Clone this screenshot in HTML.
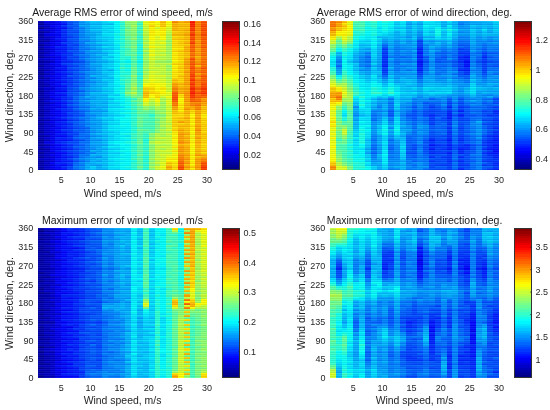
<!DOCTYPE html><html><head><meta charset="utf-8"><style>
html,body{margin:0;padding:0;background:#fff;width:550px;height:410px;overflow:hidden}
.c{position:absolute;top:0;height:149.50px}
.p{position:absolute;width:169.00px;height:149.50px;overflow:hidden;filter:blur(0.35px)}
.ov{position:absolute;left:0;top:0;right:0;bottom:0;background:repeating-linear-gradient(180deg,rgba(255,255,255,0.06) 0 1.038px,rgba(0,0,0,0.07) 1.038px 2.076px)}
.cb{position:absolute;width:18px;height:149.50px;box-sizing:border-box;border:0.6px solid #333}
svg{position:absolute;left:0;top:0}
text{font-family:"Liberation Sans",Arial,sans-serif;fill:#262626}
.t{font-size:9px}
.l{font-size:10.45px}
.yl{font-size:10.5px}
.h{font-size:10.5px;fill:#1a1a1a}
</style></head><body>

<div class="p" style="left:38.00px;top:20.75px">
<div class="c" style="left:0.00px;width:6.43px;background:linear-gradient(#0000b7 0.00px 2.08px,#00009d 2.08px 4.15px,#0000c3 4.15px 6.23px,#000092 6.23px 8.31px,#0000ca 8.31px 10.38px,#0000a5 10.38px 12.46px,#0000b3 12.46px 14.53px,#0000a4 14.53px 16.61px,#0000ba 16.61px 18.69px,#0000a5 18.69px 20.76px,#0000bf 20.76px 22.84px,#00009c 22.84px 24.92px,#0000ba 24.92px 26.99px,#00009c 26.99px 29.07px,#0000be 29.07px 31.15px,#0000a6 31.15px 33.22px,#0000ba 33.22px 35.30px,#00009f 35.30px 37.38px,#0000ca 37.38px 39.45px,#0000ab 39.45px 41.53px,#0000b9 41.53px 43.60px,#00009f 43.60px 45.68px,#0000b9 45.68px 47.76px,#0000a2 47.76px 49.83px,#0000a9 49.83px 51.91px,#000099 51.91px 53.99px,#0000b7 53.99px 56.06px,#00009e 56.06px 58.14px,#0000c1 58.14px 60.22px,#0000ac 60.22px 62.29px,#0000af 62.29px 64.37px,#0000a8 64.37px 66.44px,#0000b9 66.44px 68.52px,#0000a0 68.52px 70.60px,#0000ad 70.60px 74.75px,#0000b5 74.75px 76.83px,#0000a3 76.83px 78.90px,#0000b0 78.90px 80.98px,#0000ab 80.98px 83.06px,#0000aa 83.06px 85.13px,#0000b6 85.13px 87.21px,#0000b0 87.21px 89.28px,#0000a5 89.28px 91.36px,#0000b3 91.36px 93.44px,#0000a0 93.44px 95.51px,#0000bf 95.51px 97.59px,#0000a0 97.59px 99.67px,#0000c0 99.67px 101.74px,#0000a0 101.74px 103.82px,#0000b8 103.82px 105.90px,#0000b0 105.90px 107.97px,#0000b7 107.97px 110.05px,#00009d 110.05px 112.12px,#0000bf 112.12px 114.20px,#0000a2 114.20px 116.28px,#0000ba 116.28px 118.35px,#00009f 118.35px 120.43px,#0000ae 120.43px 122.51px,#00009f 122.51px 124.58px,#0000bc 124.58px 126.66px,#00009b 126.66px 128.74px,#0000c0 128.74px 130.81px,#00009d 130.81px 132.89px,#0000be 132.89px 134.97px,#0000a3 134.97px 137.04px,#0000c6 137.04px 139.12px,#0000a8 139.12px 141.19px,#0000b2 141.19px 143.27px,#0000ad 143.27px 145.35px,#0000b8 145.35px 147.42px,#0000a5 147.42px 149.50px)"></div>
<div class="c" style="left:5.83px;width:6.43px;background:linear-gradient(#0000f1 0.00px 2.08px,#0000cf 2.08px 4.15px,#0000d2 4.15px 6.23px,#0000c1 6.23px 8.31px,#0000e0 8.31px 10.38px,#0000ba 10.38px 12.46px,#0000e7 12.46px 14.53px,#0000cb 14.53px 16.61px,#0000c7 16.61px 18.69px,#0000b1 18.69px 20.76px,#0000d9 20.76px 22.84px,#0000bf 22.84px 24.92px,#0000e1 24.92px 26.99px,#0000c7 26.99px 29.07px,#0000d3 29.07px 31.15px,#0000c2 31.15px 33.22px,#0000e3 33.22px 35.30px,#0000c2 35.30px 37.38px,#0000de 37.38px 39.45px,#0000bd 39.45px 41.53px,#0000cf 41.53px 43.60px,#0000cb 43.60px 45.68px,#0000d5 45.68px 47.76px,#0000b9 47.76px 49.83px,#0000dc 49.83px 51.91px,#0000bf 51.91px 53.99px,#0000df 53.99px 56.06px,#0000c0 56.06px 58.14px,#0000ca 58.14px 60.22px,#0000d3 60.22px 62.29px,#0000ca 62.29px 64.37px,#0000b5 64.37px 66.44px,#0000dd 66.44px 68.52px,#0000c8 68.52px 70.60px,#0000d5 70.60px 72.67px,#0000cc 72.67px 74.75px,#0000c9 74.75px 76.83px,#0000c2 76.83px 78.90px,#0000de 78.90px 80.98px,#0000be 80.98px 83.06px,#0000d1 83.06px 85.13px,#0000d4 85.13px 89.28px,#0000c2 89.28px 91.36px,#0000cf 91.36px 93.44px,#0000cc 93.44px 95.51px,#0000da 95.51px 97.59px,#0000b9 97.59px 99.67px,#0000d6 99.67px 101.74px,#0000c7 101.74px 103.82px,#0000da 103.82px 105.90px,#0000d2 105.90px 110.05px,#0000ce 110.05px 112.12px,#0000df 112.12px 114.20px,#0000b3 114.20px 116.28px,#0000dd 116.28px 118.35px,#0000c0 118.35px 120.43px,#0000e5 120.43px 122.51px,#0000ba 122.51px 124.58px,#0000d8 124.58px 126.66px,#0000b8 126.66px 128.74px,#0000c6 128.74px 130.81px,#0000c7 130.81px 132.89px,#0000d1 132.89px 134.97px,#0000c4 134.97px 137.04px,#0000d7 137.04px 139.12px,#0000c2 139.12px 141.19px,#0000d5 141.19px 143.27px,#0000c4 143.27px 145.35px,#0000d8 145.35px 147.42px,#0000cb 147.42px 149.50px)"></div>
<div class="c" style="left:11.66px;width:6.43px;background:linear-gradient(#0000ea 0.00px 2.08px,#0000e6 2.08px 4.15px,#0001ff 4.15px 6.23px,#0000dc 6.23px 8.31px,#0000f0 8.31px 10.38px,#0000e5 10.38px 12.46px,#0001ff 12.46px 14.53px,#0000db 14.53px 16.61px,#0000ee 16.61px 18.69px,#0000e0 18.69px 20.76px,#0000fa 20.76px 22.84px,#0000e2 22.84px 24.92px,#0001ff 24.92px 26.99px,#0000e4 26.99px 29.07px,#0000ed 29.07px 31.15px,#0000ee 31.15px 33.22px,#0000fc 33.22px 35.30px,#0000de 35.30px 37.38px,#0000f5 37.38px 39.45px,#0000d7 39.45px 41.53px,#0000f9 41.53px 43.60px,#0000de 43.60px 45.68px,#0000ea 45.68px 47.76px,#0000df 47.76px 49.83px,#0000eb 49.83px 51.91px,#0000dc 51.91px 53.99px,#0000f6 53.99px 56.06px,#0000e5 56.06px 58.14px,#0000f8 58.14px 60.22px,#0000e6 60.22px 62.29px,#0000ef 62.29px 64.37px,#0000e4 64.37px 66.44px,#0000e1 66.44px 68.52px,#0000e6 68.52px 70.60px,#0000fc 70.60px 72.67px,#0000eb 72.67px 74.75px,#0000ff 74.75px 76.83px,#0000dc 76.83px 78.90px,#000eff 78.90px 80.98px,#0000db 80.98px 83.06px,#0000f6 83.06px 85.13px,#0000e8 85.13px 87.21px,#0000ef 87.21px 89.28px,#0000ee 89.28px 91.36px,#0000f1 91.36px 93.44px,#0000e5 93.44px 95.51px,#0000fd 95.51px 97.59px,#0000dd 97.59px 99.67px,#0000f6 99.67px 101.74px,#0000e9 101.74px 103.82px,#0000de 103.82px 105.90px,#0000ef 105.90px 107.97px,#0000ee 107.97px 110.05px,#0000e5 110.05px 112.12px,#0000ee 112.12px 114.20px,#0000e4 114.20px 116.28px,#0000f7 116.28px 118.35px,#0000e7 118.35px 120.43px,#0000f3 120.43px 122.51px,#0000e1 122.51px 124.58px,#0000fd 124.58px 126.66px,#0000e7 126.66px 128.74px,#0000f9 128.74px 130.81px,#0000d8 130.81px 132.89px,#0000f9 132.89px 134.97px,#0000d5 134.97px 137.04px,#0000eb 137.04px 139.12px,#0000d8 139.12px 141.19px,#0002ff 141.19px 143.27px,#0000de 143.27px 145.35px,#0000f8 145.35px 147.42px,#0000e4 147.42px 149.50px)"></div>
<div class="c" style="left:17.48px;width:6.43px;background:linear-gradient(#000eff 0.00px 2.08px,#0000f8 2.08px 4.15px,#000eff 4.15px 6.23px,#0008ff 6.23px 8.31px,#0006ff 8.31px 10.38px,#000cff 10.38px 12.46px,#0009ff 12.46px 14.53px,#0005ff 14.53px 16.61px,#0018ff 16.61px 18.69px,#0000f6 18.69px 20.76px,#0010ff 20.76px 22.84px,#0000fa 22.84px 24.92px,#0022ff 24.92px 26.99px,#000bff 26.99px 29.07px,#001aff 29.07px 31.15px,#0008ff 31.15px 33.22px,#0011ff 33.22px 35.30px,#0000f2 35.30px 37.38px,#0005ff 37.38px 39.45px,#0004ff 39.45px 41.53px,#000dff 41.53px 43.60px,#0000f7 43.60px 45.68px,#0018ff 45.68px 47.76px,#0000f7 47.76px 49.83px,#0018ff 49.83px 51.91px,#0000ff 51.91px 53.99px,#000eff 53.99px 56.06px,#0000fb 56.06px 58.14px,#0013ff 58.14px 60.22px,#0000f8 60.22px 62.29px,#000fff 62.29px 64.37px,#0000fa 64.37px 66.44px,#0014ff 66.44px 68.52px,#0000fc 68.52px 70.60px,#001dff 70.60px 72.67px,#0004ff 72.67px 74.75px,#0012ff 74.75px 76.83px,#0002ff 76.83px 78.90px,#0014ff 78.90px 80.98px,#0000fb 80.98px 83.06px,#0008ff 83.06px 85.13px,#0000f1 85.13px 87.21px,#001aff 87.21px 89.28px,#0000fe 89.28px 91.36px,#0008ff 91.36px 93.44px,#0000fb 93.44px 95.51px,#0012ff 95.51px 97.59px,#0000f4 97.59px 99.67px,#0019ff 99.67px 101.74px,#000aff 101.74px 103.82px,#0010ff 103.82px 105.90px,#0000fc 105.90px 107.97px,#0015ff 107.97px 110.05px,#0002ff 110.05px 112.12px,#0019ff 112.12px 114.20px,#0003ff 114.20px 116.28px,#0024ff 116.28px 118.35px,#000eff 118.35px 120.43px,#001fff 120.43px 122.51px,#0003ff 122.51px 124.58px,#0011ff 124.58px 126.66px,#0000fc 126.66px 128.74px,#0017ff 128.74px 130.81px,#0000fd 130.81px 132.89px,#0007ff 132.89px 134.97px,#0000fb 134.97px 137.04px,#0013ff 137.04px 139.12px,#0007ff 139.12px 141.19px,#0022ff 141.19px 143.27px,#000bff 143.27px 145.35px,#000cff 145.35px 147.42px,#0000fe 147.42px 149.50px)"></div>
<div class="c" style="left:23.31px;width:6.43px;background:linear-gradient(#0032ff 0.00px 2.08px,#0011ff 2.08px 4.15px,#0031ff 4.15px 6.23px,#000cff 6.23px 8.31px,#0035ff 8.31px 10.38px,#0022ff 10.38px 12.46px,#0032ff 12.46px 14.53px,#0024ff 14.53px 16.61px,#0026ff 16.61px 18.69px,#0016ff 18.69px 20.76px,#003aff 20.76px 22.84px,#0013ff 22.84px 24.92px,#0026ff 24.92px 26.99px,#0017ff 26.99px 29.07px,#0020ff 29.07px 31.15px,#001fff 31.15px 33.22px,#002dff 33.22px 35.30px,#0019ff 35.30px 37.38px,#0020ff 37.38px 39.45px,#0022ff 39.45px 41.53px,#003aff 41.53px 43.60px,#0013ff 43.60px 45.68px,#001cff 45.68px 47.76px,#000dff 47.76px 49.83px,#002cff 49.83px 51.91px,#0014ff 51.91px 53.99px,#0021ff 53.99px 56.06px,#001eff 56.06px 58.14px,#002aff 58.14px 60.22px,#0010ff 60.22px 62.29px,#0033ff 62.29px 64.37px,#0010ff 64.37px 66.44px,#0022ff 66.44px 68.52px,#0006ff 68.52px 70.60px,#002cff 70.60px 72.67px,#0010ff 72.67px 74.75px,#0027ff 74.75px 76.83px,#0021ff 76.83px 78.90px,#002fff 78.90px 80.98px,#0012ff 80.98px 83.06px,#0029ff 83.06px 85.13px,#0011ff 85.13px 87.21px,#002eff 87.21px 89.28px,#001dff 89.28px 91.36px,#001eff 91.36px 93.44px,#0013ff 93.44px 95.51px,#002fff 95.51px 97.59px,#0008ff 97.59px 99.67px,#002aff 99.67px 101.74px,#0015ff 101.74px 103.82px,#0029ff 103.82px 105.90px,#0012ff 105.90px 107.97px,#0039ff 107.97px 110.05px,#0015ff 110.05px 112.12px,#0022ff 112.12px 114.20px,#0006ff 114.20px 116.28px,#0025ff 116.28px 118.35px,#000fff 118.35px 120.43px,#0030ff 120.43px 122.51px,#0017ff 122.51px 124.58px,#002bff 124.58px 126.66px,#0010ff 126.66px 128.74px,#002dff 128.74px 130.81px,#000aff 130.81px 132.89px,#0025ff 132.89px 134.97px,#0012ff 134.97px 137.04px,#0025ff 137.04px 139.12px,#001aff 139.12px 141.19px,#002bff 141.19px 143.27px,#0008ff 143.27px 145.35px,#002eff 145.35px 147.42px,#0013ff 147.42px 149.50px)"></div>
<div class="c" style="left:29.14px;width:6.43px;background:linear-gradient(#0052ff 0.00px 2.08px,#0045ff 2.08px 4.15px,#0057ff 4.15px 6.23px,#003eff 6.23px 8.31px,#0052ff 8.31px 10.38px,#004aff 10.38px 12.46px,#0053ff 12.46px 14.53px,#0039ff 14.53px 16.61px,#0053ff 16.61px 18.69px,#0043ff 18.69px 20.76px,#0047ff 20.76px 22.84px,#0041ff 22.84px 24.92px,#0044ff 24.92px 26.99px,#0035ff 26.99px 29.07px,#0053ff 29.07px 31.15px,#0034ff 31.15px 33.22px,#003eff 33.22px 35.30px,#0040ff 35.30px 37.38px,#0043ff 37.38px 39.45px,#002cff 39.45px 41.53px,#0048ff 41.53px 43.60px,#0034ff 43.60px 45.68px,#004bff 45.68px 47.76px,#0034ff 47.76px 49.83px,#0048ff 49.83px 51.91px,#0029ff 51.91px 53.99px,#0054ff 53.99px 56.06px,#002eff 56.06px 58.14px,#0041ff 58.14px 60.22px,#0031ff 60.22px 62.29px,#003cff 62.29px 64.37px,#0039ff 64.37px 66.44px,#0049ff 66.44px 68.52px,#0041ff 68.52px 70.60px,#004eff 70.60px 72.67px,#0044ff 72.67px 74.75px,#0043ff 74.75px 76.83px,#0031ff 76.83px 78.90px,#0055ff 78.90px 80.98px,#0032ff 80.98px 83.06px,#0055ff 83.06px 85.13px,#0033ff 85.13px 87.21px,#0041ff 87.21px 89.28px,#002dff 89.28px 91.36px,#0047ff 91.36px 93.44px,#0031ff 93.44px 95.51px,#004bff 95.51px 97.59px,#0029ff 97.59px 99.67px,#004eff 99.67px 101.74px,#002bff 101.74px 103.82px,#003fff 103.82px 105.90px,#0028ff 105.90px 107.97px,#0043ff 107.97px 110.05px,#002cff 110.05px 112.12px,#0041ff 112.12px 114.20px,#0027ff 114.20px 116.28px,#0037ff 116.28px 118.35px,#001bff 118.35px 120.43px,#0049ff 120.43px 122.51px,#002dff 122.51px 124.58px,#003bff 124.58px 126.66px,#0024ff 126.66px 128.74px,#0046ff 128.74px 130.81px,#002bff 130.81px 132.89px,#003eff 132.89px 134.97px,#0020ff 134.97px 137.04px,#0045ff 137.04px 139.12px,#0021ff 139.12px 141.19px,#0040ff 141.19px 143.27px,#0026ff 143.27px 145.35px,#0047ff 145.35px 147.42px,#0040ff 147.42px 149.50px)"></div>
<div class="c" style="left:34.97px;width:6.43px;background:linear-gradient(#0065ff 0.00px 2.08px,#0064ff 2.08px 4.15px,#005bff 4.15px 6.23px,#005fff 6.23px 8.31px,#005dff 8.31px 10.38px,#0048ff 10.38px 12.46px,#0061ff 12.46px 14.53px,#004cff 14.53px 16.61px,#005bff 16.61px 18.69px,#004eff 18.69px 20.76px,#005bff 20.76px 22.84px,#003cff 22.84px 24.92px,#0056ff 24.92px 26.99px,#0048ff 26.99px 29.07px,#0053ff 29.07px 31.15px,#004bff 31.15px 33.22px,#005fff 33.22px 35.30px,#0040ff 35.30px 37.38px,#0055ff 37.38px 39.45px,#0040ff 39.45px 41.53px,#005fff 41.53px 43.60px,#003eff 43.60px 45.68px,#005dff 45.68px 47.76px,#003fff 47.76px 49.83px,#005eff 49.83px 51.91px,#004bff 51.91px 53.99px,#0056ff 53.99px 56.06px,#0045ff 56.06px 58.14px,#005bff 58.14px 60.22px,#0042ff 60.22px 62.29px,#0060ff 62.29px 64.37px,#0045ff 64.37px 66.44px,#005fff 66.44px 68.52px,#004bff 68.52px 70.60px,#0062ff 70.60px 72.67px,#0054ff 72.67px 74.75px,#0069ff 74.75px 76.83px,#005dff 76.83px 78.90px,#006bff 78.90px 80.98px,#0050ff 80.98px 83.06px,#006bff 83.06px 85.13px,#004aff 85.13px 87.21px,#0068ff 87.21px 89.28px,#0048ff 89.28px 91.36px,#004eff 91.36px 93.44px,#0045ff 93.44px 95.51px,#005cff 95.51px 97.59px,#003fff 97.59px 99.67px,#0061ff 99.67px 101.74px,#0052ff 101.74px 103.82px,#005cff 103.82px 105.90px,#0042ff 105.90px 107.97px,#0064ff 107.97px 110.05px,#0049ff 110.05px 112.12px,#0047ff 112.12px 114.20px,#004bff 114.20px 116.28px,#0066ff 116.28px 118.35px,#003fff 118.35px 120.43px,#004eff 120.43px 122.51px,#0047ff 122.51px 124.58px,#0063ff 124.58px 126.66px,#0044ff 126.66px 128.74px,#0057ff 128.74px 130.81px,#0041ff 130.81px 132.89px,#0052ff 132.89px 134.97px,#003fff 134.97px 137.04px,#006bff 137.04px 139.12px,#0049ff 139.12px 141.19px,#006cff 141.19px 143.27px,#0067ff 143.27px 145.35px,#007bff 145.35px 147.42px,#0068ff 147.42px 149.50px)"></div>
<div class="c" style="left:40.79px;width:6.43px;background:linear-gradient(#0098ff 0.00px 2.08px,#0092ff 2.08px 4.15px,#00a6ff 4.15px 6.23px,#007cff 6.23px 8.31px,#008bff 8.31px 10.38px,#007fff 10.38px 12.46px,#008bff 12.46px 14.53px,#007cff 14.53px 16.61px,#0090ff 16.61px 18.69px,#007cff 18.69px 20.76px,#007eff 20.76px 22.84px,#0072ff 22.84px 24.92px,#007cff 24.92px 26.99px,#0074ff 26.99px 29.07px,#007aff 29.07px 31.15px,#005fff 31.15px 33.22px,#007cff 33.22px 35.30px,#0067ff 35.30px 37.38px,#0075ff 37.38px 39.45px,#0054ff 39.45px 41.53px,#0066ff 41.53px 43.60px,#0063ff 43.60px 45.68px,#0067ff 45.68px 47.76px,#005eff 47.76px 49.83px,#007cff 49.83px 51.91px,#0059ff 51.91px 53.99px,#0071ff 53.99px 56.06px,#0059ff 56.06px 58.14px,#0079ff 58.14px 60.22px,#0061ff 60.22px 62.29px,#0072ff 62.29px 64.37px,#0068ff 64.37px 66.44px,#0087ff 66.44px 68.52px,#005cff 68.52px 70.60px,#0086ff 70.60px 72.67px,#006dff 72.67px 74.75px,#008aff 74.75px 76.83px,#007eff 76.83px 78.90px,#008fff 78.90px 80.98px,#0079ff 80.98px 83.06px,#0086ff 83.06px 85.13px,#006cff 85.13px 87.21px,#0084ff 87.21px 89.28px,#005dff 89.28px 91.36px,#0068ff 91.36px 93.44px,#0055ff 93.44px 95.51px,#007aff 95.51px 97.59px,#005eff 97.59px 99.67px,#0075ff 99.67px 101.74px,#0068ff 101.74px 103.82px,#0067ff 103.82px 105.90px,#0056ff 105.90px 107.97px,#0064ff 107.97px 110.05px,#005cff 110.05px 112.12px,#0071ff 112.12px 114.20px,#0066ff 114.20px 116.28px,#0078ff 116.28px 118.35px,#0050ff 118.35px 120.43px,#0070ff 120.43px 122.51px,#005eff 122.51px 124.58px,#006cff 124.58px 126.66px,#005eff 126.66px 128.74px,#0071ff 128.74px 130.81px,#005aff 130.81px 132.89px,#007aff 132.89px 134.97px,#0074ff 134.97px 137.04px,#0089ff 137.04px 139.12px,#006bff 139.12px 141.19px,#008cff 141.19px 143.27px,#0076ff 143.27px 145.35px,#0090ff 145.35px 147.42px,#0080ff 147.42px 149.50px)"></div>
<div class="c" style="left:46.62px;width:6.43px;background:linear-gradient(#00b6ff 0.00px 2.08px,#009dff 2.08px 4.15px,#00a9ff 4.15px 6.23px,#00a0ff 6.23px 8.31px,#00a7ff 8.31px 10.38px,#009aff 10.38px 12.46px,#00a4ff 12.46px 14.53px,#008dff 14.53px 16.61px,#009aff 16.61px 18.69px,#007dff 18.69px 20.76px,#00acff 20.76px 22.84px,#0081ff 22.84px 24.92px,#0091ff 24.92px 26.99px,#0075ff 26.99px 29.07px,#0096ff 29.07px 31.15px,#008aff 31.15px 33.22px,#0089ff 33.22px 35.30px,#007bff 35.30px 37.38px,#0093ff 37.38px 39.45px,#007cff 39.45px 41.53px,#007fff 41.53px 43.60px,#0081ff 43.60px 45.68px,#007dff 45.68px 47.76px,#006dff 47.76px 49.83px,#0094ff 49.83px 51.91px,#007fff 51.91px 53.99px,#0089ff 53.99px 56.06px,#0083ff 56.06px 58.14px,#0087ff 58.14px 60.22px,#007aff 60.22px 62.29px,#0092ff 62.29px 64.37px,#007eff 64.37px 66.44px,#0099ff 66.44px 68.52px,#0085ff 68.52px 70.60px,#00a0ff 70.60px 72.67px,#008fff 72.67px 74.75px,#00b1ff 74.75px 76.83px,#0086ff 76.83px 78.90px,#00a5ff 78.90px 80.98px,#0080ff 80.98px 83.06px,#0098ff 83.06px 85.13px,#0075ff 85.13px 87.21px,#0090ff 87.21px 89.28px,#0073ff 89.28px 91.36px,#0090ff 91.36px 93.44px,#007cff 93.44px 95.51px,#0082ff 95.51px 97.59px,#007eff 97.59px 99.67px,#008fff 99.67px 101.74px,#007bff 101.74px 103.82px,#008fff 103.82px 105.90px,#0062ff 105.90px 107.97px,#007dff 107.97px 110.05px,#0068ff 110.05px 112.12px,#007dff 112.12px 114.20px,#0064ff 114.20px 116.28px,#0073ff 116.28px 118.35px,#006dff 118.35px 120.43px,#0077ff 120.43px 122.51px,#0079ff 122.51px 124.58px,#007eff 124.58px 126.66px,#0079ff 126.66px 128.74px,#0076ff 128.74px 130.81px,#0077ff 130.81px 132.89px,#007cff 132.89px 134.97px,#0087ff 134.97px 137.04px,#009dff 137.04px 139.12px,#0088ff 139.12px 141.19px,#00a6ff 141.19px 143.27px,#00a9ff 143.27px 145.35px,#00adff 145.35px 147.42px,#00abff 147.42px 149.50px)"></div>
<div class="c" style="left:52.45px;width:6.43px;background:linear-gradient(#00cfff 0.00px 2.08px,#00b5ff 2.08px 4.15px,#00c8ff 4.15px 6.23px,#00b2ff 6.23px 8.31px,#00c7ff 8.31px 10.38px,#00acff 10.38px 14.53px,#00a8ff 14.53px 16.61px,#00adff 16.61px 18.69px,#009bff 18.69px 20.76px,#00adff 20.76px 22.84px,#0096ff 22.84px 24.92px,#00a7ff 24.92px 26.99px,#008fff 26.99px 29.07px,#00afff 29.07px 31.15px,#0091ff 31.15px 33.22px,#00a6ff 33.22px 35.30px,#0095ff 35.30px 37.38px,#00a5ff 37.38px 39.45px,#0095ff 39.45px 41.53px,#00abff 41.53px 43.60px,#0099ff 43.60px 45.68px,#009eff 45.68px 47.76px,#008cff 47.76px 49.83px,#00a0ff 49.83px 51.91px,#0090ff 51.91px 53.99px,#00baff 53.99px 56.06px,#0085ff 56.06px 58.14px,#00aaff 58.14px 60.22px,#008aff 60.22px 62.29px,#00a2ff 62.29px 64.37px,#009eff 64.37px 66.44px,#00afff 66.44px 68.52px,#0094ff 68.52px 70.60px,#00c1ff 70.60px 72.67px,#00acff 72.67px 74.75px,#00a8ff 74.75px 76.83px,#00a0ff 76.83px 78.90px,#00b7ff 78.90px 80.98px,#00a9ff 80.98px 83.06px,#00abff 83.06px 85.13px,#009cff 85.13px 87.21px,#00b4ff 87.21px 89.28px,#0093ff 89.28px 91.36px,#00a7ff 91.36px 93.44px,#0089ff 93.44px 95.51px,#00a1ff 95.51px 97.59px,#0097ff 97.59px 99.67px,#00a8ff 99.67px 101.74px,#008fff 101.74px 103.82px,#00a3ff 103.82px 105.90px,#0095ff 105.90px 107.97px,#00a0ff 107.97px 110.05px,#008bff 110.05px 112.12px,#00acff 112.12px 114.20px,#0089ff 114.20px 116.28px,#00a9ff 116.28px 118.35px,#0091ff 118.35px 120.43px,#00a5ff 120.43px 122.51px,#0099ff 122.51px 124.58px,#009bff 124.58px 126.66px,#008aff 126.66px 128.74px,#00b4ff 128.74px 130.81px,#0086ff 130.81px 132.89px,#00bcff 132.89px 134.97px,#009eff 134.97px 137.04px,#00b1ff 137.04px 139.12px,#00afff 139.12px 141.19px,#00b8ff 141.19px 143.27px,#00a5ff 143.27px 145.35px,#00d6ff 145.35px 147.42px,#00c2ff 147.42px 149.50px)"></div>
<div class="c" style="left:58.28px;width:6.43px;background:linear-gradient(#00c9ff 0.00px 2.08px,#00b4ff 2.08px 4.15px,#00cbff 4.15px 6.23px,#00b9ff 6.23px 8.31px,#00cdff 8.31px 10.38px,#00b1ff 10.38px 12.46px,#00c4ff 12.46px 14.53px,#00c3ff 14.53px 16.61px,#00c6ff 16.61px 18.69px,#00b0ff 18.69px 20.76px,#00ceff 20.76px 22.84px,#00a1ff 22.84px 24.92px,#00beff 24.92px 26.99px,#00a5ff 26.99px 29.07px,#00afff 29.07px 31.15px,#009fff 31.15px 33.22px,#00beff 33.22px 35.30px,#00a0ff 35.30px 37.38px,#00b7ff 37.38px 39.45px,#00a8ff 39.45px 41.53px,#00b4ff 41.53px 43.60px,#009fff 43.60px 45.68px,#00b1ff 45.68px 47.76px,#00a6ff 47.76px 49.83px,#00aeff 49.83px 51.91px,#00a1ff 51.91px 53.99px,#00b8ff 53.99px 56.06px,#00a6ff 56.06px 58.14px,#00b4ff 58.14px 60.22px,#00a2ff 60.22px 62.29px,#00baff 62.29px 64.37px,#00aaff 64.37px 66.44px,#00baff 66.44px 68.52px,#00a2ff 68.52px 70.60px,#00c2ff 70.60px 72.67px,#00b2ff 72.67px 74.75px,#00baff 74.75px 76.83px,#00afff 76.83px 78.90px,#00bcff 78.90px 80.98px,#00b1ff 80.98px 83.06px,#00baff 83.06px 85.13px,#00a8ff 85.13px 87.21px,#00adff 87.21px 89.28px,#009aff 89.28px 91.36px,#00aaff 91.36px 93.44px,#00a0ff 93.44px 95.51px,#00bdff 95.51px 97.59px,#00a0ff 97.59px 99.67px,#00acff 99.67px 101.74px,#00a0ff 101.74px 103.82px,#00aaff 103.82px 105.90px,#009eff 105.90px 107.97px,#00b6ff 107.97px 110.05px,#009cff 110.05px 112.12px,#00c0ff 112.12px 114.20px,#0096ff 114.20px 116.28px,#00b8ff 116.28px 118.35px,#008fff 118.35px 120.43px,#00abff 120.43px 122.51px,#009fff 122.51px 124.58px,#00aaff 124.58px 126.66px,#00a7ff 126.66px 128.74px,#00a8ff 128.74px 132.89px,#00b7ff 132.89px 134.97px,#0090ff 134.97px 137.04px,#00bfff 137.04px 139.12px,#00a2ff 139.12px 141.19px,#00c6ff 141.19px 143.27px,#009fff 143.27px 145.35px,#00b3ff 145.35px 147.42px,#00abff 147.42px 149.50px)"></div>
<div class="c" style="left:64.10px;width:6.43px;background:linear-gradient(#00dfff 0.00px 2.08px,#00c7ff 2.08px 4.15px,#00e5ff 4.15px 6.23px,#00daff 6.23px 8.31px,#00dbff 8.31px 10.38px,#00daff 10.38px 12.46px,#00e7ff 12.46px 14.53px,#00d0ff 14.53px 16.61px,#00d5ff 16.61px 18.69px,#00c1ff 18.69px 20.76px,#00dcff 20.76px 22.84px,#00b9ff 22.84px 24.92px,#00e3ff 24.92px 26.99px,#00bbff 26.99px 29.07px,#00d5ff 29.07px 31.15px,#00b3ff 31.15px 33.22px,#00c1ff 33.22px 35.30px,#00cbff 35.30px 37.38px,#00d2ff 37.38px 39.45px,#00b4ff 39.45px 41.53px,#00ceff 41.53px 43.60px,#00c7ff 43.60px 45.68px,#00ceff 45.68px 47.76px,#00bdff 47.76px 49.83px,#00d2ff 49.83px 51.91px,#00c0ff 51.91px 56.06px,#00bdff 56.06px 58.14px,#00d4ff 58.14px 60.22px,#00b7ff 60.22px 62.29px,#00c0ff 62.29px 64.37px,#00bbff 64.37px 66.44px,#00d5ff 66.44px 68.52px,#00baff 68.52px 70.60px,#00d5ff 70.60px 72.67px,#00b1ff 72.67px 74.75px,#00c5ff 74.75px 76.83px,#00b5ff 76.83px 78.90px,#00bfff 78.90px 80.98px,#00aaff 80.98px 83.06px,#00c0ff 83.06px 85.13px,#00a7ff 85.13px 87.21px,#00c4ff 87.21px 89.28px,#00a3ff 89.28px 91.36px,#00c3ff 91.36px 93.44px,#00b1ff 93.44px 95.51px,#00daff 95.51px 97.59px,#00bcff 97.59px 99.67px,#00cfff 99.67px 101.74px,#00b4ff 101.74px 103.82px,#00ceff 103.82px 105.90px,#00baff 105.90px 107.97px,#00d0ff 107.97px 110.05px,#00bcff 110.05px 112.12px,#00c7ff 112.12px 114.20px,#00aeff 114.20px 116.28px,#00c8ff 116.28px 118.35px,#00aeff 118.35px 120.43px,#00c1ff 120.43px 122.51px,#00a7ff 122.51px 124.58px,#00caff 124.58px 126.66px,#00abff 126.66px 128.74px,#00c7ff 128.74px 130.81px,#00b3ff 130.81px 132.89px,#00c7ff 132.89px 134.97px,#00bbff 134.97px 137.04px,#00bcff 137.04px 139.12px,#00bfff 139.12px 141.19px,#00c7ff 141.19px 143.27px,#00b6ff 143.27px 145.35px,#00cdff 145.35px 147.42px,#00b3ff 147.42px 149.50px)"></div>
<div class="c" style="left:69.93px;width:6.43px;background:linear-gradient(#00f0ff 0.00px 2.08px,#00c3ff 2.08px 4.15px,#00eaff 4.15px 6.23px,#00d7ff 6.23px 8.31px,#00e8ff 8.31px 10.38px,#00d2ff 10.38px 12.46px,#00edff 12.46px 14.53px,#00d7ff 14.53px 16.61px,#00ddff 16.61px 18.69px,#00d4ff 18.69px 20.76px,#00ddff 20.76px 22.84px,#00c7ff 22.84px 24.92px,#00dcff 24.92px 26.99px,#00c6ff 26.99px 29.07px,#00e1ff 29.07px 31.15px,#00ccff 31.15px 33.22px,#00eaff 33.22px 35.30px,#00c5ff 35.30px 37.38px,#00e8ff 37.38px 39.45px,#00c7ff 39.45px 41.53px,#00daff 41.53px 43.60px,#00d1ff 43.60px 45.68px,#00e3ff 45.68px 47.76px,#00b3ff 47.76px 49.83px,#00d2ff 49.83px 51.91px,#00ccff 51.91px 53.99px,#00daff 53.99px 56.06px,#00bcff 56.06px 58.14px,#00d7ff 58.14px 60.22px,#00ccff 60.22px 62.29px,#00dfff 62.29px 64.37px,#00d7ff 64.37px 66.44px,#00deff 66.44px 68.52px,#00caff 68.52px 70.60px,#00daff 70.60px 72.67px,#00d6ff 72.67px 74.75px,#00eaff 74.75px 76.83px,#00bfff 76.83px 78.90px,#00e2ff 78.90px 80.98px,#00cbff 80.98px 83.06px,#00e5ff 83.06px 85.13px,#00cdff 85.13px 87.21px,#00ebff 87.21px 89.28px,#00dbff 89.28px 91.36px,#00d8ff 91.36px 93.44px,#00caff 93.44px 95.51px,#00dbff 95.51px 97.59px,#00c7ff 97.59px 99.67px,#00e4ff 99.67px 101.74px,#00d2ff 101.74px 103.82px,#00edff 103.82px 105.90px,#00dcff 105.90px 107.97px,#00ebff 107.97px 110.05px,#00c9ff 110.05px 112.12px,#00e2ff 112.12px 114.20px,#00caff 114.20px 116.28px,#00d9ff 116.28px 118.35px,#00ceff 118.35px 120.43px,#00ecff 120.43px 122.51px,#00d2ff 122.51px 124.58px,#00f1ff 124.58px 126.66px,#00ceff 126.66px 128.74px,#00e6ff 128.74px 130.81px,#00d0ff 130.81px 132.89px,#00e7ff 132.89px 134.97px,#00d4ff 134.97px 137.04px,#00eeff 137.04px 139.12px,#00d1ff 139.12px 141.19px,#00e9ff 141.19px 143.27px,#00d5ff 143.27px 145.35px,#00eaff 145.35px 147.42px,#00d8ff 147.42px 149.50px)"></div>
<div class="c" style="left:75.76px;width:6.43px;background:linear-gradient(#00feff 0.00px 2.08px,#02fffd 2.08px 4.15px,#00feff 4.15px 6.23px,#00fdff 6.23px 8.31px,#05fffa 8.31px 10.38px,#00f2ff 10.38px 12.46px,#11ffee 12.46px 14.53px,#00f7ff 14.53px 16.61px,#10ffef 16.61px 18.69px,#00f1ff 18.69px 20.76px,#0bfff4 20.76px 22.84px,#00eaff 22.84px 24.92px,#00f6ff 24.92px 26.99px,#00e3ff 26.99px 29.07px,#06fff9 29.07px 31.15px,#00e8ff 31.15px 33.22px,#02fffd 33.22px 35.30px,#00f2ff 35.30px 37.38px,#01fffe 37.38px 39.45px,#00e8ff 39.45px 41.53px,#00fcff 41.53px 43.60px,#00eaff 43.60px 45.68px,#02fffd 45.68px 47.76px,#00e9ff 47.76px 49.83px,#00fcff 49.83px 51.91px,#00f0ff 51.91px 53.99px,#0bfff4 53.99px 56.06px,#00f6ff 56.06px 58.14px,#00f5ff 58.14px 60.22px,#00fcff 60.22px 62.29px,#00fbff 62.29px 64.37px,#00ecff 64.37px 66.44px,#03fffc 66.44px 68.52px,#00f0ff 68.52px 70.60px,#02fffd 70.60px 72.67px,#00d5ff 72.67px 74.75px,#00f6ff 74.75px 76.83px,#00e2ff 76.83px 78.90px,#00f6ff 78.90px 80.98px,#00d6ff 80.98px 83.06px,#00e8ff 83.06px 85.13px,#00d4ff 85.13px 87.21px,#00f3ff 87.21px 89.28px,#00e3ff 89.28px 91.36px,#00ebff 91.36px 93.44px,#00d8ff 93.44px 95.51px,#00fbff 95.51px 97.59px,#00e1ff 97.59px 99.67px,#00ebff 99.67px 101.74px,#00dbff 101.74px 103.82px,#00f6ff 103.82px 105.90px,#00e6ff 105.90px 107.97px,#00f2ff 107.97px 110.05px,#00dbff 110.05px 112.12px,#00e4ff 112.12px 114.20px,#00e6ff 114.20px 116.28px,#00eaff 116.28px 118.35px,#00e0ff 118.35px 120.43px,#00fcff 120.43px 122.51px,#00e1ff 122.51px 124.58px,#00efff 124.58px 126.66px,#00d5ff 126.66px 128.74px,#00f1ff 128.74px 130.81px,#00d1ff 130.81px 132.89px,#00eaff 132.89px 134.97px,#00e1ff 134.97px 137.04px,#00f9ff 137.04px 139.12px,#00e4ff 139.12px 141.19px,#00edff 141.19px 143.27px,#00e2ff 143.27px 145.35px,#00f0ff 145.35px 147.42px,#00d9ff 147.42px 149.50px)"></div>
<div class="c" style="left:81.59px;width:6.43px;background:linear-gradient(#38ffc7 0.00px 2.08px,#21ffde 2.08px 4.15px,#38ffc7 4.15px 6.23px,#21ffde 6.23px 8.31px,#37ffc8 8.31px 10.38px,#23ffdc 10.38px 12.46px,#34ffcb 12.46px 14.53px,#18ffe7 14.53px 16.61px,#33ffcc 16.61px 18.69px,#19ffe6 18.69px 20.76px,#2effd1 20.76px 22.84px,#1dffe2 22.84px 24.92px,#35ffca 24.92px 26.99px,#1cffe3 26.99px 29.07px,#27ffd8 29.07px 31.15px,#28ffd7 31.15px 33.22px,#27ffd8 33.22px 35.30px,#21ffde 35.30px 37.38px,#2effd1 37.38px 39.45px,#10ffef 39.45px 41.53px,#2dffd2 41.53px 43.60px,#1dffe2 43.60px 45.68px,#40ffbf 45.68px 47.76px,#18ffe7 47.76px 49.83px,#28ffd7 49.83px 51.91px,#19ffe6 51.91px 53.99px,#2fffd0 53.99px 56.06px,#17ffe8 56.06px 58.14px,#33ffcc 58.14px 60.22px,#14ffeb 60.22px 62.29px,#2bffd4 62.29px 64.37px,#06fff9 64.37px 66.44px,#18ffe7 66.44px 68.52px,#15ffea 68.52px 70.60px,#25ffda 70.60px 72.67px,#0afff5 72.67px 74.75px,#0dfff2 74.75px 76.83px,#00f6ff 76.83px 78.90px,#00ffff 78.90px 80.98px,#00ebff 80.98px 83.06px,#08fff7 83.06px 85.13px,#00e2ff 85.13px 87.21px,#08fff7 87.21px 89.28px,#00ecff 89.28px 91.36px,#0efff1 91.36px 93.44px,#00e7ff 93.44px 95.51px,#01fffe 95.51px 97.59px,#00feff 97.59px 99.67px,#0ffff0 99.67px 101.74px,#00faff 101.74px 103.82px,#0ffff0 103.82px 105.90px,#00f2ff 105.90px 107.97px,#00f8ff 107.97px 110.05px,#00f3ff 110.05px 112.12px,#10ffef 112.12px 114.20px,#00ebff 114.20px 116.28px,#06fff9 116.28px 118.35px,#00ecff 118.35px 120.43px,#08fff7 120.43px 122.51px,#00fdff 122.51px 124.58px,#05fffa 124.58px 126.66px,#00edff 126.66px 128.74px,#0cfff3 128.74px 130.81px,#00e9ff 130.81px 132.89px,#0dfff2 132.89px 134.97px,#00efff 134.97px 137.04px,#0ffff0 137.04px 139.12px,#00efff 139.12px 141.19px,#0cfff3 141.19px 143.27px,#00f8ff 143.27px 145.35px,#08fff7 145.35px 147.42px,#00f5ff 147.42px 149.50px)"></div>
<div class="c" style="left:87.41px;width:6.43px;background:linear-gradient(#8fff70 0.00px 2.08px,#88ff77 2.08px 4.15px,#7fff80 4.15px 6.23px,#67ff98 6.23px 8.31px,#85ff7a 8.31px 10.38px,#6dff92 10.38px 12.46px,#78ff87 12.46px 14.53px,#5cffa3 14.53px 16.61px,#6aff95 16.61px 18.69px,#51ffae 18.69px 20.76px,#5cffa3 20.76px 22.84px,#4bffb4 22.84px 24.92px,#5fffa0 24.92px 26.99px,#3effc1 26.99px 29.07px,#48ffb7 29.07px 33.22px,#51ffae 33.22px 35.30px,#22ffdd 35.30px 37.38px,#1dffe2 37.38px 39.45px,#00fcff 39.45px 41.53px,#23ffdc 41.53px 43.60px,#04fffb 43.60px 45.68px,#26ffd9 45.68px 47.76px,#06fff9 47.76px 49.83px,#22ffdd 49.83px 51.91px,#1bffe4 51.91px 53.99px,#3effc1 53.99px 56.06px,#2bffd4 56.06px 58.14px,#4fffb0 58.14px 60.22px,#41ffbe 60.22px 62.29px,#60ff9f 62.29px 64.37px,#58ffa7 64.37px 66.44px,#69ff96 66.44px 68.52px,#67ff98 68.52px 70.60px,#96ff69 70.60px 72.67px,#67ff98 72.67px 74.75px,#3dffc2 74.75px 76.83px,#18ffe7 76.83px 78.90px,#1dffe2 78.90px 80.98px,#09fff6 80.98px 83.06px,#15ffea 83.06px 85.13px,#04fffb 85.13px 87.21px,#1affe5 87.21px 89.28px,#00faff 89.28px 91.36px,#19ffe6 91.36px 93.44px,#00faff 93.44px 95.51px,#13ffec 95.51px 97.59px,#04fffb 97.59px 99.67px,#0bfff4 99.67px 101.74px,#00f8ff 101.74px 103.82px,#04fffb 103.82px 105.90px,#00f4ff 105.90px 107.97px,#08fff7 107.97px 110.05px,#00f3ff 110.05px 112.12px,#16ffe9 112.12px 114.20px,#00e6ff 114.20px 116.28px,#13ffec 116.28px 118.35px,#00f4ff 118.35px 120.43px,#18ffe7 120.43px 122.51px,#00f5ff 122.51px 124.58px,#0bfff4 124.58px 126.66px,#04fffb 126.66px 128.74px,#0afff5 128.74px 130.81px,#00f7ff 130.81px 132.89px,#00fcff 132.89px 134.97px,#00f3ff 134.97px 137.04px,#06fff9 137.04px 139.12px,#00f7ff 139.12px 141.19px,#03fffc 141.19px 143.27px,#00f8ff 143.27px 145.35px,#17ffe8 145.35px 147.42px,#00f4ff 147.42px 149.50px)"></div>
<div class="c" style="left:93.24px;width:6.43px;background:linear-gradient(#a0ff5f 0.00px 2.08px,#92ff6d 2.08px 4.15px,#acff53 4.15px 6.23px,#92ff6d 6.23px 8.31px,#96ff69 8.31px 10.38px,#89ff76 10.38px 12.46px,#8bff74 12.46px 14.53px,#7eff81 14.53px 16.61px,#93ff6c 16.61px 18.69px,#6cff93 18.69px 20.76px,#81ff7e 20.76px 22.84px,#6fff90 22.84px 24.92px,#8aff75 24.92px 26.99px,#71ff8e 26.99px 29.07px,#73ff8c 29.07px 31.15px,#58ffa7 31.15px 33.22px,#73ff8c 33.22px 35.30px,#52ffad 35.30px 37.38px,#69ff96 37.38px 39.45px,#4effb1 39.45px 41.53px,#62ff9d 41.53px 43.60px,#58ffa7 43.60px 45.68px,#76ff89 45.68px 47.76px,#68ff97 47.76px 49.83px,#75ff8a 49.83px 51.91px,#70ff8f 51.91px 53.99px,#97ff68 53.99px 56.06px,#7eff81 56.06px 58.14px,#87ff78 58.14px 62.29px,#9cff63 62.29px 64.37px,#9aff65 64.37px 66.44px,#b5ff4a 66.44px 68.52px,#93ff6c 68.52px 70.60px,#c1ff3e 70.60px 72.67px,#90ff6f 72.67px 74.75px,#76ff89 74.75px 76.83px,#38ffc7 76.83px 78.90px,#63ff9c 78.90px 80.98px,#3affc5 80.98px 83.06px,#4cffb3 83.06px 85.13px,#2effd1 85.13px 87.21px,#43ffbc 87.21px 89.28px,#23ffdc 89.28px 91.36px,#38ffc7 91.36px 93.44px,#25ffda 93.44px 95.51px,#2fffd0 95.51px 97.59px,#22ffdd 97.59px 99.67px,#2fffd0 99.67px 101.74px,#30ffcf 101.74px 103.82px,#2effd1 103.82px 105.90px,#1fffe0 105.90px 107.97px,#2fffd0 107.97px 110.05px,#1effe1 110.05px 112.12px,#3cffc3 112.12px 114.20px,#30ffcf 114.20px 116.28px,#44ffbb 116.28px 118.35px,#1fffe0 118.35px 120.43px,#3effc1 120.43px 122.51px,#20ffdf 122.51px 124.58px,#2affd5 124.58px 126.66px,#2dffd2 126.66px 128.74px,#39ffc6 128.74px 130.81px,#1effe1 130.81px 132.89px,#30ffcf 132.89px 134.97px,#24ffdb 134.97px 137.04px,#3fffc0 137.04px 139.12px,#18ffe7 139.12px 141.19px,#2fffd0 141.19px 143.27px,#2affd5 143.27px 145.35px,#2fffd0 145.35px 147.42px,#1fffe0 147.42px 149.50px)"></div>
<div class="c" style="left:99.07px;width:6.43px;background:linear-gradient(#5dffa2 0.00px 2.08px,#31ffce 2.08px 4.15px,#4fffb0 4.15px 6.23px,#2fffd0 6.23px 8.31px,#4bffb4 8.31px 10.38px,#2effd1 10.38px 12.46px,#45ffba 12.46px 14.53px,#28ffd7 14.53px 16.61px,#3effc1 16.61px 18.69px,#2cffd3 18.69px 20.76px,#36ffc9 20.76px 22.84px,#17ffe8 22.84px 24.92px,#2affd5 24.92px 26.99px,#15ffea 26.99px 29.07px,#24ffdb 29.07px 31.15px,#0ffff0 31.15px 33.22px,#2effd1 33.22px 35.30px,#10ffef 35.30px 37.38px,#22ffdd 37.38px 39.45px,#05fffa 39.45px 41.53px,#21ffde 41.53px 43.60px,#19ffe6 43.60px 45.68px,#2cffd3 45.68px 47.76px,#20ffdf 47.76px 49.83px,#33ffcc 49.83px 51.91px,#15ffea 51.91px 53.99px,#38ffc7 53.99px 56.06px,#1bffe4 56.06px 58.14px,#3bffc4 58.14px 62.29px,#4affb5 62.29px 64.37px,#3fffc0 64.37px 66.44px,#62ff9d 66.44px 68.52px,#50ffaf 68.52px 70.60px,#63ff9c 70.60px 72.67px,#65ff9a 72.67px 74.75px,#78ff87 74.75px 76.83px,#83ff7c 76.83px 78.90px,#82ff7d 78.90px 80.98px,#65ff9a 80.98px 83.06px,#7cff83 83.06px 85.13px,#5cffa3 85.13px 87.21px,#70ff8f 87.21px 89.28px,#5effa1 89.28px 91.36px,#6fff90 91.36px 93.44px,#4fffb0 93.44px 95.51px,#6fff90 95.51px 97.59px,#5fffa0 97.59px 99.67px,#73ff8c 99.67px 101.74px,#63ff9c 101.74px 103.82px,#6dff92 103.82px 105.90px,#47ffb8 105.90px 107.97px,#71ff8e 107.97px 110.05px,#55ffaa 110.05px 112.12px,#63ff9c 112.12px 114.20px,#52ffad 114.20px 116.28px,#5dffa2 116.28px 118.35px,#63ff9c 118.35px 120.43px,#74ff8b 120.43px 122.51px,#52ffad 122.51px 124.58px,#60ff9f 124.58px 126.66px,#57ffa8 126.66px 128.74px,#68ff97 128.74px 130.81px,#51ffae 130.81px 132.89px,#71ff8e 132.89px 134.97px,#4dffb2 134.97px 137.04px,#6bff94 137.04px 139.12px,#58ffa7 139.12px 141.19px,#62ff9d 141.19px 143.27px,#4effb1 143.27px 145.35px,#75ff8a 145.35px 147.42px,#52ffad 147.42px 149.50px)"></div>
<div class="c" style="left:104.90px;width:6.43px;background:linear-gradient(#e4ff1b 0.00px 2.08px,#e8ff17 2.08px 4.15px,#d7ff28 4.15px 6.23px,#caff35 6.23px 8.31px,#d2ff2d 8.31px 10.38px,#c1ff3e 10.38px 12.46px,#c3ff3c 12.46px 14.53px,#adff52 14.53px 16.61px,#c0ff3f 16.61px 18.69px,#a0ff5f 18.69px 20.76px,#c6ff39 20.76px 22.84px,#a0ff5f 22.84px 24.92px,#bdff42 24.92px 26.99px,#93ff6c 26.99px 29.07px,#b9ff46 29.07px 31.15px,#8aff75 31.15px 33.22px,#abff54 33.22px 35.30px,#99ff66 35.30px 37.38px,#a5ff5a 37.38px 39.45px,#91ff6e 39.45px 41.53px,#99ff66 41.53px 45.68px,#acff53 45.68px 47.76px,#8aff75 47.76px 49.83px,#b4ff4b 49.83px 51.91px,#9eff61 51.91px 53.99px,#c0ff3f 53.99px 56.06px,#b0ff4f 56.06px 58.14px,#dbff24 58.14px 60.22px,#cdff32 60.22px 62.29px,#f8ff07 62.29px 64.37px,#fdff02 64.37px 66.44px,#ffd600 66.44px 68.52px,#ffd400 68.52px 70.60px,#ffb800 70.60px 72.67px,#ffc500 72.67px 74.75px,#ffc700 74.75px 76.83px,#fffe00 76.83px 78.90px,#fff700 78.90px 80.98px,#d5ff2a 80.98px 83.06px,#d6ff29 83.06px 85.13px,#95ff6a 85.13px 87.21px,#9aff65 87.21px 89.28px,#6bff94 89.28px 91.36px,#60ff9f 91.36px 93.44px,#48ffb7 93.44px 95.51px,#55ffaa 95.51px 97.59px,#41ffbe 97.59px 99.67px,#57ffa8 99.67px 101.74px,#42ffbd 101.74px 103.82px,#4dffb2 103.82px 105.90px,#3cffc3 105.90px 107.97px,#62ff9d 107.97px 110.05px,#45ffba 110.05px 112.12px,#3bffc4 112.12px 114.20px,#30ffcf 114.20px 116.28px,#3cffc3 116.28px 118.35px,#18ffe7 118.35px 120.43px,#2cffd3 120.43px 122.51px,#33ffcc 122.51px 124.58px,#38ffc7 124.58px 126.66px,#27ffd8 126.66px 128.74px,#3effc1 128.74px 130.81px,#23ffdc 130.81px 132.89px,#35ffca 132.89px 134.97px,#1dffe2 134.97px 137.04px,#2effd1 137.04px 139.12px,#1effe1 139.12px 141.19px,#3cffc3 141.19px 143.27px,#1fffe0 143.27px 145.35px,#39ffc6 145.35px 147.42px,#1effe1 147.42px 149.50px)"></div>
<div class="c" style="left:110.72px;width:6.43px;background:linear-gradient(#ffe600 0.00px 2.08px,#fff600 2.08px 4.15px,#ffd400 4.15px 6.23px,#fff900 6.23px 8.31px,#fff200 8.31px 10.38px,#ffee00 10.38px 12.46px,#fff700 12.46px 14.53px,#f9ff06 14.53px 16.61px,#fffe00 16.61px 18.69px,#eaff15 18.69px 20.76px,#f4ff0b 20.76px 22.84px,#e0ff1f 22.84px 24.92px,#fff800 24.92px 26.99px,#daff25 26.99px 29.07px,#f3ff0c 29.07px 31.15px,#dcff23 31.15px 33.22px,#f7ff08 33.22px 35.30px,#d4ff2b 35.30px 37.38px,#e0ff1f 37.38px 39.45px,#c7ff38 39.45px 41.53px,#cfff30 41.53px 43.60px,#c9ff36 43.60px 45.68px,#d6ff29 45.68px 47.76px,#c0ff3f 47.76px 49.83px,#e3ff1c 49.83px 51.91px,#d4ff2b 51.91px 53.99px,#ecff13 53.99px 56.06px,#dfff20 56.06px 58.14px,#f5ff0a 58.14px 60.22px,#eaff15 60.22px 62.29px,#fff500 62.29px 64.37px,#fff700 64.37px 66.44px,#ffdf00 66.44px 68.52px,#ffe700 68.52px 70.60px,#ffd100 70.60px 72.67px,#fffc00 72.67px 74.75px,#f9ff06 74.75px 76.83px,#d8ff27 76.83px 78.90px,#c5ff3a 78.90px 80.98px,#a7ff58 80.98px 83.06px,#acff53 83.06px 85.13px,#82ff7d 85.13px 87.21px,#7eff81 87.21px 89.28px,#58ffa7 89.28px 91.36px,#5affa5 91.36px 93.44px,#29ffd6 93.44px 95.51px,#4cffb3 95.51px 97.59px,#39ffc6 97.59px 99.67px,#50ffaf 99.67px 101.74px,#40ffbf 101.74px 103.82px,#53ffac 103.82px 105.90px,#3bffc4 105.90px 107.97px,#54ffab 107.97px 110.05px,#4fffb0 110.05px 112.12px,#90ff6f 112.12px 114.20px,#7bff84 114.20px 116.28px,#a3ff5c 116.28px 118.35px,#88ff77 118.35px 120.43px,#b4ff4b 120.43px 122.51px,#8aff75 122.51px 124.58px,#8cff73 124.58px 126.66px,#8dff72 126.66px 128.74px,#9cff63 128.74px 130.81px,#84ff7b 130.81px 132.89px,#8eff71 132.89px 134.97px,#89ff76 134.97px 137.04px,#a2ff5d 137.04px 139.12px,#82ff7d 139.12px 141.19px,#a0ff5f 141.19px 143.27px,#84ff7b 143.27px 145.35px,#a9ff56 145.35px 147.42px,#87ff78 147.42px 149.50px)"></div>
<div class="c" style="left:116.55px;width:6.43px;background:linear-gradient(#fdff02 0.00px 2.08px,#efff10 2.08px 4.15px,#fff800 4.15px 6.23px,#d4ff2b 6.23px 8.31px,#f4ff0b 8.31px 10.38px,#f7ff08 10.38px 12.46px,#f6ff09 12.46px 14.53px,#d8ff27 14.53px 16.61px,#e8ff17 16.61px 18.69px,#d3ff2c 18.69px 20.76px,#dfff20 20.76px 22.84px,#caff35 22.84px 24.92px,#e6ff19 24.92px 26.99px,#c3ff3c 26.99px 29.07px,#d6ff29 29.07px 31.15px,#c4ff3b 31.15px 33.22px,#d3ff2c 33.22px 35.30px,#b6ff49 35.30px 37.38px,#c9ff36 37.38px 39.45px,#a1ff5e 39.45px 41.53px,#c3ff3c 41.53px 43.60px,#adff52 43.60px 45.68px,#cfff30 45.68px 47.76px,#bfff40 47.76px 49.83px,#d4ff2b 49.83px 51.91px,#c6ff39 51.91px 53.99px,#e1ff1e 53.99px 56.06px,#ccff33 56.06px 58.14px,#edff12 58.14px 60.22px,#dfff20 60.22px 62.29px,#fffd00 62.29px 64.37px,#fffe00 64.37px 68.52px,#fff900 68.52px 70.60px,#ffdc00 70.60px 72.67px,#ffec00 72.67px 74.75px,#ffdb00 74.75px 76.83px,#f3ff0c 76.83px 78.90px,#ffff00 78.90px 80.98px,#d7ff28 80.98px 83.06px,#dcff23 83.06px 85.13px,#b1ff4e 85.13px 87.21px,#b3ff4c 87.21px 89.28px,#8eff71 89.28px 91.36px,#98ff67 91.36px 93.44px,#76ff89 93.44px 95.51px,#8cff73 95.51px 97.59px,#66ff99 97.59px 99.67px,#8bff74 99.67px 101.74px,#74ff8b 101.74px 103.82px,#83ff7c 103.82px 105.90px,#79ff86 105.90px 107.97px,#94ff6b 107.97px 110.05px,#81ff7e 110.05px 112.12px,#bbff44 112.12px 114.20px,#b4ff4b 114.20px 116.28px,#c8ff37 116.28px 118.35px,#aeff51 118.35px 120.43px,#d6ff29 120.43px 122.51px,#b5ff4a 122.51px 124.58px,#c8ff37 124.58px 126.66px,#c0ff3f 126.66px 128.74px,#cfff30 128.74px 130.81px,#b8ff47 130.81px 132.89px,#c8ff37 132.89px 134.97px,#b8ff47 134.97px 137.04px,#d5ff2a 137.04px 139.12px,#b1ff4e 139.12px 141.19px,#d0ff2f 141.19px 143.27px,#a8ff57 143.27px 145.35px,#d7ff28 145.35px 147.42px,#ccff33 147.42px 149.50px)"></div>
<div class="c" style="left:122.38px;width:6.43px;background:linear-gradient(#ffbc00 0.00px 2.08px,#ffcf00 2.08px 4.15px,#ffc700 4.15px 6.23px,#fff100 6.23px 8.31px,#ffea00 8.31px 10.38px,#fffa00 10.38px 12.46px,#fff200 12.46px 14.53px,#f9ff06 14.53px 16.61px,#fdff02 16.61px 18.69px,#d0ff2f 18.69px 20.76px,#f3ff0c 20.76px 22.84px,#c9ff36 22.84px 24.92px,#dcff23 24.92px 26.99px,#c6ff39 26.99px 29.07px,#dbff24 29.07px 31.15px,#b5ff4a 31.15px 33.22px,#d5ff2a 33.22px 35.30px,#b5ff4a 35.30px 37.38px,#c3ff3c 37.38px 39.45px,#a1ff5e 39.45px 41.53px,#bcff43 41.53px 43.60px,#bfff40 43.60px 45.68px,#c8ff37 45.68px 47.76px,#c3ff3c 47.76px 51.91px,#bdff42 51.91px 53.99px,#e1ff1e 53.99px 56.06px,#c6ff39 56.06px 58.14px,#deff21 58.14px 60.22px,#d8ff27 60.22px 62.29px,#f3ff0c 62.29px 64.37px,#f1ff0e 64.37px 66.44px,#ffef00 66.44px 68.52px,#fcff03 68.52px 70.60px,#fff400 70.60px 72.67px,#ebff14 72.67px 74.75px,#d0ff2f 74.75px 76.83px,#a7ff58 76.83px 78.90px,#b6ff49 78.90px 80.98px,#93ff6c 80.98px 83.06px,#a8ff57 83.06px 85.13px,#99ff66 85.13px 87.21px,#9fff60 87.21px 89.28px,#92ff6d 89.28px 91.36px,#a9ff56 91.36px 93.44px,#7dff82 93.44px 95.51px,#a2ff5d 95.51px 97.59px,#95ff6a 97.59px 99.67px,#adff52 99.67px 101.74px,#a0ff5f 101.74px 103.82px,#b8ff47 103.82px 105.90px,#93ff6c 105.90px 107.97px,#b8ff47 107.97px 110.05px,#a5ff5a 110.05px 112.12px,#b3ff4c 112.12px 114.20px,#a1ff5e 114.20px 116.28px,#d3ff2c 116.28px 118.35px,#acff53 118.35px 120.43px,#c7ff38 120.43px 122.51px,#acff53 122.51px 124.58px,#caff35 124.58px 126.66px,#a9ff56 126.66px 128.74px,#d3ff2c 128.74px 130.81px,#c0ff3f 130.81px 132.89px,#d9ff26 132.89px 134.97px,#c6ff39 134.97px 137.04px,#d6ff29 137.04px 139.12px,#d1ff2e 139.12px 141.19px,#e3ff1c 141.19px 143.27px,#d9ff26 143.27px 145.35px,#f2ff0d 145.35px 147.42px,#e1ff1e 147.42px 149.50px)"></div>
<div class="c" style="left:128.21px;width:6.43px;background:linear-gradient(#ffff00 0.00px 2.08px,#f2ff0d 2.08px 4.15px,#f4ff0b 4.15px 6.23px,#d7ff28 6.23px 8.31px,#d6ff29 8.31px 10.38px,#c3ff3c 10.38px 12.46px,#b7ff48 12.46px 14.53px,#a4ff5b 14.53px 16.61px,#b0ff4f 16.61px 18.69px,#91ff6e 18.69px 20.76px,#a4ff5b 20.76px 22.84px,#91ff6e 22.84px 24.92px,#a7ff58 24.92px 26.99px,#9aff65 26.99px 29.07px,#a7ff58 29.07px 31.15px,#9aff65 31.15px 33.22px,#aaff55 33.22px 35.30px,#a9ff56 35.30px 37.38px,#afff50 37.38px 39.45px,#8eff71 39.45px 41.53px,#bcff43 41.53px 43.60px,#8eff71 43.60px 45.68px,#a6ff59 45.68px 47.76px,#94ff6b 47.76px 49.83px,#b9ff46 49.83px 51.91px,#a5ff5a 51.91px 53.99px,#c0ff3f 53.99px 56.06px,#a2ff5d 56.06px 58.14px,#c3ff3c 58.14px 60.22px,#b6ff49 60.22px 62.29px,#d4ff2b 62.29px 64.37px,#beff41 64.37px 66.44px,#d6ff29 66.44px 68.52px,#c9ff36 68.52px 70.60px,#ebff14 70.60px 72.67px,#dbff24 72.67px 74.75px,#f5ff0a 74.75px 76.83px,#d0ff2f 76.83px 78.90px,#e2ff1d 78.90px 80.98px,#e5ff1a 80.98px 83.06px,#d8ff27 83.06px 85.13px,#c9ff36 85.13px 87.21px,#d9ff26 87.21px 89.28px,#c2ff3d 89.28px 91.36px,#d8ff27 91.36px 93.44px,#c6ff39 93.44px 95.51px,#d9ff26 95.51px 97.59px,#c4ff3b 97.59px 99.67px,#cfff30 99.67px 101.74px,#b7ff48 101.74px 103.82px,#d3ff2c 103.82px 105.90px,#bfff40 105.90px 107.97px,#dbff24 107.97px 110.05px,#aeff51 110.05px 112.12px,#d0ff2f 112.12px 114.20px,#b7ff48 114.20px 116.28px,#ccff33 116.28px 118.35px,#c2ff3d 118.35px 120.43px,#c9ff36 120.43px 122.51px,#b6ff49 122.51px 124.58px,#c6ff39 124.58px 126.66px,#c8ff37 126.66px 128.74px,#dcff23 128.74px 130.81px,#c2ff3d 130.81px 132.89px,#e0ff1f 132.89px 134.97px,#edff12 134.97px 137.04px,#ffed00 137.04px 139.12px,#fffa00 139.12px 141.19px,#ffc700 141.19px 143.27px,#ffd700 143.27px 145.35px,#ffa600 145.35px 147.42px,#ffbb00 147.42px 149.50px)"></div>
<div class="c" style="left:134.03px;width:6.43px;background:linear-gradient(#ff8a00 0.00px 2.08px,#ffb800 2.08px 4.15px,#ffae00 4.15px 6.23px,#ffbb00 6.23px 8.31px,#ffaf00 8.31px 10.38px,#ffd500 10.38px 12.46px,#ffc000 12.46px 14.53px,#ffdd00 14.53px 16.61px,#ffca00 16.61px 18.69px,#ffe200 18.69px 20.76px,#ffdd00 20.76px 22.84px,#ffe000 22.84px 24.92px,#ffe300 24.92px 26.99px,#fff100 26.99px 29.07px,#ffd700 29.07px 31.15px,#fff200 31.15px 33.22px,#ffe700 33.22px 35.30px,#fff300 35.30px 37.38px,#ffe800 37.38px 39.45px,#fffa00 39.45px 41.53px,#ffd500 41.53px 43.60px,#fffb00 43.60px 45.68px,#ffe500 45.68px 47.76px,#fff600 47.76px 49.83px,#ffe200 49.83px 51.91px,#ffea00 51.91px 53.99px,#ffe700 53.99px 56.06px,#ffe000 56.06px 58.14px,#ffbd00 58.14px 60.22px,#ffc900 60.22px 62.29px,#ffa100 62.29px 66.44px,#ff8600 66.44px 68.52px,#ff8400 68.52px 70.60px,#ff5900 70.60px 72.67px,#ff5e00 72.67px 74.75px,#ff5200 74.75px 78.90px,#ff5f00 78.90px 80.98px,#ff7f00 80.98px 83.06px,#ff7800 83.06px 85.13px,#ffa300 85.13px 87.21px,#ffa500 87.21px 89.28px,#ffc700 89.28px 91.36px,#ffc200 91.36px 93.44px,#ffdc00 93.44px 95.51px,#ffcf00 95.51px 97.59px,#ffd700 97.59px 99.67px,#ffca00 99.67px 101.74px,#ffd900 101.74px 103.82px,#ffce00 103.82px 105.90px,#ffe700 105.90px 107.97px,#ffce00 107.97px 110.05px,#ffec00 110.05px 112.12px,#ffee00 112.12px 114.20px,#f8ff07 114.20px 116.28px,#ffe800 116.28px 118.35px,#fdff02 118.35px 120.43px,#fff600 120.43px 122.51px,#efff10 122.51px 124.58px,#fff000 124.58px 126.66px,#e4ff1b 126.66px 128.74px,#ffea00 128.74px 130.81px,#ebff14 130.81px 132.89px,#fff100 132.89px 134.97px,#f5ff0a 134.97px 137.04px,#ffeb00 137.04px 139.12px,#feff01 139.12px 141.19px,#ffde00 141.19px 143.27px,#ffed00 143.27px 145.35px,#ffd600 145.35px 147.42px,#ffe000 147.42px 149.50px)"></div>
<div class="c" style="left:139.86px;width:6.43px;background:linear-gradient(#ffb400 0.00px 2.08px,#ffc600 2.08px 4.15px,#ffb700 4.15px 6.23px,#ffc900 6.23px 8.31px,#ffbb00 8.31px 10.38px,#ffc900 10.38px 12.46px,#ffbf00 12.46px 14.53px,#ffd600 14.53px 16.61px,#ffc300 16.61px 18.69px,#ffd900 18.69px 20.76px,#ffc900 20.76px 22.84px,#ffd700 22.84px 24.92px,#ffdd00 24.92px 26.99px,#ffea00 26.99px 29.07px,#ffc800 29.07px 31.15px,#ffde00 31.15px 33.22px,#ffd200 33.22px 35.30px,#ffe000 35.30px 37.38px,#ffd500 37.38px 39.45px,#ffe700 39.45px 41.53px,#ffcd00 41.53px 43.60px,#ffde00 43.60px 45.68px,#ffc800 45.68px 47.76px,#ffde00 47.76px 49.83px,#ffcb00 49.83px 51.91px,#ffe300 51.91px 53.99px,#ffc300 53.99px 56.06px,#ffd300 56.06px 58.14px,#ffd400 58.14px 60.22px,#ffd600 60.22px 62.29px,#ffb700 62.29px 64.37px,#ffc700 64.37px 66.44px,#ffaf00 66.44px 68.52px,#ffb600 68.52px 70.60px,#ffa900 70.60px 72.67px,#ffdc00 72.67px 74.75px,#ffdd00 74.75px 76.83px,#f9ff06 76.83px 78.90px,#fff500 78.90px 80.98px,#fff900 80.98px 83.06px,#ffdf00 83.06px 85.13px,#fff100 85.13px 87.21px,#ffe100 87.21px 89.28px,#fff200 89.28px 91.36px,#ffd000 91.36px 93.44px,#ffdf00 93.44px 95.51px,#ffc400 95.51px 97.59px,#ffd100 97.59px 99.67px,#ffa300 99.67px 101.74px,#ffd800 101.74px 103.82px,#ffb900 103.82px 105.90px,#ffc700 105.90px 107.97px,#ffa700 107.97px 110.05px,#ffb600 110.05px 112.12px,#ff9b00 112.12px 114.20px,#ffa600 114.20px 116.28px,#ff9e00 116.28px 118.35px,#ffa800 118.35px 120.43px,#ff8f00 120.43px 122.51px,#ffb700 122.51px 124.58px,#ff9900 124.58px 126.66px,#ffa000 126.66px 128.74px,#ff9800 128.74px 130.81px,#ffa900 130.81px 132.89px,#ff8d00 132.89px 134.97px,#ff8900 134.97px 137.04px,#ff7c00 137.04px 139.12px,#ff7200 139.12px 141.19px,#ff5c00 141.19px 143.27px,#ff6b00 143.27px 145.35px,#ff4600 145.35px 147.42px,#ff4e00 147.42px 149.50px)"></div>
<div class="c" style="left:145.69px;width:6.43px;background:linear-gradient(#ffa000 0.00px 2.08px,#ffc500 2.08px 4.15px,#ffb500 4.15px 6.23px,#ffc800 6.23px 8.31px,#ffad00 8.31px 10.38px,#ffc000 10.38px 12.46px,#ffa900 12.46px 14.53px,#ffc000 14.53px 16.61px,#ffb600 16.61px 18.69px,#ffc900 18.69px 20.76px,#ffad00 20.76px 22.84px,#ffcc00 22.84px 24.92px,#ffac00 24.92px 26.99px,#ffb700 26.99px 29.07px,#ffad00 29.07px 31.15px,#ffc300 31.15px 33.22px,#ffbb00 33.22px 35.30px,#ffc800 35.30px 37.38px,#ffa100 37.38px 39.45px,#ffab00 39.45px 41.53px,#ff9500 41.53px 43.60px,#ffac00 43.60px 45.68px,#ff9c00 45.68px 47.76px,#ffb800 47.76px 49.83px,#ff9700 49.83px 51.91px,#ffb400 51.91px 53.99px,#ffa500 53.99px 56.06px,#ffaa00 56.06px 58.14px,#ff9f00 58.14px 60.22px,#ffab00 60.22px 62.29px,#ff9b00 62.29px 64.37px,#ffb200 64.37px 66.44px,#ffa300 66.44px 70.60px,#ff8f00 70.60px 72.67px,#ff9700 72.67px 74.75px,#ff9b00 74.75px 76.83px,#ffa400 76.83px 78.90px,#ff9c00 78.90px 80.98px,#ffb500 80.98px 83.06px,#ffa300 83.06px 85.13px,#ffb800 85.13px 87.21px,#ff9700 87.21px 89.28px,#ffbe00 89.28px 91.36px,#ffae00 91.36px 93.44px,#ffc600 93.44px 95.51px,#ffa900 95.51px 97.59px,#ffc700 97.59px 99.67px,#ffba00 99.67px 101.74px,#ffcb00 101.74px 103.82px,#ffba00 103.82px 105.90px,#ffcd00 105.90px 107.97px,#ffc000 107.97px 110.05px,#ffc600 110.05px 112.12px,#ffaa00 112.12px 114.20px,#ffc800 114.20px 116.28px,#ffac00 116.28px 118.35px,#ffc100 118.35px 120.43px,#ffa800 120.43px 122.51px,#ffc600 122.51px 124.58px,#ffb200 124.58px 126.66px,#ffb100 126.66px 128.74px,#ffb300 128.74px 130.81px,#ffbb00 130.81px 132.89px,#ffa100 132.89px 134.97px,#ffb000 134.97px 137.04px,#ff9900 137.04px 139.12px,#ffb000 139.12px 141.19px,#ff9400 141.19px 143.27px,#ffbb00 143.27px 145.35px,#ff9700 145.35px 147.42px,#ffb500 147.42px 149.50px)"></div>
<div class="c" style="left:151.52px;width:6.43px;background:linear-gradient(#ff1400 0.00px 2.08px,#ff2800 2.08px 4.15px,#ff2400 4.15px 6.23px,#ff4200 6.23px 8.31px,#ff2f00 8.31px 10.38px,#ff5700 10.38px 12.46px,#ff3800 12.46px 14.53px,#ff5400 14.53px 16.61px,#ff4200 16.61px 18.69px,#ff5e00 18.69px 20.76px,#ff3800 20.76px 22.84px,#ff6b00 22.84px 24.92px,#ff5700 24.92px 26.99px,#ff6c00 26.99px 29.07px,#ff5a00 29.07px 31.15px,#ff7a00 31.15px 33.22px,#ff6500 33.22px 35.30px,#ff7e00 35.30px 37.38px,#ff4600 37.38px 39.45px,#ff6700 39.45px 41.53px,#ff5000 41.53px 43.60px,#ff6400 43.60px 45.68px,#ff4600 45.68px 47.76px,#ff5c00 47.76px 49.83px,#ff5400 49.83px 51.91px,#ff4d00 51.91px 53.99px,#ff3700 53.99px 56.06px,#ff5300 56.06px 58.14px,#ff2d00 58.14px 60.22px,#ff5000 60.22px 62.29px,#ff2f00 62.29px 64.37px,#ff4800 64.37px 66.44px,#ff2700 66.44px 68.52px,#ff3500 68.52px 70.60px,#ff1a00 70.60px 72.67px,#ff3a00 72.67px 74.75px,#ff3600 74.75px 76.83px,#ff6200 76.83px 78.90px,#ff5a00 78.90px 80.98px,#ff8f00 80.98px 83.06px,#ff8100 83.06px 85.13px,#ffac00 85.13px 87.21px,#ffaf00 87.21px 89.28px,#ffd900 89.28px 91.36px,#ffde00 91.36px 93.44px,#fffc00 93.44px 95.51px,#ffe300 95.51px 97.59px,#fff800 97.59px 99.67px,#ffe900 99.67px 101.74px,#feff01 101.74px 103.82px,#ffdb00 103.82px 105.90px,#fff700 105.90px 107.97px,#ffeb00 107.97px 110.05px,#fbff04 110.05px 112.12px,#ffed00 112.12px 114.20px,#eeff11 114.20px 116.28px,#ffe700 116.28px 118.35px,#f3ff0c 118.35px 120.43px,#ffef00 120.43px 122.51px,#fffd00 122.51px 124.58px,#fff700 124.58px 126.66px,#f5ff0a 126.66px 128.74px,#fff800 128.74px 130.81px,#f7ff08 130.81px 132.89px,#ffe700 132.89px 134.97px,#fff800 134.97px 137.04px,#ffec00 137.04px 139.12px,#fff700 139.12px 141.19px,#ffe600 141.19px 143.27px,#fff800 143.27px 145.35px,#ffcb00 145.35px 147.42px,#fff000 147.42px 149.50px)"></div>
<div class="c" style="left:157.34px;width:6.43px;background:linear-gradient(#ff8500 0.00px 2.08px,#ff8800 2.08px 4.15px,#ff8100 4.15px 6.23px,#ff9200 6.23px 8.31px,#ff8600 8.31px 10.38px,#ff9900 10.38px 12.46px,#ff8800 12.46px 14.53px,#ff8f00 14.53px 16.61px,#ff8d00 16.61px 18.69px,#ffa400 18.69px 20.76px,#ff9000 20.76px 22.84px,#ffa300 22.84px 24.92px,#ff8e00 24.92px 26.99px,#ffaa00 26.99px 29.07px,#ff9a00 29.07px 31.15px,#ffa500 31.15px 33.22px,#ff9300 33.22px 35.30px,#ffba00 35.30px 37.38px,#ff9d00 37.38px 39.45px,#ffa200 39.45px 41.53px,#ff7f00 41.53px 43.60px,#ffbb00 43.60px 45.68px,#ff8100 45.68px 47.76px,#ff8e00 47.76px 49.83px,#ff7600 49.83px 51.91px,#ffa600 51.91px 53.99px,#ff7900 53.99px 56.06px,#ff9f00 56.06px 58.14px,#ff7400 58.14px 60.22px,#ff7b00 60.22px 64.37px,#ff8100 64.37px 66.44px,#ff5d00 66.44px 68.52px,#ff7300 68.52px 70.60px,#ff4c00 70.60px 72.67px,#ff6e00 72.67px 74.75px,#ff5d00 74.75px 76.83px,#ff7900 76.83px 78.90px,#ff6400 78.90px 80.98px,#ff8c00 80.98px 83.06px,#ff7300 83.06px 85.13px,#ff9000 85.13px 87.21px,#ff8100 87.21px 89.28px,#ffb000 89.28px 91.36px,#ffa100 91.36px 93.44px,#ffb200 93.44px 95.51px,#ff9e00 95.51px 97.59px,#ffac00 97.59px 99.67px,#ffa700 99.67px 101.74px,#ffb800 101.74px 103.82px,#ff9c00 103.82px 105.90px,#ffac00 105.90px 107.97px,#ff8d00 107.97px 110.05px,#ffa700 110.05px 112.12px,#ffa200 112.12px 114.20px,#ffba00 114.20px 116.28px,#ff9b00 116.28px 118.35px,#ffbb00 118.35px 120.43px,#ffad00 120.43px 122.51px,#ffba00 122.51px 124.58px,#ffb600 124.58px 126.66px,#ffc200 126.66px 128.74px,#ffaf00 128.74px 130.81px,#ffbf00 130.81px 132.89px,#ff9a00 132.89px 134.97px,#ffc600 134.97px 137.04px,#ffa100 137.04px 139.12px,#ffa000 139.12px 141.19px,#ff9a00 141.19px 143.27px,#ffa500 143.27px 145.35px,#ff9400 145.35px 147.42px,#ffa600 147.42px 149.50px)"></div>
<div class="c" style="left:163.17px;width:6.43px;background:linear-gradient(#ff4e00 0.00px 2.08px,#ff5800 2.08px 4.15px,#ff4500 4.15px 6.23px,#ff5800 6.23px 8.31px,#ff4400 8.31px 10.38px,#ff5a00 10.38px 12.46px,#ff4800 12.46px 14.53px,#ff6100 14.53px 16.61px,#ff5400 16.61px 18.69px,#ff6400 18.69px 20.76px,#ff5400 20.76px 22.84px,#ff6f00 22.84px 24.92px,#ff5800 24.92px 26.99px,#ff7200 26.99px 29.07px,#ff6900 29.07px 31.15px,#ff7700 31.15px 33.22px,#ff6600 33.22px 35.30px,#ff8100 35.30px 37.38px,#ff6b00 37.38px 39.45px,#ff7600 39.45px 41.53px,#ff6900 41.53px 43.60px,#ff7500 43.60px 45.68px,#ff5300 45.68px 47.76px,#ff6f00 47.76px 49.83px,#ff5f00 49.83px 51.91px,#ff7900 51.91px 53.99px,#ff5200 53.99px 56.06px,#ff6300 56.06px 58.14px,#ff5800 58.14px 60.22px,#ff6000 60.22px 62.29px,#ff4700 62.29px 64.37px,#ff4e00 64.37px 66.44px,#ff3700 66.44px 68.52px,#ff4800 68.52px 70.60px,#ff3300 70.60px 72.67px,#ff5800 72.67px 74.75px,#ff6500 74.75px 76.83px,#ffa200 76.83px 78.90px,#ff8c00 78.90px 80.98px,#ffa400 80.98px 83.06px,#ffa700 83.06px 85.13px,#ffca00 85.13px 87.21px,#ffbf00 87.21px 89.28px,#ffcf00 89.28px 91.36px,#ffd200 91.36px 93.44px,#ffec00 93.44px 95.51px,#ffe200 95.51px 97.59px,#ffd300 97.59px 99.67px,#ffdb00 99.67px 101.74px,#ffd300 101.74px 103.82px,#ffcd00 103.82px 105.90px,#ffd800 105.90px 107.97px,#ffcd00 107.97px 110.05px,#ffe100 110.05px 112.12px,#ffc400 112.12px 114.20px,#ffd100 114.20px 116.28px,#ffc800 116.28px 118.35px,#ffd800 118.35px 120.43px,#ffd200 120.43px 122.51px,#ffdd00 122.51px 124.58px,#ffd700 124.58px 126.66px,#ffdf00 126.66px 128.74px,#ffc700 128.74px 130.81px,#ffde00 130.81px 132.89px,#ffaa00 132.89px 134.97px,#ffb200 134.97px 137.04px,#ff8a00 137.04px 139.12px,#ff7d00 139.12px 141.19px,#ff5000 141.19px 143.27px,#ff5200 143.27px 145.35px,#ff3700 145.35px 147.42px,#ff4100 147.42px 149.50px)"></div>
<div class="ov"></div></div>
<div class="p" style="left:330.00px;top:20.75px">
<div class="c" style="left:0.00px;width:6.43px;background:linear-gradient(#ff7500 0.00px 2.08px,#ff7d00 2.08px 4.15px,#ff7000 4.15px 6.23px,#ffa300 6.23px 8.31px,#ff8800 8.31px 10.38px,#ffb200 10.38px 12.46px,#ffc400 12.46px 14.53px,#ffea00 14.53px 16.61px,#fff800 16.61px 18.69px,#ccff33 18.69px 20.76px,#d1ff2e 20.76px 22.84px,#8eff71 22.84px 24.92px,#94ff6b 24.92px 26.99px,#6eff91 26.99px 29.07px,#60ff9f 29.07px 31.15px,#29ffd6 31.15px 33.22px,#1dffe2 33.22px 35.30px,#00f4ff 35.30px 37.38px,#02fffd 37.38px 39.45px,#00e7ff 39.45px 41.53px,#00e9ff 41.53px 43.60px,#00ebff 43.60px 45.68px,#21ffde 45.68px 47.76px,#1bffe4 47.76px 49.83px,#3dffc2 49.83px 51.91px,#47ffb8 51.91px 53.99px,#7dff82 53.99px 56.06px,#84ff7b 56.06px 58.14px,#b2ff4d 58.14px 60.22px,#c4ff3b 60.22px 62.29px,#e4ff1b 62.29px 64.37px,#f1ff0e 64.37px 66.44px,#ffd100 66.44px 68.52px,#ffce00 68.52px 70.60px,#ffa900 70.60px 72.67px,#ffa600 72.67px 74.75px,#ff9b00 74.75px 76.83px,#ffcf00 76.83px 78.90px,#ffc200 78.90px 80.98px,#ffe600 80.98px 83.06px,#fff500 83.06px 85.13px,#efff10 85.13px 87.21px,#ffff00 87.21px 89.28px,#e0ff1f 89.28px 91.36px,#efff10 91.36px 93.44px,#e4ff1b 93.44px 95.51px,#fff600 95.51px 97.59px,#f2ff0d 97.59px 99.67px,#ffdf00 99.67px 101.74px,#faff05 101.74px 103.82px,#ffeb00 103.82px 105.90px,#e7ff18 105.90px 107.97px,#f4ff0b 107.97px 110.05px,#daff25 110.05px 112.12px,#faff05 112.12px 114.20px,#dbff24 114.20px 116.28px,#fffd00 116.28px 118.35px,#deff21 118.35px 120.43px,#f0ff0f 120.43px 122.51px,#e9ff16 122.51px 124.58px,#fffd00 124.58px 126.66px,#ebff14 126.66px 128.74px,#f0ff0f 128.74px 130.81px,#e7ff18 130.81px 132.89px,#f6ff09 132.89px 134.97px,#eeff11 134.97px 137.04px,#fffe00 137.04px 139.12px,#fff700 139.12px 141.19px,#ffcf00 141.19px 143.27px,#ffc800 143.27px 145.35px,#ff8b00 145.35px 147.42px,#ff9600 147.42px 149.50px)"></div>
<div class="c" style="left:5.83px;width:6.43px;background:linear-gradient(#ff8e00 0.00px 2.08px,#ffaa00 2.08px 4.15px,#ff9e00 4.15px 6.23px,#ffcc00 6.23px 8.31px,#ffbc00 8.31px 10.38px,#fff700 10.38px 12.46px,#fffc00 12.46px 14.53px,#baff45 14.53px 16.61px,#97ff68 16.61px 18.69px,#5bffa4 18.69px 20.76px,#74ff8b 20.76px 22.84px,#43ffbc 22.84px 24.92px,#37ffc8 24.92px 26.99px,#02fffd 26.99px 29.07px,#00ffff 29.07px 31.15px,#00b4ff 31.15px 33.22px,#00c4ff 33.22px 35.30px,#0099ff 35.30px 37.38px,#0094ff 37.38px 39.45px,#007aff 39.45px 41.53px,#0090ff 41.53px 43.60px,#0064ff 43.60px 45.68px,#008eff 45.68px 47.76px,#009bff 47.76px 49.83px,#00a9ff 49.83px 51.91px,#00afff 51.91px 53.99px,#00f6ff 53.99px 56.06px,#10ffef 56.06px 58.14px,#48ffb7 58.14px 60.22px,#64ff9b 60.22px 62.29px,#99ff66 62.29px 64.37px,#c2ff3d 64.37px 66.44px,#fff900 66.44px 68.52px,#ffe900 68.52px 70.60px,#ff9c00 70.60px 72.67px,#ffa100 72.67px 74.75px,#ff7200 74.75px 76.83px,#ff8b00 76.83px 78.90px,#ffbd00 78.90px 80.98px,#fcff03 80.98px 83.06px,#d1ff2e 83.06px 85.13px,#8fff70 85.13px 87.21px,#99ff66 87.21px 89.28px,#63ff9c 89.28px 91.36px,#66ff99 91.36px 93.44px,#59ffa6 93.44px 95.51px,#6dff92 95.51px 97.59px,#5fffa0 97.59px 99.67px,#8dff72 99.67px 101.74px,#72ff8d 101.74px 103.82px,#90ff6f 103.82px 105.90px,#6cff93 105.90px 107.97px,#8aff75 107.97px 110.05px,#66ff99 110.05px 112.12px,#6cff93 112.12px 116.28px,#57ffa8 116.28px 118.35px,#36ffc9 118.35px 120.43px,#64ff9b 120.43px 122.51px,#47ffb8 122.51px 124.58px,#52ffad 124.58px 126.66px,#4affb5 126.66px 128.74px,#67ff98 128.74px 130.81px,#65ff9a 130.81px 132.89px,#7cff83 132.89px 134.97px,#81ff7e 134.97px 137.04px,#9dff62 137.04px 139.12px,#8bff74 139.12px 141.19px,#b7ff48 141.19px 143.27px,#b9ff46 143.27px 145.35px,#e1ff1e 145.35px 147.42px,#daff25 147.42px 149.50px)"></div>
<div class="c" style="left:11.66px;width:6.43px;background:linear-gradient(#ffbd00 0.00px 2.08px,#ffe800 2.08px 4.15px,#ffc600 4.15px 6.23px,#ffdc00 6.23px 8.31px,#ffe500 8.31px 10.38px,#fdff02 10.38px 12.46px,#fff800 12.46px 14.53px,#ebff14 14.53px 16.61px,#f0ff0f 16.61px 18.69px,#cbff34 18.69px 20.76px,#b8ff47 20.76px 22.84px,#7eff81 22.84px 24.92px,#71ff8e 24.92px 26.99px,#41ffbe 26.99px 29.07px,#39ffc6 29.07px 31.15px,#0cfff3 31.15px 33.22px,#20ffdf 33.22px 35.30px,#00f4ff 35.30px 37.38px,#14ffeb 37.38px 39.45px,#01fffe 39.45px 41.53px,#0cfff3 41.53px 43.60px,#01fffe 43.60px 45.68px,#0cfff3 45.68px 47.76px,#19ffe6 47.76px 49.83px,#37ffc8 49.83px 51.91px,#34ffcb 51.91px 53.99px,#52ffad 53.99px 56.06px,#60ff9f 56.06px 58.14px,#83ff7c 58.14px 60.22px,#7eff81 60.22px 62.29px,#b4ff4b 62.29px 64.37px,#b5ff4a 64.37px 66.44px,#d5ff2a 66.44px 68.52px,#ddff22 68.52px 70.60px,#f3ff0c 70.60px 72.67px,#d7ff28 72.67px 74.75px,#d3ff2c 74.75px 76.83px,#9eff61 76.83px 78.90px,#a0ff5f 78.90px 80.98px,#6dff92 80.98px 83.06px,#5effa1 83.06px 85.13px,#34ffcb 85.13px 87.21px,#2effd1 87.21px 89.28px,#02fffd 89.28px 91.36px,#00f7ff 91.36px 93.44px,#00e3ff 93.44px 95.51px,#22ffdd 95.51px 97.59px,#11ffee 97.59px 99.67px,#54ffab 99.67px 101.74px,#4affb5 101.74px 103.82px,#8fff70 103.82px 105.90px,#9cff63 105.90px 107.97px,#d0ff2f 107.97px 110.05px,#d3ff2c 110.05px 112.12px,#ccff33 112.12px 114.20px,#91ff6e 114.20px 116.28px,#98ff67 116.28px 118.35px,#6bff94 118.35px 120.43px,#71ff8e 120.43px 122.51px,#4cffb3 122.51px 124.58px,#48ffb7 124.58px 126.66px,#47ffb8 126.66px 128.74px,#51ffae 128.74px 130.81px,#43ffbc 130.81px 132.89px,#46ffb9 132.89px 137.04px,#5effa1 137.04px 139.12px,#59ffa6 139.12px 141.19px,#7bff84 141.19px 143.27px,#83ff7c 143.27px 145.35px,#d1ff2e 145.35px 147.42px,#e2ff1d 147.42px 149.50px)"></div>
<div class="c" style="left:17.48px;width:6.43px;background:linear-gradient(#f0ff0f 0.00px 2.08px,#e2ff1d 2.08px 4.15px,#feff01 4.15px 6.23px,#f4ff0b 6.23px 8.31px,#fffc00 8.31px 10.38px,#edff12 10.38px 12.46px,#ebff14 12.46px 14.53px,#b9ff46 14.53px 16.61px,#b8ff47 16.61px 18.69px,#9aff65 18.69px 20.76px,#7bff84 20.76px 22.84px,#31ffce 22.84px 24.92px,#40ffbf 24.92px 26.99px,#0afff5 26.99px 29.07px,#11ffee 29.07px 31.15px,#00f0ff 31.15px 33.22px,#00f6ff 33.22px 35.30px,#00e3ff 35.30px 37.38px,#00e9ff 37.38px 39.45px,#00cbff 39.45px 41.53px,#00e9ff 41.53px 43.60px,#00f1ff 43.60px 45.68px,#00f5ff 45.68px 47.76px,#00ecff 47.76px 49.83px,#03fffc 49.83px 51.91px,#00feff 51.91px 53.99px,#20ffdf 53.99px 56.06px,#27ffd8 56.06px 58.14px,#45ffba 58.14px 60.22px,#48ffb7 60.22px 62.29px,#60ff9f 62.29px 64.37px,#68ff97 64.37px 66.44px,#84ff7b 66.44px 68.52px,#8cff73 68.52px 70.60px,#a5ff5a 70.60px 72.67px,#acff53 72.67px 74.75px,#b3ff4c 74.75px 76.83px,#a4ff5b 76.83px 78.90px,#b1ff4e 78.90px 80.98px,#86ff79 80.98px 83.06px,#8eff71 83.06px 85.13px,#7aff85 85.13px 87.21px,#7cff83 87.21px 89.28px,#51ffae 89.28px 91.36px,#5dffa2 91.36px 93.44px,#51ffae 93.44px 95.51px,#60ff9f 95.51px 97.59px,#57ffa8 97.59px 99.67px,#66ff99 99.67px 101.74px,#59ffa6 101.74px 103.82px,#61ff9e 103.82px 105.90px,#55ffaa 105.90px 107.97px,#56ffa9 107.97px 110.05px,#3effc1 110.05px 112.12px,#45ffba 112.12px 114.20px,#32ffcd 114.20px 116.28px,#3dffc2 116.28px 118.35px,#20ffdf 118.35px 120.43px,#2dffd2 120.43px 122.51px,#0ffff0 122.51px 124.58px,#2bffd4 124.58px 126.66px,#13ffec 126.66px 128.74px,#35ffca 128.74px 130.81px,#21ffde 130.81px 132.89px,#32ffcd 132.89px 134.97px,#22ffdd 134.97px 137.04px,#45ffba 137.04px 139.12px,#35ffca 139.12px 141.19px,#4cffb3 141.19px 143.27px,#53ffac 143.27px 145.35px,#7aff85 145.35px 147.42px,#76ff89 147.42px 149.50px)"></div>
<div class="c" style="left:23.31px;width:6.43px;background:linear-gradient(#55ffaa 0.00px 2.08px,#41ffbe 2.08px 4.15px,#48ffb7 4.15px 6.23px,#2effd1 6.23px 8.31px,#41ffbe 8.31px 10.38px,#1affe5 10.38px 12.46px,#29ffd6 12.46px 14.53px,#0ffff0 14.53px 16.61px,#1bffe4 16.61px 18.69px,#00f6ff 18.69px 20.76px,#03fffc 20.76px 22.84px,#00e7ff 22.84px 24.92px,#00f9ff 24.92px 26.99px,#00d9ff 26.99px 29.07px,#00d7ff 29.07px 31.15px,#00beff 31.15px 33.22px,#00b8ff 33.22px 35.30px,#00aaff 35.30px 37.38px,#00b8ff 37.38px 39.45px,#00a5ff 39.45px 41.53px,#00cdff 41.53px 43.60px,#00b6ff 43.60px 45.68px,#00ccff 45.68px 47.76px,#00b8ff 47.76px 49.83px,#00daff 49.83px 51.91px,#00dbff 51.91px 53.99px,#00f8ff 53.99px 56.06px,#00e5ff 56.06px 58.14px,#01fffe 58.14px 60.22px,#00f9ff 60.22px 62.29px,#17ffe8 62.29px 64.37px,#19ffe6 64.37px 66.44px,#2fffd0 66.44px 68.52px,#25ffda 68.52px 70.60px,#48ffb7 70.60px 72.67px,#30ffcf 72.67px 74.75px,#00fcff 74.75px 76.83px,#00deff 76.83px 78.90px,#00e3ff 78.90px 80.98px,#00bfff 80.98px 83.06px,#00c7ff 83.06px 85.13px,#008fff 85.13px 87.21px,#00b3ff 87.21px 89.28px,#00abff 89.28px 91.36px,#009fff 91.36px 93.44px,#008fff 93.44px 95.51px,#00b5ff 95.51px 97.59px,#009dff 97.59px 99.67px,#00c5ff 99.67px 101.74px,#00aeff 101.74px 103.82px,#00c1ff 103.82px 105.90px,#00baff 105.90px 107.97px,#00d1ff 107.97px 110.05px,#00daff 110.05px 112.12px,#00e6ff 112.12px 114.20px,#00cdff 114.20px 116.28px,#00f9ff 116.28px 118.35px,#00d1ff 118.35px 120.43px,#00e7ff 120.43px 122.51px,#00dcff 122.51px 124.58px,#00f0ff 124.58px 126.66px,#00e3ff 126.66px 128.74px,#00f2ff 128.74px 130.81px,#00e5ff 130.81px 132.89px,#0dfff2 132.89px 134.97px,#00f7ff 134.97px 137.04px,#11ffee 137.04px 139.12px,#08fff7 139.12px 141.19px,#28ffd7 141.19px 143.27px,#1affe5 143.27px 145.35px,#24ffdb 145.35px 147.42px,#21ffde 147.42px 149.50px)"></div>
<div class="c" style="left:29.14px;width:6.43px;background:linear-gradient(#47ffb8 0.00px 2.08px,#44ffbb 2.08px 4.15px,#54ffab 4.15px 6.23px,#33ffcc 6.23px 8.31px,#48ffb7 8.31px 10.38px,#2cffd3 10.38px 12.46px,#1affe5 12.46px 14.53px,#00fbff 14.53px 18.69px,#00d9ff 18.69px 20.76px,#00deff 20.76px 22.84px,#00bbff 22.84px 24.92px,#00c9ff 24.92px 26.99px,#00aeff 26.99px 29.07px,#00b7ff 29.07px 31.15px,#009bff 31.15px 33.22px,#00a4ff 33.22px 35.30px,#0088ff 35.30px 37.38px,#008eff 37.38px 39.45px,#0086ff 39.45px 41.53px,#0090ff 41.53px 43.60px,#007eff 43.60px 45.68px,#00afff 45.68px 47.76px,#0090ff 47.76px 49.83px,#00b5ff 49.83px 51.91px,#00b2ff 51.91px 53.99px,#00d7ff 53.99px 56.06px,#00caff 56.06px 58.14px,#00efff 58.14px 60.22px,#00e5ff 60.22px 62.29px,#00fcff 62.29px 64.37px,#00e9ff 64.37px 66.44px,#03fffc 66.44px 68.52px,#09fff6 68.52px 70.60px,#23ffdc 70.60px 72.67px,#05fffa 72.67px 74.75px,#2cffd3 74.75px 76.83px,#03fffc 76.83px 78.90px,#1affe5 78.90px 80.98px,#00ffff 80.98px 83.06px,#1fffe0 83.06px 85.13px,#02fffd 85.13px 87.21px,#00eaff 87.21px 89.28px,#00d8ff 89.28px 91.36px,#00d7ff 91.36px 93.44px,#00bdff 93.44px 95.51px,#00ebff 95.51px 97.59px,#00deff 97.59px 99.67px,#04fffb 99.67px 101.74px,#00e6ff 101.74px 103.82px,#05fffa 103.82px 105.90px,#04fffb 105.90px 107.97px,#1bffe4 107.97px 110.05px,#06fff9 110.05px 112.12px,#26ffd9 112.12px 114.20px,#14ffeb 114.20px 116.28px,#1bffe4 116.28px 118.35px,#15ffea 118.35px 120.43px,#1cffe3 120.43px 122.51px,#00feff 122.51px 124.58px,#0ffff0 124.58px 126.66px,#00e3ff 126.66px 128.74px,#00ffff 128.74px 130.81px,#00f6ff 130.81px 132.89px,#00feff 132.89px 134.97px,#00f6ff 134.97px 137.04px,#16ffe9 137.04px 139.12px,#08fff7 139.12px 141.19px,#1dffe2 141.19px 143.27px,#1cffe3 143.27px 145.35px,#2dffd2 145.35px 147.42px,#18ffe7 147.42px 149.50px)"></div>
<div class="c" style="left:34.97px;width:6.43px;background:linear-gradient(#22ffdd 0.00px 2.08px,#14ffeb 2.08px 4.15px,#1fffe0 4.15px 6.23px,#00ffff 6.23px 8.31px,#18ffe7 8.31px 10.38px,#00fcff 10.38px 12.46px,#02fffd 12.46px 14.53px,#00ebff 14.53px 16.61px,#00eeff 16.61px 18.69px,#00cfff 18.69px 20.76px,#00e3ff 20.76px 22.84px,#00bdff 22.84px 24.92px,#00cdff 24.92px 26.99px,#009dff 26.99px 29.07px,#00b2ff 29.07px 31.15px,#0078ff 31.15px 33.22px,#008aff 33.22px 35.30px,#0065ff 35.30px 37.38px,#007fff 37.38px 39.45px,#006eff 39.45px 41.53px,#0085ff 41.53px 43.60px,#0068ff 43.60px 45.68px,#0091ff 45.68px 47.76px,#008aff 47.76px 49.83px,#00a8ff 49.83px 51.91px,#009dff 51.91px 53.99px,#00c1ff 53.99px 56.06px,#00b6ff 56.06px 58.14px,#00cbff 58.14px 60.22px,#00d1ff 60.22px 62.29px,#00edff 62.29px 64.37px,#00e1ff 64.37px 66.44px,#00f4ff 66.44px 68.52px,#00faff 68.52px 70.60px,#01fffe 70.60px 72.67px,#00f6ff 72.67px 74.75px,#00faff 74.75px 76.83px,#00e2ff 76.83px 78.90px,#00f8ff 78.90px 80.98px,#00daff 80.98px 83.06px,#00e6ff 83.06px 85.13px,#00d4ff 85.13px 87.21px,#00edff 87.21px 89.28px,#00deff 89.28px 91.36px,#00e4ff 91.36px 93.44px,#00ceff 93.44px 95.51px,#00e0ff 95.51px 97.59px,#00dbff 97.59px 99.67px,#00f0ff 99.67px 101.74px,#00dfff 101.74px 103.82px,#01fffe 103.82px 105.90px,#00deff 105.90px 107.97px,#00fdff 107.97px 110.05px,#00efff 110.05px 112.12px,#00e5ff 112.12px 114.20px,#00e4ff 114.20px 116.28px,#00daff 116.28px 118.35px,#00bcff 118.35px 120.43px,#00cfff 120.43px 122.51px,#00c2ff 122.51px 124.58px,#00c5ff 124.58px 126.66px,#00a5ff 126.66px 128.74px,#00c3ff 128.74px 130.81px,#00a1ff 130.81px 132.89px,#00d5ff 132.89px 134.97px,#00c6ff 134.97px 137.04px,#00e3ff 137.04px 139.12px,#00c8ff 139.12px 141.19px,#00f3ff 141.19px 143.27px,#00d7ff 143.27px 145.35px,#09fff6 145.35px 147.42px,#04fffb 147.42px 149.50px)"></div>
<div class="c" style="left:40.79px;width:6.43px;background:linear-gradient(#3dffc2 0.00px 2.08px,#21ffde 2.08px 4.15px,#32ffcd 4.15px 6.23px,#20ffdf 6.23px 8.31px,#17ffe8 8.31px 10.38px,#13ffec 10.38px 12.46px,#1cffe3 12.46px 14.53px,#00f1ff 14.53px 16.61px,#0ffff0 16.61px 18.69px,#00f1ff 18.69px 20.76px,#04fffb 20.76px 22.84px,#00e7ff 22.84px 24.92px,#00f9ff 24.92px 26.99px,#00dbff 26.99px 31.15px,#00d4ff 31.15px 33.22px,#00dfff 33.22px 35.30px,#00ceff 35.30px 37.38px,#00cdff 37.38px 39.45px,#00c0ff 39.45px 41.53px,#00d9ff 41.53px 43.60px,#00a9ff 43.60px 45.68px,#00d4ff 45.68px 47.76px,#00bfff 47.76px 49.83px,#00c9ff 49.83px 51.91px,#00cbff 51.91px 53.99px,#00f2ff 53.99px 56.06px,#00e3ff 56.06px 58.14px,#00e1ff 58.14px 60.22px,#00f3ff 60.22px 62.29px,#08fff7 62.29px 64.37px,#00ffff 64.37px 66.44px,#22ffdd 66.44px 68.52px,#1affe5 68.52px 70.60px,#37ffc8 70.60px 72.67px,#08fff7 72.67px 74.75px,#00ecff 74.75px 76.83px,#00b8ff 76.83px 78.90px,#00d2ff 78.90px 80.98px,#00afff 80.98px 83.06px,#00c5ff 83.06px 85.13px,#00a6ff 85.13px 87.21px,#00aeff 87.21px 89.28px,#007eff 89.28px 91.36px,#0086ff 91.36px 93.44px,#006fff 93.44px 95.51px,#007dff 95.51px 97.59px,#0069ff 97.59px 99.67px,#0096ff 99.67px 101.74px,#008fff 101.74px 103.82px,#00a3ff 103.82px 105.90px,#0090ff 105.90px 107.97px,#00a0ff 107.97px 110.05px,#0098ff 110.05px 112.12px,#0097ff 112.12px 114.20px,#007dff 114.20px 116.28px,#0086ff 116.28px 118.35px,#006fff 118.35px 120.43px,#0084ff 120.43px 122.51px,#006fff 122.51px 124.58px,#0073ff 124.58px 126.66px,#0062ff 126.66px 128.74px,#007fff 128.74px 130.81px,#0061ff 130.81px 132.89px,#0087ff 132.89px 134.97px,#007dff 134.97px 137.04px,#0090ff 137.04px 139.12px,#0098ff 139.12px 141.19px,#00abff 141.19px 143.27px,#00a9ff 143.27px 145.35px,#00d8ff 145.35px 147.42px,#00ceff 147.42px 149.50px)"></div>
<div class="c" style="left:46.62px;width:6.43px;background:linear-gradient(#0afff5 0.00px 2.08px,#00faff 2.08px 4.15px,#02fffd 4.15px 6.23px,#00e1ff 6.23px 8.31px,#00f7ff 8.31px 10.38px,#00e0ff 10.38px 12.46px,#00f1ff 12.46px 14.53px,#00beff 14.53px 16.61px,#00deff 16.61px 18.69px,#00c3ff 18.69px 20.76px,#00d7ff 20.76px 22.84px,#00b3ff 22.84px 24.92px,#00c0ff 24.92px 26.99px,#00adff 26.99px 29.07px,#00b3ff 29.07px 31.15px,#00a4ff 31.15px 33.22px,#00a9ff 33.22px 35.30px,#00a5ff 35.30px 37.38px,#00a1ff 37.38px 39.45px,#009fff 39.45px 41.53px,#00a4ff 41.53px 43.60px,#008eff 43.60px 45.68px,#00a6ff 45.68px 47.76px,#00a1ff 47.76px 49.83px,#00c5ff 49.83px 51.91px,#00b9ff 51.91px 53.99px,#00b0ff 53.99px 56.06px,#00baff 56.06px 58.14px,#00d3ff 58.14px 60.22px,#00cbff 60.22px 62.29px,#00f4ff 62.29px 64.37px,#00f6ff 64.37px 66.44px,#11ffee 66.44px 68.52px,#07fff8 68.52px 70.60px,#33ffcc 70.60px 72.67px,#05fffa 72.67px 74.75px,#00cbff 74.75px 76.83px,#0096ff 76.83px 78.90px,#00b3ff 78.90px 80.98px,#0096ff 80.98px 83.06px,#0097ff 83.06px 85.13px,#007aff 85.13px 87.21px,#009cff 87.21px 89.28px,#0080ff 89.28px 91.36px,#009aff 91.36px 93.44px,#0083ff 93.44px 95.51px,#0092ff 95.51px 97.59px,#0097ff 97.59px 99.67px,#00abff 99.67px 101.74px,#00a9ff 101.74px 103.82px,#00d0ff 103.82px 105.90px,#00b6ff 105.90px 107.97px,#00d1ff 107.97px 110.05px,#00ceff 110.05px 112.12px,#00caff 112.12px 114.20px,#009dff 114.20px 116.28px,#00abff 116.28px 118.35px,#00a2ff 118.35px 120.43px,#00b0ff 120.43px 122.51px,#0097ff 122.51px 124.58px,#00a5ff 124.58px 126.66px,#0094ff 126.66px 128.74px,#00a8ff 128.74px 130.81px,#0093ff 130.81px 132.89px,#00c4ff 132.89px 134.97px,#00b2ff 134.97px 137.04px,#00b3ff 137.04px 139.12px,#009dff 139.12px 141.19px,#00b9ff 141.19px 143.27px,#00a4ff 143.27px 145.35px,#00b6ff 145.35px 147.42px,#00a4ff 147.42px 149.50px)"></div>
<div class="c" style="left:52.45px;width:6.43px;background:linear-gradient(#24ffdb 0.00px 2.08px,#06fff9 2.08px 4.15px,#16ffe9 4.15px 6.23px,#03fffc 6.23px 8.31px,#14ffeb 8.31px 10.38px,#00f3ff 10.38px 12.46px,#00e4ff 12.46px 14.53px,#00bdff 14.53px 16.61px,#00b0ff 16.61px 18.69px,#0097ff 18.69px 20.76px,#0095ff 20.76px 22.84px,#006aff 22.84px 24.92px,#0062ff 24.92px 26.99px,#0037ff 26.99px 29.07px,#0048ff 29.07px 31.15px,#0032ff 31.15px 33.22px,#0040ff 33.22px 35.30px,#002bff 35.30px 37.38px,#0038ff 37.38px 39.45px,#002fff 39.45px 41.53px,#0032ff 41.53px 43.60px,#001fff 43.60px 45.68px,#0045ff 45.68px 47.76px,#0034ff 47.76px 49.83px,#003fff 49.83px 51.91px,#0049ff 51.91px 53.99px,#0069ff 53.99px 56.06px,#007bff 56.06px 58.14px,#009fff 58.14px 60.22px,#00a6ff 60.22px 62.29px,#00c0ff 62.29px 64.37px,#00c8ff 64.37px 66.44px,#00efff 66.44px 68.52px,#00f2ff 68.52px 70.60px,#0afff5 70.60px 72.67px,#00e0ff 72.67px 74.75px,#00daff 74.75px 76.83px,#00a6ff 76.83px 78.90px,#00b7ff 78.90px 80.98px,#00a1ff 80.98px 83.06px,#00b8ff 83.06px 85.13px,#00adff 85.13px 87.21px,#00b9ff 87.21px 89.28px,#0095ff 89.28px 91.36px,#00b4ff 91.36px 93.44px,#00a0ff 93.44px 95.51px,#00c8ff 95.51px 97.59px,#00cbff 97.59px 99.67px,#00e2ff 99.67px 101.74px,#00d8ff 101.74px 103.82px,#01fffe 103.82px 105.90px,#00f9ff 105.90px 107.97px,#0efff1 107.97px 110.05px,#00eeff 110.05px 112.12px,#07fff8 112.12px 114.20px,#00d4ff 114.20px 116.28px,#00dbff 116.28px 118.35px,#00d0ff 118.35px 120.43px,#00e8ff 120.43px 122.51px,#00d4ff 122.51px 124.58px,#00e5ff 124.58px 126.66px,#00dbff 126.66px 128.74px,#00f4ff 128.74px 130.81px,#00e1ff 130.81px 132.89px,#00feff 132.89px 134.97px,#00eaff 134.97px 137.04px,#00f4ff 137.04px 139.12px,#00e9ff 139.12px 141.19px,#00f4ff 141.19px 143.27px,#00d3ff 143.27px 145.35px,#00dfff 145.35px 147.42px,#00c7ff 147.42px 149.50px)"></div>
<div class="c" style="left:58.28px;width:6.43px;background:linear-gradient(#0efff1 0.00px 2.08px,#00f5ff 2.08px 4.15px,#05fffa 4.15px 6.23px,#00e6ff 6.23px 8.31px,#00f2ff 8.31px 10.38px,#00deff 10.38px 12.46px,#00d1ff 12.46px 14.53px,#00c5ff 14.53px 16.61px,#00bfff 16.61px 18.69px,#00b0ff 18.69px 20.76px,#00b3ff 20.76px 22.84px,#009eff 22.84px 24.92px,#00afff 24.92px 26.99px,#0090ff 26.99px 29.07px,#00a7ff 29.07px 31.15px,#008dff 31.15px 33.22px,#0095ff 33.22px 35.30px,#0077ff 35.30px 37.38px,#00acff 37.38px 39.45px,#008eff 39.45px 41.53px,#009cff 41.53px 43.60px,#008fff 43.60px 45.68px,#00b7ff 45.68px 47.76px,#0091ff 47.76px 49.83px,#00b4ff 49.83px 51.91px,#00a6ff 51.91px 53.99px,#00ccff 53.99px 56.06px,#00b7ff 56.06px 58.14px,#00dfff 58.14px 60.22px,#00ccff 60.22px 62.29px,#00f8ff 62.29px 64.37px,#00edff 64.37px 66.44px,#15ffea 66.44px 68.52px,#1affe5 68.52px 70.60px,#39ffc6 70.60px 72.67px,#00fdff 72.67px 74.75px,#00b4ff 74.75px 76.83px,#0072ff 76.83px 78.90px,#0094ff 78.90px 80.98px,#006dff 80.98px 83.06px,#0081ff 83.06px 85.13px,#0071ff 85.13px 87.21px,#007cff 87.21px 89.28px,#0058ff 89.28px 91.36px,#0063ff 91.36px 93.44px,#0054ff 93.44px 95.51px,#0082ff 95.51px 97.59px,#0070ff 97.59px 99.67px,#0090ff 99.67px 101.74px,#0091ff 101.74px 103.82px,#00baff 103.82px 105.90px,#0087ff 105.90px 107.97px,#00bdff 107.97px 110.05px,#009cff 110.05px 112.12px,#00afff 112.12px 114.20px,#008aff 114.20px 116.28px,#0096ff 116.28px 118.35px,#0069ff 118.35px 120.43px,#0082ff 120.43px 122.51px,#006dff 122.51px 124.58px,#006fff 124.58px 126.66px,#005eff 126.66px 128.74px,#0078ff 128.74px 130.81px,#006cff 130.81px 132.89px,#0089ff 132.89px 134.97px,#0073ff 134.97px 137.04px,#0087ff 137.04px 139.12px,#008cff 139.12px 141.19px,#009aff 141.19px 143.27px,#008bff 143.27px 145.35px,#00a1ff 145.35px 147.42px,#0080ff 147.42px 149.50px)"></div>
<div class="c" style="left:64.10px;width:6.43px;background:linear-gradient(#00dbff 0.00px 2.08px,#00c6ff 2.08px 4.15px,#00ddff 4.15px 6.23px,#00beff 6.23px 8.31px,#00deff 8.31px 10.38px,#00b0ff 10.38px 12.46px,#00baff 12.46px 14.53px,#00acff 14.53px 16.61px,#00b0ff 16.61px 18.69px,#008fff 18.69px 20.76px,#0099ff 20.76px 22.84px,#0088ff 22.84px 24.92px,#0085ff 24.92px 26.99px,#0075ff 26.99px 29.07px,#0081ff 29.07px 31.15px,#0074ff 31.15px 33.22px,#007aff 33.22px 35.30px,#006fff 35.30px 37.38px,#007eff 37.38px 39.45px,#006eff 39.45px 41.53px,#0078ff 41.53px 43.60px,#007bff 43.60px 45.68px,#007fff 45.68px 47.76px,#0071ff 47.76px 49.83px,#008eff 49.83px 51.91px,#008dff 51.91px 53.99px,#00a3ff 53.99px 56.06px,#0090ff 56.06px 58.14px,#00b2ff 58.14px 60.22px,#00a1ff 60.22px 62.29px,#00c8ff 62.29px 64.37px,#00d5ff 64.37px 66.44px,#00eeff 66.44px 68.52px,#00deff 68.52px 70.60px,#00feff 70.60px 72.67px,#00e7ff 72.67px 74.75px,#00deff 74.75px 76.83px,#00c5ff 76.83px 78.90px,#00cfff 78.90px 80.98px,#00cbff 80.98px 83.06px,#00dfff 83.06px 85.13px,#00c2ff 85.13px 87.21px,#00d1ff 87.21px 89.28px,#00a3ff 89.28px 91.36px,#00beff 91.36px 93.44px,#00b0ff 93.44px 95.51px,#00d7ff 95.51px 97.59px,#00d0ff 97.59px 99.67px,#00eaff 99.67px 101.74px,#00d7ff 101.74px 103.82px,#00f4ff 103.82px 105.90px,#00f3ff 105.90px 107.97px,#0efff1 107.97px 110.05px,#00eaff 110.05px 112.12px,#00f2ff 112.12px 114.20px,#00c2ff 114.20px 116.28px,#00c6ff 116.28px 118.35px,#00a1ff 118.35px 120.43px,#009cff 120.43px 122.51px,#008fff 122.51px 124.58px,#0091ff 124.58px 126.66px,#0088ff 126.66px 128.74px,#0090ff 128.74px 130.81px,#007eff 130.81px 132.89px,#0090ff 132.89px 134.97px,#0083ff 134.97px 137.04px,#008fff 137.04px 141.19px,#00a4ff 141.19px 143.27px,#0092ff 143.27px 145.35px,#00b5ff 145.35px 147.42px,#008dff 147.42px 149.50px)"></div>
<div class="c" style="left:69.93px;width:6.43px;background:linear-gradient(#00f2ff 0.00px 2.08px,#00ddff 2.08px 4.15px,#00e9ff 4.15px 6.23px,#00c7ff 6.23px 8.31px,#00e8ff 8.31px 10.38px,#00d3ff 10.38px 12.46px,#00d1ff 12.46px 14.53px,#00aeff 14.53px 16.61px,#00c5ff 16.61px 18.69px,#00a6ff 18.69px 20.76px,#00bbff 20.76px 22.84px,#0092ff 22.84px 24.92px,#0098ff 24.92px 26.99px,#0080ff 26.99px 29.07px,#009cff 29.07px 31.15px,#007fff 31.15px 33.22px,#0090ff 33.22px 35.30px,#0065ff 35.30px 37.38px,#008cff 37.38px 39.45px,#007bff 39.45px 41.53px,#009fff 41.53px 43.60px,#0077ff 43.60px 45.68px,#0092ff 45.68px 47.76px,#0088ff 47.76px 49.83px,#00a1ff 49.83px 51.91px,#008cff 51.91px 53.99px,#00a7ff 53.99px 56.06px,#00aeff 56.06px 58.14px,#00c3ff 58.14px 60.22px,#00b2ff 60.22px 62.29px,#00c2ff 62.29px 64.37px,#00c1ff 64.37px 66.44px,#00ccff 66.44px 68.52px,#00c4ff 68.52px 70.60px,#00e0ff 70.60px 72.67px,#00bfff 72.67px 74.75px,#00c2ff 74.75px 76.83px,#00a9ff 76.83px 78.90px,#00b7ff 78.90px 80.98px,#009fff 80.98px 83.06px,#009bff 83.06px 85.13px,#0089ff 85.13px 87.21px,#009bff 87.21px 89.28px,#008dff 89.28px 93.44px,#007bff 93.44px 95.51px,#0091ff 95.51px 97.59px,#0087ff 97.59px 99.67px,#00a8ff 99.67px 101.74px,#0095ff 101.74px 103.82px,#00baff 103.82px 105.90px,#0099ff 105.90px 107.97px,#00b0ff 107.97px 110.05px,#00adff 110.05px 112.12px,#00c3ff 112.12px 114.20px,#00a1ff 114.20px 116.28px,#00bfff 116.28px 118.35px,#00b7ff 118.35px 120.43px,#00c8ff 120.43px 122.51px,#00c9ff 122.51px 124.58px,#00ddff 124.58px 126.66px,#00c8ff 126.66px 128.74px,#00dfff 128.74px 130.81px,#00c7ff 130.81px 132.89px,#00d3ff 132.89px 134.97px,#00c2ff 134.97px 137.04px,#00c6ff 137.04px 139.12px,#00a4ff 139.12px 141.19px,#00c2ff 141.19px 143.27px,#00a9ff 143.27px 145.35px,#00bcff 145.35px 147.42px,#00b1ff 147.42px 149.50px)"></div>
<div class="c" style="left:75.76px;width:6.43px;background:linear-gradient(#00baff 0.00px 2.08px,#009eff 2.08px 4.15px,#00bbff 4.15px 6.23px,#00a2ff 6.23px 8.31px,#00bfff 8.31px 10.38px,#00a5ff 10.38px 12.46px,#00b3ff 12.46px 14.53px,#0094ff 14.53px 16.61px,#00afff 16.61px 18.69px,#008fff 18.69px 20.76px,#009bff 20.76px 22.84px,#0094ff 22.84px 24.92px,#009bff 24.92px 26.99px,#0088ff 26.99px 29.07px,#0090ff 29.07px 31.15px,#007dff 31.15px 33.22px,#0088ff 33.22px 35.30px,#0070ff 35.30px 37.38px,#0089ff 37.38px 39.45px,#0075ff 39.45px 41.53px,#0096ff 41.53px 43.60px,#007dff 43.60px 45.68px,#00a0ff 45.68px 47.76px,#0074ff 47.76px 49.83px,#00a4ff 49.83px 51.91px,#0093ff 51.91px 53.99px,#00aaff 53.99px 56.06px,#009cff 56.06px 58.14px,#00c4ff 58.14px 60.22px,#00bdff 60.22px 62.29px,#00d0ff 62.29px 64.37px,#00b3ff 64.37px 66.44px,#00caff 66.44px 68.52px,#00bbff 68.52px 70.60px,#00d8ff 70.60px 72.67px,#00bfff 72.67px 74.75px,#00caff 74.75px 76.83px,#00a6ff 76.83px 78.90px,#00b9ff 78.90px 80.98px,#008bff 80.98px 83.06px,#0099ff 83.06px 85.13px,#0079ff 85.13px 87.21px,#0091ff 87.21px 89.28px,#0071ff 89.28px 91.36px,#006fff 91.36px 93.44px,#0054ff 93.44px 95.51px,#0069ff 95.51px 97.59px,#006eff 97.59px 99.67px,#008bff 99.67px 101.74px,#0079ff 101.74px 103.82px,#009eff 103.82px 105.90px,#008aff 105.90px 107.97px,#00acff 107.97px 110.05px,#008fff 110.05px 112.12px,#008cff 112.12px 114.20px,#006aff 114.20px 116.28px,#0064ff 116.28px 118.35px,#005eff 118.35px 120.43px,#0063ff 120.43px 122.51px,#005dff 122.51px 124.58px,#0062ff 124.58px 126.66px,#0055ff 126.66px 128.74px,#0067ff 128.74px 130.81px,#004aff 130.81px 132.89px,#006aff 132.89px 134.97px,#0063ff 134.97px 137.04px,#0074ff 137.04px 139.12px,#007eff 139.12px 141.19px,#007dff 141.19px 143.27px,#007fff 143.27px 145.35px,#0090ff 145.35px 147.42px,#007bff 147.42px 149.50px)"></div>
<div class="c" style="left:81.59px;width:6.43px;background:linear-gradient(#00dcff 0.00px 2.08px,#00bbff 2.08px 4.15px,#00d5ff 4.15px 6.23px,#00cbff 6.23px 8.31px,#00d7ff 8.31px 10.38px,#00c5ff 10.38px 12.46px,#00c4ff 12.46px 14.53px,#00c1ff 14.53px 16.61px,#00cbff 16.61px 18.69px,#00a6ff 18.69px 20.76px,#00b7ff 20.76px 22.84px,#009aff 22.84px 24.92px,#00afff 24.92px 26.99px,#008cff 26.99px 29.07px,#00b0ff 29.07px 31.15px,#0086ff 31.15px 33.22px,#009fff 33.22px 35.30px,#0087ff 35.30px 37.38px,#00a4ff 37.38px 39.45px,#0087ff 39.45px 41.53px,#00a5ff 41.53px 43.60px,#008aff 43.60px 45.68px,#00a0ff 45.68px 47.76px,#008aff 47.76px 49.83px,#00afff 49.83px 51.91px,#0090ff 51.91px 53.99px,#00aeff 53.99px 56.06px,#00a1ff 56.06px 58.14px,#00bcff 58.14px 60.22px,#00b3ff 60.22px 62.29px,#00c4ff 62.29px 64.37px,#00b4ff 64.37px 66.44px,#00dbff 66.44px 68.52px,#00baff 68.52px 70.60px,#00e8ff 70.60px 72.67px,#00baff 72.67px 74.75px,#00b8ff 74.75px 76.83px,#007dff 76.83px 78.90px,#0088ff 78.90px 80.98px,#0069ff 80.98px 83.06px,#0074ff 83.06px 85.13px,#004dff 85.13px 87.21px,#006bff 87.21px 89.28px,#004bff 89.28px 91.36px,#0057ff 91.36px 93.44px,#004cff 93.44px 95.51px,#0054ff 95.51px 97.59px,#0056ff 97.59px 99.67px,#0072ff 99.67px 101.74px,#0062ff 101.74px 103.82px,#007aff 103.82px 105.90px,#0067ff 105.90px 107.97px,#0082ff 107.97px 110.05px,#006cff 110.05px 112.12px,#0075ff 112.12px 114.20px,#0068ff 114.20px 116.28px,#0075ff 116.28px 118.35px,#0062ff 118.35px 120.43px,#006aff 120.43px 122.51px,#004aff 122.51px 124.58px,#0052ff 124.58px 126.66px,#0041ff 126.66px 128.74px,#0060ff 128.74px 130.81px,#0047ff 130.81px 132.89px,#0064ff 132.89px 134.97px,#0054ff 134.97px 137.04px,#0077ff 137.04px 139.12px,#005fff 139.12px 141.19px,#008dff 141.19px 143.27px,#006bff 143.27px 145.35px,#007fff 145.35px 147.42px,#0082ff 147.42px 149.50px)"></div>
<div class="c" style="left:87.41px;width:6.43px;background:linear-gradient(#00c0ff 0.00px 2.08px,#00a3ff 2.08px 4.15px,#00bdff 4.15px 6.23px,#00b1ff 6.23px 8.31px,#00b7ff 8.31px 10.38px,#0096ff 10.38px 12.46px,#009bff 12.46px 14.53px,#007fff 14.53px 16.61px,#0074ff 16.61px 18.69px,#0041ff 18.69px 20.76px,#0050ff 20.76px 22.84px,#003fff 22.84px 24.92px,#003cff 24.92px 26.99px,#001eff 26.99px 29.07px,#002dff 29.07px 31.15px,#000eff 31.15px 33.22px,#002dff 33.22px 35.30px,#0014ff 35.30px 37.38px,#002eff 37.38px 39.45px,#0013ff 39.45px 41.53px,#0018ff 41.53px 43.60px,#0015ff 43.60px 45.68px,#002eff 45.68px 47.76px,#001dff 47.76px 49.83px,#003aff 49.83px 51.91px,#0040ff 51.91px 53.99px,#005aff 53.99px 56.06px,#005cff 56.06px 58.14px,#0080ff 58.14px 60.22px,#007cff 60.22px 62.29px,#009eff 62.29px 64.37px,#0093ff 64.37px 66.44px,#00baff 66.44px 68.52px,#00a8ff 68.52px 70.60px,#00c0ff 70.60px 72.67px,#00a2ff 72.67px 74.75px,#0091ff 74.75px 76.83px,#008fff 76.83px 78.90px,#008eff 78.90px 80.98px,#0080ff 80.98px 83.06px,#0090ff 83.06px 85.13px,#0081ff 85.13px 87.21px,#0083ff 87.21px 89.28px,#006bff 89.28px 91.36px,#0074ff 91.36px 93.44px,#0067ff 93.44px 95.51px,#0082ff 95.51px 97.59px,#0071ff 97.59px 99.67px,#008bff 99.67px 101.74px,#0089ff 101.74px 103.82px,#00a5ff 103.82px 105.90px,#009cff 105.90px 107.97px,#008eff 107.97px 110.05px,#009cff 110.05px 112.12px,#0099ff 112.12px 114.20px,#007aff 114.20px 116.28px,#0090ff 116.28px 118.35px,#0076ff 118.35px 120.43px,#0092ff 120.43px 122.51px,#0070ff 122.51px 124.58px,#007aff 124.58px 126.66px,#007eff 126.66px 128.74px,#008dff 128.74px 130.81px,#0077ff 130.81px 132.89px,#0086ff 132.89px 134.97px,#0074ff 134.97px 137.04px,#008bff 137.04px 139.12px,#0077ff 139.12px 141.19px,#009dff 141.19px 143.27px,#008eff 143.27px 145.35px,#009aff 145.35px 147.42px,#008dff 147.42px 149.50px)"></div>
<div class="c" style="left:93.24px;width:6.43px;background:linear-gradient(#00f3ff 0.00px 2.08px,#00dcff 2.08px 4.15px,#03fffc 4.15px 6.23px,#00e4ff 6.23px 8.31px,#00efff 8.31px 10.38px,#00d8ff 10.38px 12.46px,#00e7ff 12.46px 14.53px,#00b3ff 14.53px 16.61px,#00d1ff 16.61px 18.69px,#009aff 18.69px 20.76px,#00aeff 20.76px 22.84px,#0083ff 22.84px 24.92px,#0091ff 24.92px 26.99px,#0078ff 26.99px 29.07px,#0082ff 29.07px 31.15px,#0071ff 31.15px 33.22px,#0087ff 33.22px 35.30px,#0053ff 35.30px 37.38px,#0068ff 37.38px 39.45px,#0050ff 39.45px 41.53px,#0069ff 41.53px 43.60px,#0062ff 43.60px 45.68px,#0072ff 45.68px 47.76px,#0066ff 47.76px 49.83px,#008dff 49.83px 51.91px,#007cff 51.91px 53.99px,#00a6ff 53.99px 56.06px,#00a4ff 56.06px 58.14px,#00b3ff 58.14px 60.22px,#00a3ff 60.22px 62.29px,#00c3ff 62.29px 64.37px,#00bdff 64.37px 66.44px,#00e4ff 66.44px 68.52px,#00caff 68.52px 70.60px,#00daff 70.60px 72.67px,#00b2ff 72.67px 76.83px,#008dff 76.83px 78.90px,#0087ff 78.90px 80.98px,#0053ff 80.98px 83.06px,#006eff 83.06px 85.13px,#005cff 85.13px 87.21px,#0066ff 87.21px 89.28px,#004dff 89.28px 91.36px,#0050ff 91.36px 93.44px,#0044ff 93.44px 95.51px,#0072ff 95.51px 97.59px,#0060ff 97.59px 99.67px,#0071ff 99.67px 103.82px,#0099ff 103.82px 105.90px,#0086ff 105.90px 107.97px,#0089ff 107.97px 110.05px,#0085ff 110.05px 112.12px,#008bff 112.12px 114.20px,#0067ff 114.20px 116.28px,#0070ff 116.28px 118.35px,#0051ff 118.35px 120.43px,#0053ff 120.43px 122.51px,#0056ff 122.51px 124.58px,#004dff 124.58px 126.66px,#004cff 126.66px 128.74px,#0053ff 128.74px 130.81px,#0050ff 130.81px 132.89px,#0069ff 132.89px 134.97px,#0066ff 134.97px 137.04px,#0078ff 137.04px 139.12px,#0070ff 139.12px 141.19px,#0086ff 141.19px 143.27px,#0076ff 143.27px 145.35px,#0095ff 145.35px 147.42px,#006cff 147.42px 149.50px)"></div>
<div class="c" style="left:99.07px;width:6.43px;background:linear-gradient(#00ecff 0.00px 2.08px,#00dbff 2.08px 4.15px,#00eeff 4.15px 6.23px,#00d7ff 6.23px 8.31px,#00dfff 8.31px 10.38px,#00beff 10.38px 12.46px,#00d9ff 12.46px 14.53px,#00b0ff 14.53px 16.61px,#00caff 16.61px 18.69px,#0093ff 18.69px 20.76px,#00a5ff 20.76px 22.84px,#009dff 22.84px 24.92px,#00b9ff 24.92px 26.99px,#0098ff 26.99px 29.07px,#00b5ff 29.07px 31.15px,#0092ff 31.15px 33.22px,#009eff 33.22px 35.30px,#0089ff 35.30px 37.38px,#00a2ff 37.38px 39.45px,#008dff 39.45px 41.53px,#0093ff 41.53px 43.60px,#0087ff 43.60px 45.68px,#00a6ff 45.68px 47.76px,#0090ff 47.76px 49.83px,#00aeff 49.83px 51.91px,#0093ff 51.91px 53.99px,#00a8ff 53.99px 56.06px,#009cff 56.06px 58.14px,#00b6ff 58.14px 60.22px,#00acff 60.22px 62.29px,#00c4ff 62.29px 64.37px,#00c1ff 64.37px 66.44px,#00dbff 66.44px 68.52px,#00bbff 68.52px 70.60px,#00e5ff 70.60px 72.67px,#00c0ff 72.67px 74.75px,#009eff 74.75px 76.83px,#0060ff 76.83px 78.90px,#0084ff 78.90px 80.98px,#005dff 80.98px 83.06px,#0057ff 83.06px 85.13px,#0037ff 85.13px 87.21px,#0051ff 87.21px 89.28px,#003eff 89.28px 91.36px,#004aff 91.36px 93.44px,#002bff 93.44px 95.51px,#003bff 95.51px 97.59px,#0038ff 97.59px 99.67px,#004aff 99.67px 101.74px,#0037ff 101.74px 103.82px,#005fff 103.82px 105.90px,#0051ff 105.90px 107.97px,#006aff 107.97px 110.05px,#004eff 110.05px 112.12px,#0059ff 112.12px 114.20px,#0045ff 114.20px 116.28px,#0043ff 116.28px 118.35px,#001dff 118.35px 120.43px,#0038ff 120.43px 122.51px,#0017ff 122.51px 124.58px,#0034ff 124.58px 126.66px,#0018ff 126.66px 128.74px,#003bff 128.74px 130.81px,#0027ff 130.81px 132.89px,#004fff 132.89px 134.97px,#002cff 134.97px 137.04px,#0057ff 137.04px 139.12px,#0036ff 139.12px 141.19px,#0052ff 141.19px 143.27px,#0045ff 143.27px 145.35px,#0049ff 145.35px 147.42px,#004eff 147.42px 149.50px)"></div>
<div class="c" style="left:104.90px;width:6.43px;background:linear-gradient(#00daff 0.00px 2.08px,#00d9ff 2.08px 4.15px,#00e7ff 4.15px 6.23px,#00f8ff 6.23px 8.31px,#16ffe9 8.31px 10.38px,#0afff5 10.38px 12.46px,#13ffec 12.46px 14.53px,#00e4ff 14.53px 16.61px,#00deff 16.61px 18.69px,#00a6ff 18.69px 20.76px,#00c6ff 20.76px 22.84px,#00a7ff 22.84px 24.92px,#00a2ff 24.92px 26.99px,#0081ff 26.99px 29.07px,#0095ff 29.07px 31.15px,#0063ff 31.15px 33.22px,#0076ff 33.22px 35.30px,#0064ff 35.30px 37.38px,#005eff 37.38px 39.45px,#0057ff 39.45px 41.53px,#0071ff 41.53px 43.60px,#0064ff 43.60px 45.68px,#006eff 45.68px 47.76px,#0072ff 47.76px 49.83px,#007dff 49.83px 51.91px,#006bff 51.91px 53.99px,#0092ff 53.99px 56.06px,#0086ff 56.06px 58.14px,#0096ff 58.14px 60.22px,#00a0ff 60.22px 62.29px,#00bdff 62.29px 64.37px,#00baff 64.37px 66.44px,#00d4ff 66.44px 68.52px,#00c9ff 68.52px 70.60px,#00e2ff 70.60px 72.67px,#00b1ff 72.67px 74.75px,#00a9ff 74.75px 76.83px,#007aff 76.83px 78.90px,#0080ff 78.90px 80.98px,#0062ff 80.98px 83.06px,#006fff 83.06px 85.13px,#0053ff 85.13px 87.21px,#005aff 87.21px 89.28px,#0047ff 89.28px 91.36px,#0053ff 91.36px 93.44px,#0044ff 93.44px 95.51px,#0069ff 95.51px 97.59px,#004eff 97.59px 99.67px,#0064ff 99.67px 101.74px,#005bff 101.74px 103.82px,#0073ff 103.82px 105.90px,#005dff 105.90px 107.97px,#0077ff 107.97px 110.05px,#005dff 110.05px 112.12px,#0068ff 112.12px 114.20px,#004fff 114.20px 116.28px,#0054ff 116.28px 118.35px,#0040ff 118.35px 120.43px,#004dff 120.43px 122.51px,#002fff 122.51px 124.58px,#0041ff 124.58px 126.66px,#0042ff 126.66px 128.74px,#0043ff 128.74px 130.81px,#0034ff 130.81px 132.89px,#0052ff 132.89px 134.97px,#0050ff 134.97px 139.12px,#0045ff 139.12px 141.19px,#0055ff 141.19px 143.27px,#003dff 143.27px 145.35px,#005fff 145.35px 147.42px,#0049ff 147.42px 149.50px)"></div>
<div class="c" style="left:110.72px;width:6.43px;background:linear-gradient(#00b8ff 0.00px 2.08px,#00b5ff 2.08px 4.15px,#00b3ff 4.15px 6.23px,#00c5ff 6.23px 8.31px,#00e5ff 8.31px 10.38px,#00beff 10.38px 12.46px,#00c9ff 12.46px 14.53px,#00c0ff 14.53px 16.61px,#00ccff 16.61px 18.69px,#00a3ff 18.69px 20.76px,#00a2ff 20.76px 22.84px,#008fff 22.84px 26.99px,#0075ff 26.99px 29.07px,#0072ff 29.07px 31.15px,#005bff 31.15px 33.22px,#006bff 33.22px 35.30px,#004fff 35.30px 37.38px,#0062ff 37.38px 39.45px,#0061ff 39.45px 41.53px,#0075ff 41.53px 43.60px,#0060ff 43.60px 45.68px,#007dff 45.68px 47.76px,#006cff 47.76px 49.83px,#007bff 49.83px 51.91px,#007dff 51.91px 53.99px,#009cff 53.99px 56.06px,#007fff 56.06px 58.14px,#009cff 58.14px 60.22px,#0097ff 60.22px 62.29px,#00b3ff 62.29px 64.37px,#00b2ff 64.37px 66.44px,#00daff 66.44px 68.52px,#00ccff 68.52px 70.60px,#00dcff 70.60px 72.67px,#00b0ff 72.67px 74.75px,#0099ff 74.75px 76.83px,#008cff 76.83px 78.90px,#0094ff 78.90px 80.98px,#0076ff 80.98px 83.06px,#0094ff 83.06px 85.13px,#0069ff 85.13px 87.21px,#0077ff 87.21px 89.28px,#0055ff 89.28px 91.36px,#0052ff 91.36px 93.44px,#0051ff 93.44px 95.51px,#0049ff 95.51px 97.59px,#0048ff 97.59px 99.67px,#005fff 99.67px 101.74px,#0068ff 101.74px 103.82px,#0069ff 103.82px 105.90px,#0058ff 105.90px 107.97px,#0073ff 107.97px 110.05px,#0061ff 110.05px 112.12px,#0073ff 112.12px 114.20px,#0045ff 114.20px 116.28px,#005eff 116.28px 118.35px,#003cff 118.35px 120.43px,#0051ff 120.43px 122.51px,#0039ff 122.51px 124.58px,#0044ff 124.58px 126.66px,#0033ff 126.66px 128.74px,#004bff 128.74px 130.81px,#0033ff 130.81px 132.89px,#005aff 132.89px 134.97px,#0037ff 134.97px 137.04px,#004eff 137.04px 139.12px,#004aff 139.12px 141.19px,#0056ff 141.19px 143.27px,#0038ff 143.27px 145.35px,#005fff 145.35px 147.42px,#004eff 147.42px 149.50px)"></div>
<div class="c" style="left:116.55px;width:6.43px;background:linear-gradient(#00e4ff 0.00px 2.08px,#00c3ff 2.08px 4.15px,#00f7ff 4.15px 6.23px,#00dcff 6.23px 8.31px,#18ffe7 8.31px 10.38px,#00e5ff 10.38px 12.46px,#03fffc 12.46px 14.53px,#00dcff 14.53px 16.61px,#00e4ff 16.61px 18.69px,#00b6ff 18.69px 20.76px,#00cdff 20.76px 22.84px,#00a3ff 22.84px 24.92px,#00b2ff 24.92px 26.99px,#008bff 26.99px 29.07px,#0091ff 29.07px 31.15px,#006bff 31.15px 33.22px,#0089ff 33.22px 35.30px,#0074ff 35.30px 37.38px,#0096ff 37.38px 39.45px,#006aff 39.45px 41.53px,#0083ff 41.53px 43.60px,#0074ff 43.60px 45.68px,#0092ff 45.68px 47.76px,#0085ff 47.76px 49.83px,#00a1ff 49.83px 51.91px,#008eff 51.91px 53.99px,#00aaff 53.99px 56.06px,#0096ff 56.06px 58.14px,#00c3ff 58.14px 60.22px,#00aaff 60.22px 62.29px,#00bdff 62.29px 64.37px,#00c7ff 64.37px 66.44px,#00d8ff 66.44px 68.52px,#00d2ff 68.52px 70.60px,#00e4ff 70.60px 72.67px,#00a1ff 72.67px 74.75px,#0087ff 74.75px 76.83px,#0058ff 76.83px 80.98px,#003cff 80.98px 83.06px,#004dff 83.06px 85.13px,#0022ff 85.13px 87.21px,#004aff 87.21px 89.28px,#0028ff 89.28px 91.36px,#0025ff 91.36px 93.44px,#001aff 93.44px 95.51px,#001cff 95.51px 97.59px,#002fff 97.59px 99.67px,#003fff 99.67px 101.74px,#002aff 101.74px 103.82px,#004cff 103.82px 105.90px,#0028ff 105.90px 107.97px,#0044ff 107.97px 110.05px,#002cff 110.05px 112.12px,#0037ff 112.12px 114.20px,#002dff 114.20px 116.28px,#002fff 116.28px 118.35px,#0013ff 118.35px 120.43px,#002fff 120.43px 122.51px,#0019ff 122.51px 124.58px,#002bff 124.58px 126.66px,#0018ff 126.66px 128.74px,#0041ff 128.74px 130.81px,#0018ff 130.81px 132.89px,#003dff 132.89px 134.97px,#002fff 134.97px 137.04px,#0039ff 137.04px 139.12px,#002cff 139.12px 141.19px,#003dff 141.19px 143.27px,#0037ff 143.27px 145.35px,#0043ff 145.35px 147.42px,#0038ff 147.42px 149.50px)"></div>
<div class="c" style="left:122.38px;width:6.43px;background:linear-gradient(#00bbff 0.00px 2.08px,#00b0ff 2.08px 4.15px,#00bcff 4.15px 6.23px,#00bbff 6.23px 8.31px,#00e3ff 8.31px 10.38px,#00bcff 10.38px 12.46px,#00c2ff 12.46px 14.53px,#00b4ff 14.53px 16.61px,#00a7ff 16.61px 18.69px,#0095ff 18.69px 20.76px,#0090ff 20.76px 22.84px,#0084ff 22.84px 24.92px,#008cff 24.92px 26.99px,#0076ff 26.99px 29.07px,#0078ff 29.07px 31.15px,#006dff 31.15px 33.22px,#006bff 33.22px 35.30px,#0063ff 35.30px 37.38px,#0072ff 37.38px 39.45px,#0054ff 39.45px 41.53px,#0062ff 41.53px 43.60px,#0050ff 43.60px 45.68px,#0078ff 45.68px 47.76px,#006dff 47.76px 49.83px,#0095ff 49.83px 51.91px,#006cff 51.91px 53.99px,#0098ff 53.99px 56.06px,#0079ff 56.06px 58.14px,#00a3ff 58.14px 60.22px,#0092ff 60.22px 62.29px,#00a7ff 62.29px 64.37px,#00acff 64.37px 66.44px,#00beff 66.44px 68.52px,#00aaff 68.52px 70.60px,#00b6ff 70.60px 72.67px,#0099ff 72.67px 74.75px,#009fff 74.75px 76.83px,#0089ff 76.83px 78.90px,#009bff 78.90px 80.98px,#006dff 80.98px 83.06px,#008eff 83.06px 85.13px,#0073ff 85.13px 87.21px,#007fff 87.21px 89.28px,#0057ff 89.28px 91.36px,#0076ff 91.36px 93.44px,#004fff 93.44px 95.51px,#006eff 95.51px 97.59px,#0065ff 97.59px 99.67px,#0089ff 99.67px 101.74px,#0079ff 101.74px 103.82px,#0095ff 103.82px 105.90px,#0074ff 105.90px 107.97px,#008bff 107.97px 110.05px,#0071ff 110.05px 112.12px,#0085ff 112.12px 114.20px,#005eff 114.20px 116.28px,#0074ff 116.28px 118.35px,#0061ff 118.35px 120.43px,#006fff 120.43px 122.51px,#004eff 122.51px 124.58px,#004dff 124.58px 126.66px,#0049ff 126.66px 128.74px,#0067ff 128.74px 130.81px,#0059ff 130.81px 132.89px,#0071ff 132.89px 134.97px,#006bff 134.97px 137.04px,#0078ff 137.04px 139.12px,#0056ff 139.12px 141.19px,#007aff 141.19px 143.27px,#0063ff 143.27px 145.35px,#0078ff 145.35px 147.42px,#0061ff 147.42px 149.50px)"></div>
<div class="c" style="left:128.21px;width:6.43px;background:linear-gradient(#0092ff 0.00px 2.08px,#007aff 2.08px 4.15px,#0098ff 4.15px 6.23px,#0092ff 6.23px 8.31px,#00aeff 8.31px 10.38px,#008dff 10.38px 12.46px,#00a4ff 12.46px 14.53px,#007fff 14.53px 16.61px,#0089ff 16.61px 18.69px,#0070ff 18.69px 20.76px,#0072ff 20.76px 22.84px,#0056ff 22.84px 24.92px,#006bff 24.92px 26.99px,#003dff 26.99px 29.07px,#004bff 29.07px 31.15px,#002fff 31.15px 33.22px,#0045ff 33.22px 35.30px,#0025ff 35.30px 37.38px,#0030ff 37.38px 39.45px,#002eff 39.45px 41.53px,#0043ff 41.53px 43.60px,#0036ff 43.60px 45.68px,#0044ff 45.68px 47.76px,#0027ff 47.76px 49.83px,#0055ff 49.83px 51.91px,#004bff 51.91px 53.99px,#0062ff 53.99px 56.06px,#006eff 56.06px 58.14px,#0088ff 58.14px 62.29px,#00a0ff 62.29px 64.37px,#0090ff 64.37px 66.44px,#00a4ff 66.44px 68.52px,#008eff 68.52px 70.60px,#00a5ff 70.60px 72.67px,#008bff 72.67px 74.75px,#0078ff 74.75px 76.83px,#0051ff 76.83px 78.90px,#0065ff 78.90px 80.98px,#0046ff 80.98px 83.06px,#0057ff 83.06px 85.13px,#0032ff 85.13px 87.21px,#0049ff 87.21px 89.28px,#001fff 89.28px 91.36px,#004dff 91.36px 93.44px,#0020ff 93.44px 95.51px,#0048ff 95.51px 97.59px,#003dff 97.59px 99.67px,#0058ff 99.67px 101.74px,#0044ff 101.74px 103.82px,#0052ff 103.82px 105.90px,#003dff 105.90px 107.97px,#004aff 107.97px 110.05px,#0047ff 110.05px 112.12px,#004fff 112.12px 114.20px,#0037ff 114.20px 116.28px,#003fff 116.28px 118.35px,#0029ff 118.35px 120.43px,#0043ff 120.43px 122.51px,#0032ff 122.51px 124.58px,#0033ff 124.58px 126.66px,#001cff 126.66px 128.74px,#002eff 128.74px 130.81px,#0023ff 130.81px 132.89px,#0056ff 132.89px 134.97px,#0028ff 134.97px 137.04px,#004aff 137.04px 139.12px,#0029ff 139.12px 141.19px,#0044ff 141.19px 143.27px,#0030ff 143.27px 145.35px,#0049ff 145.35px 147.42px,#0022ff 147.42px 149.50px)"></div>
<div class="c" style="left:134.03px;width:6.43px;background:linear-gradient(#009aff 0.00px 2.08px,#0092ff 2.08px 4.15px,#00a2ff 4.15px 6.23px,#0095ff 6.23px 8.31px,#00abff 8.31px 10.38px,#0094ff 10.38px 12.46px,#00a3ff 12.46px 14.53px,#0083ff 14.53px 16.61px,#0089ff 16.61px 18.69px,#0074ff 18.69px 20.76px,#0073ff 20.76px 22.84px,#005cff 22.84px 24.92px,#005eff 24.92px 26.99px,#004aff 26.99px 29.07px,#0046ff 29.07px 31.15px,#0033ff 31.15px 33.22px,#0039ff 33.22px 35.30px,#0016ff 35.30px 37.38px,#002cff 37.38px 39.45px,#000dff 39.45px 41.53px,#001cff 41.53px 43.60px,#000bff 43.60px 45.68px,#0032ff 45.68px 47.76px,#001cff 47.76px 49.83px,#003aff 49.83px 51.91px,#0032ff 51.91px 53.99px,#0061ff 53.99px 56.06px,#0058ff 56.06px 58.14px,#007dff 58.14px 60.22px,#0074ff 60.22px 62.29px,#009aff 62.29px 64.37px,#0094ff 64.37px 66.44px,#00bbff 66.44px 68.52px,#00b9ff 68.52px 70.60px,#00bdff 70.60px 72.67px,#009aff 72.67px 74.75px,#0091ff 74.75px 76.83px,#0078ff 76.83px 78.90px,#008dff 78.90px 80.98px,#006bff 80.98px 83.06px,#006dff 83.06px 85.13px,#0044ff 85.13px 87.21px,#0063ff 87.21px 89.28px,#0053ff 89.28px 91.36px,#005aff 91.36px 93.44px,#004fff 93.44px 95.51px,#0054ff 95.51px 97.59px,#0046ff 97.59px 99.67px,#0061ff 99.67px 101.74px,#0056ff 101.74px 103.82px,#006dff 103.82px 105.90px,#0059ff 105.90px 107.97px,#006cff 107.97px 110.05px,#0053ff 110.05px 112.12px,#0073ff 112.12px 114.20px,#004bff 114.20px 116.28px,#005eff 116.28px 118.35px,#0049ff 118.35px 120.43px,#005cff 120.43px 122.51px,#0026ff 122.51px 124.58px,#0036ff 124.58px 126.66px,#0028ff 126.66px 128.74px,#004dff 128.74px 130.81px,#0041ff 130.81px 132.89px,#004dff 132.89px 137.04px,#0054ff 137.04px 139.12px,#0049ff 139.12px 141.19px,#0055ff 141.19px 143.27px,#003aff 143.27px 145.35px,#0052ff 145.35px 147.42px,#004aff 147.42px 149.50px)"></div>
<div class="c" style="left:139.86px;width:6.43px;background:linear-gradient(#00aeff 0.00px 2.08px,#00a4ff 2.08px 4.15px,#00cfff 4.15px 6.23px,#00b3ff 6.23px 8.31px,#00d7ff 8.31px 10.38px,#00c5ff 10.38px 12.46px,#00caff 12.46px 14.53px,#00b6ff 14.53px 16.61px,#00afff 16.61px 18.69px,#00a9ff 18.69px 20.76px,#00b2ff 20.76px 22.84px,#009cff 22.84px 24.92px,#009dff 24.92px 26.99px,#008fff 26.99px 29.07px,#00a5ff 29.07px 31.15px,#0078ff 31.15px 33.22px,#0081ff 33.22px 35.30px,#0083ff 35.30px 37.38px,#0087ff 37.38px 39.45px,#007aff 39.45px 41.53px,#008dff 41.53px 43.60px,#007bff 43.60px 45.68px,#009dff 45.68px 47.76px,#007dff 47.76px 49.83px,#0093ff 49.83px 51.91px,#009bff 51.91px 53.99px,#00b8ff 53.99px 56.06px,#00a3ff 56.06px 58.14px,#00ccff 58.14px 60.22px,#00b2ff 60.22px 62.29px,#00d9ff 62.29px 64.37px,#00d5ff 64.37px 66.44px,#00e9ff 66.44px 68.52px,#00dfff 68.52px 70.60px,#00e4ff 70.60px 72.67px,#00c3ff 72.67px 74.75px,#00acff 74.75px 76.83px,#0086ff 76.83px 78.90px,#00acff 78.90px 80.98px,#0073ff 80.98px 83.06px,#0090ff 83.06px 85.13px,#0065ff 85.13px 87.21px,#007aff 87.21px 89.28px,#0064ff 89.28px 91.36px,#0078ff 91.36px 93.44px,#0052ff 93.44px 95.51px,#006fff 95.51px 97.59px,#0067ff 97.59px 99.67px,#0082ff 99.67px 101.74px,#0083ff 101.74px 103.82px,#0087ff 103.82px 105.90px,#0073ff 105.90px 107.97px,#0085ff 107.97px 110.05px,#006fff 110.05px 112.12px,#008dff 112.12px 114.20px,#0068ff 114.20px 116.28px,#0073ff 116.28px 118.35px,#005eff 118.35px 120.43px,#006fff 120.43px 122.51px,#0048ff 122.51px 124.58px,#005aff 124.58px 126.66px,#004bff 126.66px 128.74px,#005dff 128.74px 130.81px,#0054ff 130.81px 132.89px,#007fff 132.89px 134.97px,#005fff 134.97px 137.04px,#0074ff 137.04px 139.12px,#005aff 139.12px 141.19px,#0075ff 141.19px 143.27px,#006bff 143.27px 145.35px,#006cff 145.35px 147.42px,#0068ff 147.42px 149.50px)"></div>
<div class="c" style="left:145.69px;width:6.43px;background:linear-gradient(#00b2ff 0.00px 2.08px,#00a1ff 2.08px 4.15px,#00bdff 4.15px 6.23px,#00a5ff 6.23px 8.31px,#00beff 8.31px 10.38px,#00a1ff 10.38px 12.46px,#00b4ff 12.46px 14.53px,#0092ff 14.53px 16.61px,#0098ff 16.61px 18.69px,#0088ff 18.69px 20.76px,#0093ff 20.76px 22.84px,#0081ff 22.84px 24.92px,#008fff 24.92px 26.99px,#0071ff 26.99px 29.07px,#0087ff 29.07px 31.15px,#0062ff 31.15px 33.22px,#007eff 33.22px 35.30px,#0062ff 35.30px 37.38px,#0068ff 37.38px 39.45px,#004fff 39.45px 41.53px,#0066ff 41.53px 43.60px,#0060ff 43.60px 45.68px,#0076ff 45.68px 47.76px,#0072ff 47.76px 49.83px,#0084ff 49.83px 51.91px,#007eff 51.91px 53.99px,#008bff 53.99px 56.06px,#0091ff 56.06px 58.14px,#00a4ff 58.14px 60.22px,#009cff 60.22px 62.29px,#009fff 62.29px 64.37px,#00acff 64.37px 66.44px,#00c7ff 66.44px 68.52px,#00abff 68.52px 70.60px,#00a8ff 70.60px 72.67px,#009aff 72.67px 74.75px,#0097ff 74.75px 76.83px,#008dff 76.83px 78.90px,#0096ff 78.90px 80.98px,#0080ff 80.98px 83.06px,#0088ff 83.06px 85.13px,#0066ff 85.13px 87.21px,#0079ff 87.21px 89.28px,#0063ff 89.28px 91.36px,#0072ff 91.36px 93.44px,#0060ff 93.44px 95.51px,#0071ff 95.51px 97.59px,#0078ff 97.59px 99.67px,#00b2ff 99.67px 101.74px,#008fff 101.74px 103.82px,#009dff 103.82px 105.90px,#008aff 105.90px 107.97px,#00a2ff 107.97px 110.05px,#008fff 110.05px 112.12px,#00a5ff 112.12px 114.20px,#007dff 114.20px 116.28px,#00a0ff 116.28px 118.35px,#0070ff 118.35px 120.43px,#0087ff 120.43px 122.51px,#0062ff 122.51px 124.58px,#007dff 124.58px 126.66px,#0073ff 126.66px 128.74px,#0083ff 128.74px 130.81px,#0078ff 130.81px 132.89px,#0087ff 132.89px 134.97px,#0070ff 134.97px 137.04px,#0087ff 137.04px 139.12px,#0078ff 139.12px 141.19px,#0090ff 141.19px 143.27px,#0076ff 143.27px 145.35px,#008bff 145.35px 147.42px,#0080ff 147.42px 149.50px)"></div>
<div class="c" style="left:151.52px;width:6.43px;background:linear-gradient(#00baff 0.00px 2.08px,#00adff 2.08px 4.15px,#00c5ff 4.15px 6.23px,#00bdff 6.23px 8.31px,#00eaff 8.31px 10.38px,#00c3ff 10.38px 12.46px,#00c9ff 12.46px 14.53px,#00a8ff 14.53px 18.69px,#008eff 18.69px 20.76px,#0088ff 20.76px 22.84px,#006eff 22.84px 24.92px,#0071ff 24.92px 26.99px,#005bff 26.99px 29.07px,#0064ff 29.07px 31.15px,#003dff 31.15px 33.22px,#0046ff 33.22px 35.30px,#0026ff 35.30px 37.38px,#0041ff 37.38px 39.45px,#0035ff 39.45px 41.53px,#0043ff 41.53px 43.60px,#003bff 43.60px 45.68px,#0045ff 45.68px 47.76px,#003aff 47.76px 49.83px,#0049ff 49.83px 51.91px,#004eff 51.91px 53.99px,#0068ff 53.99px 56.06px,#0070ff 56.06px 58.14px,#008aff 58.14px 60.22px,#0087ff 60.22px 62.29px,#00a3ff 62.29px 64.37px,#00a0ff 64.37px 66.44px,#00bfff 66.44px 68.52px,#00aaff 68.52px 70.60px,#00bcff 70.60px 72.67px,#008cff 72.67px 74.75px,#0092ff 74.75px 76.83px,#006cff 76.83px 78.90px,#0078ff 78.90px 80.98px,#0057ff 80.98px 83.06px,#006fff 83.06px 85.13px,#0061ff 85.13px 87.21px,#0066ff 87.21px 89.28px,#0041ff 89.28px 91.36px,#0052ff 91.36px 93.44px,#0047ff 93.44px 95.51px,#0060ff 95.51px 97.59px,#0040ff 97.59px 99.67px,#006bff 99.67px 101.74px,#0045ff 101.74px 103.82px,#006bff 103.82px 105.90px,#005cff 105.90px 107.97px,#0077ff 107.97px 110.05px,#0069ff 110.05px 112.12px,#006cff 112.12px 114.20px,#0045ff 114.20px 116.28px,#0059ff 116.28px 118.35px,#0042ff 118.35px 120.43px,#003fff 120.43px 122.51px,#0035ff 122.51px 124.58px,#0050ff 124.58px 126.66px,#002eff 126.66px 128.74px,#0052ff 128.74px 130.81px,#0031ff 130.81px 132.89px,#0051ff 132.89px 134.97px,#0043ff 134.97px 137.04px,#0052ff 137.04px 139.12px,#003aff 139.12px 141.19px,#0064ff 141.19px 143.27px,#0035ff 143.27px 145.35px,#0060ff 145.35px 147.42px,#004dff 147.42px 149.50px)"></div>
<div class="c" style="left:157.34px;width:6.43px;background:linear-gradient(#00c1ff 0.00px 2.08px,#00a8ff 2.08px 4.15px,#00bdff 4.15px 6.23px,#00a9ff 6.23px 8.31px,#00b9ff 8.31px 10.38px,#00a5ff 10.38px 12.46px,#00c1ff 12.46px 14.53px,#0093ff 14.53px 16.61px,#0096ff 16.61px 18.69px,#007eff 18.69px 20.76px,#0099ff 20.76px 22.84px,#007fff 22.84px 24.92px,#0089ff 24.92px 26.99px,#007cff 26.99px 29.07px,#0080ff 29.07px 31.15px,#0057ff 31.15px 33.22px,#0070ff 33.22px 35.30px,#0052ff 35.30px 37.38px,#006aff 37.38px 39.45px,#004cff 39.45px 41.53px,#006bff 41.53px 43.60px,#0055ff 43.60px 45.68px,#0076ff 45.68px 47.76px,#006bff 47.76px 49.83px,#0095ff 49.83px 51.91px,#007fff 51.91px 53.99px,#0091ff 53.99px 56.06px,#0096ff 56.06px 58.14px,#00a0ff 58.14px 60.22px,#0099ff 60.22px 62.29px,#00bbff 62.29px 64.37px,#00aaff 64.37px 66.44px,#00b5ff 66.44px 68.52px,#00a3ff 68.52px 70.60px,#00b3ff 70.60px 72.67px,#0087ff 72.67px 74.75px,#00abff 74.75px 76.83px,#006bff 76.83px 78.90px,#008bff 78.90px 80.98px,#0066ff 80.98px 83.06px,#0065ff 83.06px 85.13px,#0050ff 85.13px 87.21px,#005bff 87.21px 89.28px,#004bff 89.28px 91.36px,#0055ff 91.36px 93.44px,#0039ff 93.44px 95.51px,#0059ff 95.51px 97.59px,#0043ff 97.59px 99.67px,#005dff 99.67px 101.74px,#0042ff 101.74px 103.82px,#0052ff 103.82px 105.90px,#0042ff 105.90px 107.97px,#005eff 107.97px 110.05px,#0046ff 110.05px 112.12px,#0052ff 112.12px 114.20px,#002aff 114.20px 116.28px,#0040ff 116.28px 118.35px,#002cff 118.35px 120.43px,#002bff 120.43px 122.51px,#0027ff 122.51px 124.58px,#002cff 124.58px 126.66px,#0017ff 126.66px 128.74px,#003bff 128.74px 130.81px,#001eff 130.81px 132.89px,#0033ff 132.89px 134.97px,#003bff 134.97px 137.04px,#0044ff 137.04px 139.12px,#0035ff 139.12px 141.19px,#004cff 141.19px 143.27px,#003fff 143.27px 145.35px,#005cff 145.35px 147.42px,#003bff 147.42px 149.50px)"></div>
<div class="c" style="left:163.17px;width:6.43px;background:linear-gradient(#00deff 0.00px 2.08px,#00c5ff 2.08px 4.15px,#00d6ff 4.15px 6.23px,#00c0ff 6.23px 8.31px,#00d5ff 8.31px 10.38px,#00c4ff 10.38px 12.46px,#00c1ff 12.46px 14.53px,#009dff 14.53px 16.61px,#00aaff 16.61px 18.69px,#008bff 18.69px 20.76px,#00a3ff 20.76px 22.84px,#0083ff 22.84px 24.92px,#0088ff 24.92px 26.99px,#0077ff 26.99px 29.07px,#007fff 29.07px 31.15px,#005aff 31.15px 33.22px,#0075ff 33.22px 35.30px,#0063ff 35.30px 37.38px,#006aff 37.38px 39.45px,#0057ff 39.45px 41.53px,#0062ff 41.53px 43.60px,#004dff 43.60px 45.68px,#0072ff 45.68px 47.76px,#006fff 47.76px 49.83px,#0085ff 49.83px 51.91px,#006aff 51.91px 53.99px,#009dff 53.99px 56.06px,#008bff 56.06px 58.14px,#00a9ff 58.14px 60.22px,#0093ff 60.22px 62.29px,#00b6ff 62.29px 64.37px,#0096ff 64.37px 66.44px,#00beff 66.44px 68.52px,#00a4ff 68.52px 70.60px,#00b2ff 70.60px 72.67px,#009aff 72.67px 74.75px,#0080ff 74.75px 76.83px,#0044ff 76.83px 78.90px,#005cff 78.90px 80.98px,#0045ff 80.98px 83.06px,#0068ff 83.06px 85.13px,#003aff 85.13px 87.21px,#0052ff 87.21px 89.28px,#0028ff 89.28px 91.36px,#0030ff 91.36px 93.44px,#0037ff 93.44px 95.51px,#0047ff 95.51px 97.59px,#002eff 97.59px 99.67px,#0048ff 99.67px 101.74px,#0036ff 101.74px 103.82px,#0046ff 103.82px 105.90px,#0027ff 105.90px 107.97px,#0050ff 107.97px 110.05px,#002aff 110.05px 112.12px,#003aff 112.12px 114.20px,#001eff 114.20px 116.28px,#002dff 116.28px 118.35px,#0016ff 118.35px 120.43px,#0025ff 120.43px 122.51px,#000eff 122.51px 124.58px,#001eff 124.58px 126.66px,#0012ff 126.66px 128.74px,#000fff 128.74px 130.81px,#0014ff 130.81px 132.89px,#0028ff 132.89px 134.97px,#0023ff 134.97px 137.04px,#0033ff 137.04px 139.12px,#0037ff 139.12px 141.19px,#002eff 141.19px 143.27px,#002bff 143.27px 145.35px,#0041ff 145.35px 147.42px,#0025ff 147.42px 149.50px)"></div>
<div class="ov"></div></div>
<div class="p" style="left:38.00px;top:228.25px">
<div class="c" style="left:0.00px;width:6.43px;background:linear-gradient(#0000a5 0.00px 2.08px,#00008e 2.08px 4.15px,#0000b5 4.15px 6.23px,#0000a1 6.23px 8.31px,#0000b0 8.31px 10.38px,#000097 10.38px 12.46px,#0000b3 12.46px 14.53px,#0000ab 14.53px 16.61px,#0000ad 16.61px 18.69px,#0000a0 18.69px 20.76px,#0000a4 20.76px 22.84px,#0000a3 22.84px 24.92px,#0000b6 24.92px 26.99px,#0000a4 26.99px 29.07px,#0000b1 29.07px 31.15px,#00009d 31.15px 33.22px,#0000aa 33.22px 35.30px,#0000a6 35.30px 37.38px,#0000ae 37.38px 39.45px,#0000ad 39.45px 41.53px,#0000b7 41.53px 43.60px,#000095 43.60px 45.68px,#0000ba 45.68px 47.76px,#0000a1 47.76px 49.83px,#0000ac 49.83px 51.91px,#000097 51.91px 53.99px,#0000b6 53.99px 56.06px,#0000ac 56.06px 58.14px,#0000a8 58.14px 60.22px,#000095 60.22px 62.29px,#0000b1 62.29px 64.37px,#000095 64.37px 66.44px,#0000b1 66.44px 68.52px,#0000a4 68.52px 70.60px,#0000b1 70.60px 72.67px,#00009f 72.67px 74.75px,#0000ad 74.75px 76.83px,#0000aa 76.83px 78.90px,#0000ae 78.90px 80.98px,#000097 80.98px 83.06px,#0000ba 83.06px 85.13px,#000098 85.13px 87.21px,#0000b1 87.21px 89.28px,#00009b 89.28px 91.36px,#0000b8 91.36px 93.44px,#00009d 93.44px 95.51px,#0000b9 95.51px 97.59px,#00009d 97.59px 99.67px,#0000ab 99.67px 101.74px,#00009e 101.74px 103.82px,#0000b0 103.82px 105.90px,#000096 105.90px 107.97px,#0000b0 107.97px 110.05px,#000099 110.05px 112.12px,#0000b3 112.12px 114.20px,#0000aa 114.20px 116.28px,#0000b8 116.28px 118.35px,#00008b 118.35px 120.43px,#0000af 120.43px 122.51px,#000095 122.51px 124.58px,#0000b0 124.58px 126.66px,#000099 126.66px 128.74px,#0000ab 128.74px 130.81px,#00009c 130.81px 132.89px,#0000ab 132.89px 134.97px,#00009a 134.97px 137.04px,#0000bb 137.04px 139.12px,#00009c 139.12px 141.19px,#0000b8 141.19px 143.27px,#0000a2 143.27px 145.35px,#0000b8 145.35px 147.42px,#000099 147.42px 149.50px)"></div>
<div class="c" style="left:5.83px;width:6.43px;background:linear-gradient(#0000d7 0.00px 2.08px,#0000ae 2.08px 4.15px,#0000cc 4.15px 6.23px,#0000a9 6.23px 8.31px,#0000b9 8.31px 10.38px,#0000b0 10.38px 12.46px,#0000c2 12.46px 14.53px,#0000a9 14.53px 16.61px,#0000c9 16.61px 18.69px,#0000ac 18.69px 20.76px,#0000c1 20.76px 22.84px,#0000a5 22.84px 24.92px,#0000c0 24.92px 26.99px,#0000ab 26.99px 29.07px,#0000bb 29.07px 31.15px,#0000b6 31.15px 33.22px,#0000c3 33.22px 35.30px,#0000af 35.30px 37.38px,#0000b8 37.38px 39.45px,#0000af 39.45px 41.53px,#0000c0 41.53px 43.60px,#0000b4 43.60px 45.68px,#0000bd 45.68px 47.76px,#00009e 47.76px 49.83px,#0000c8 49.83px 51.91px,#0000b5 51.91px 53.99px,#0000ca 53.99px 56.06px,#0000ac 56.06px 58.14px,#0000ba 58.14px 62.29px,#0000d0 62.29px 64.37px,#0000aa 64.37px 66.44px,#0000b8 66.44px 68.52px,#0000b0 68.52px 70.60px,#0000c6 70.60px 72.67px,#0000b4 72.67px 74.75px,#0000c4 74.75px 76.83px,#0000bc 76.83px 78.90px,#0000c4 78.90px 80.98px,#0000a5 80.98px 83.06px,#0000c7 83.06px 85.13px,#0000ba 85.13px 87.21px,#0000c9 87.21px 89.28px,#0000ab 89.28px 91.36px,#0000c8 91.36px 93.44px,#0000ad 93.44px 95.51px,#0000cb 95.51px 97.59px,#0000c1 97.59px 99.67px,#0000bd 99.67px 101.74px,#0000b9 101.74px 103.82px,#0000cd 103.82px 105.90px,#0000b4 105.90px 107.97px,#0000c4 107.97px 110.05px,#0000a8 110.05px 112.12px,#0000c5 112.12px 114.20px,#0000b0 114.20px 116.28px,#0000c6 116.28px 118.35px,#0000ac 118.35px 120.43px,#0000ca 120.43px 122.51px,#0000b5 122.51px 124.58px,#0000d4 124.58px 126.66px,#0000ac 126.66px 128.74px,#0000bd 128.74px 130.81px,#0000b0 130.81px 132.89px,#0000c9 132.89px 134.97px,#0000a2 134.97px 137.04px,#0000c5 137.04px 139.12px,#0000af 139.12px 141.19px,#0000b5 141.19px 143.27px,#0000b0 143.27px 145.35px,#0000c2 145.35px 147.42px,#0000b6 147.42px 149.50px)"></div>
<div class="c" style="left:11.66px;width:6.43px;background:linear-gradient(#0000d5 0.00px 2.08px,#0000bb 2.08px 4.15px,#0000d5 4.15px 6.23px,#0000cc 6.23px 8.31px,#0000cd 8.31px 10.38px,#0000c6 10.38px 12.46px,#0000e3 12.46px 14.53px,#0000c9 14.53px 16.61px,#0000dd 16.61px 18.69px,#0000c2 18.69px 20.76px,#0000d8 20.76px 24.92px,#0000cd 24.92px 26.99px,#0000b9 26.99px 29.07px,#0000d4 29.07px 31.15px,#0000c3 31.15px 33.22px,#0000e2 33.22px 35.30px,#0000c9 35.30px 37.38px,#0000e0 37.38px 39.45px,#0000c8 39.45px 41.53px,#0000d5 41.53px 43.60px,#0000ce 43.60px 45.68px,#0000f0 45.68px 47.76px,#0000c1 47.76px 49.83px,#0000db 49.83px 51.91px,#0000bd 51.91px 53.99px,#0000d2 53.99px 56.06px,#0000cc 56.06px 58.14px,#0000dd 58.14px 60.22px,#0000c8 60.22px 62.29px,#0000dc 62.29px 64.37px,#0000c4 64.37px 66.44px,#0000d7 66.44px 68.52px,#0000bb 68.52px 70.60px,#0000eb 70.60px 72.67px,#0000be 72.67px 74.75px,#0000cd 74.75px 76.83px,#0000c1 76.83px 78.90px,#0000e2 78.90px 80.98px,#0000c9 80.98px 83.06px,#0000da 83.06px 85.13px,#0000c7 85.13px 87.21px,#0000db 87.21px 89.28px,#0000cd 89.28px 91.36px,#0000e0 91.36px 93.44px,#0000b5 93.44px 95.51px,#0000cf 95.51px 97.59px,#0000cc 97.59px 99.67px,#0000e5 99.67px 101.74px,#0000bc 101.74px 103.82px,#0000dd 103.82px 105.90px,#0000c5 105.90px 107.97px,#0000dc 107.97px 110.05px,#0000c8 110.05px 112.12px,#0000e2 112.12px 114.20px,#0000d2 114.20px 116.28px,#0000dd 116.28px 118.35px,#0000b5 118.35px 120.43px,#0000e0 120.43px 122.51px,#0000bd 122.51px 124.58px,#0000d0 124.58px 126.66px,#0000c2 126.66px 128.74px,#0000cd 128.74px 130.81px,#0000c5 130.81px 132.89px,#0000cf 132.89px 134.97px,#0000c6 134.97px 137.04px,#0000d6 137.04px 139.12px,#0000c4 139.12px 141.19px,#0000da 141.19px 143.27px,#0000d3 143.27px 145.35px,#0000d7 145.35px 147.42px,#0000bd 147.42px 149.50px)"></div>
<div class="c" style="left:17.48px;width:6.43px;background:linear-gradient(#0000f3 0.00px 2.08px,#0000d5 2.08px 4.15px,#0000eb 4.15px 6.23px,#0000d8 6.23px 8.31px,#0000fc 8.31px 10.38px,#0000d4 10.38px 12.46px,#0000f9 12.46px 14.53px,#0000e1 14.53px 16.61px,#0000ff 16.61px 18.69px,#0000e9 18.69px 20.76px,#0000fd 20.76px 22.84px,#0000db 22.84px 24.92px,#0000f1 24.92px 26.99px,#0000f4 26.99px 29.07px,#0001ff 29.07px 31.15px,#0000d3 31.15px 33.22px,#0000f7 33.22px 35.30px,#0000e1 35.30px 37.38px,#0000ed 37.38px 39.45px,#0000e8 39.45px 41.53px,#0000f5 41.53px 43.60px,#0000f0 43.60px 45.68px,#0002ff 45.68px 47.76px,#0000d6 47.76px 49.83px,#0000f9 49.83px 51.91px,#0000f2 51.91px 53.99px,#0005ff 53.99px 56.06px,#0000d1 56.06px 58.14px,#0000fd 58.14px 60.22px,#0000eb 60.22px 62.29px,#0000f6 62.29px 64.37px,#0000f8 64.37px 66.44px,#0000f5 66.44px 68.52px,#0000db 68.52px 70.60px,#0000f1 70.60px 72.67px,#0000e0 72.67px 74.75px,#0000ff 74.75px 76.83px,#0000e2 76.83px 78.90px,#0000fc 78.90px 80.98px,#0000e0 80.98px 83.06px,#0000f8 83.06px 85.13px,#0000d2 85.13px 87.21px,#0000f9 87.21px 89.28px,#0000dc 89.28px 91.36px,#0000f5 91.36px 93.44px,#0000ec 93.44px 97.59px,#0000df 97.59px 99.67px,#0000fd 99.67px 101.74px,#0000e8 101.74px 103.82px,#0000f1 103.82px 105.90px,#0000e8 105.90px 107.97px,#0000e9 107.97px 110.05px,#0000e6 110.05px 112.12px,#0000e9 112.12px 114.20px,#0000ec 114.20px 116.28px,#0000ed 116.28px 118.35px,#0000e4 118.35px 120.43px,#0000f9 120.43px 122.51px,#0000e5 122.51px 124.58px,#0000fe 124.58px 126.66px,#0000dd 126.66px 128.74px,#0000ea 128.74px 130.81px,#0000db 130.81px 132.89px,#0000fa 132.89px 134.97px,#0000e2 134.97px 137.04px,#0007ff 137.04px 139.12px,#0000d9 139.12px 141.19px,#0000ff 141.19px 143.27px,#0000ec 143.27px 145.35px,#0000f1 145.35px 147.42px,#0000e5 147.42px 149.50px)"></div>
<div class="c" style="left:23.31px;width:6.43px;background:linear-gradient(#0010ff 0.00px 2.08px,#0000fa 2.08px 4.15px,#0018ff 4.15px 6.23px,#000cff 6.23px 8.31px,#000aff 8.31px 12.46px,#0015ff 12.46px 14.53px,#0000ff 14.53px 16.61px,#0017ff 16.61px 18.69px,#0003ff 18.69px 20.76px,#0018ff 20.76px 22.84px,#0002ff 22.84px 24.92px,#000cff 24.92px 26.99px,#0004ff 26.99px 29.07px,#0018ff 29.07px 31.15px,#0000f3 31.15px 33.22px,#0013ff 33.22px 35.30px,#0002ff 35.30px 37.38px,#0017ff 37.38px 39.45px,#0004ff 39.45px 41.53px,#000cff 41.53px 43.60px,#0004ff 43.60px 45.68px,#000bff 45.68px 47.76px,#0000f0 47.76px 49.83px,#0018ff 49.83px 51.91px,#0000f9 51.91px 53.99px,#000dff 53.99px 56.06px,#0001ff 56.06px 58.14px,#001aff 58.14px 60.22px,#0000ff 60.22px 62.29px,#0015ff 62.29px 64.37px,#0000f9 64.37px 66.44px,#0023ff 66.44px 68.52px,#000dff 68.52px 70.60px,#0018ff 70.60px 72.67px,#0006ff 72.67px 74.75px,#0011ff 74.75px 76.83px,#0004ff 76.83px 78.90px,#0022ff 78.90px 80.98px,#0000f9 80.98px 83.06px,#0021ff 83.06px 85.13px,#0000f9 85.13px 87.21px,#0019ff 87.21px 89.28px,#0009ff 89.28px 91.36px,#0020ff 91.36px 93.44px,#0000fe 93.44px 95.51px,#0018ff 95.51px 97.59px,#0000ff 97.59px 99.67px,#0009ff 99.67px 101.74px,#0000fb 101.74px 103.82px,#0016ff 103.82px 105.90px,#0006ff 105.90px 107.97px,#0017ff 107.97px 110.05px,#0000f7 110.05px 112.12px,#001eff 112.12px 114.20px,#0000fd 114.20px 116.28px,#0014ff 116.28px 118.35px,#0008ff 118.35px 120.43px,#0012ff 120.43px 122.51px,#0008ff 122.51px 124.58px,#0020ff 124.58px 126.66px,#0000f9 126.66px 128.74px,#0018ff 128.74px 130.81px,#0000fc 130.81px 132.89px,#0015ff 132.89px 134.97px,#0000ef 134.97px 137.04px,#0016ff 137.04px 139.12px,#0000f7 139.12px 141.19px,#0013ff 141.19px 143.27px,#0000fc 143.27px 145.35px,#0020ff 145.35px 147.42px,#0004ff 147.42px 149.50px)"></div>
<div class="c" style="left:29.14px;width:6.43px;background:linear-gradient(#0033ff 0.00px 2.08px,#0015ff 2.08px 4.15px,#001cff 4.15px 6.23px,#0007ff 6.23px 8.31px,#0027ff 8.31px 10.38px,#000fff 10.38px 12.46px,#0028ff 12.46px 14.53px,#0010ff 14.53px 16.61px,#0021ff 16.61px 18.69px,#0009ff 18.69px 20.76px,#0019ff 20.76px 22.84px,#0017ff 22.84px 24.92px,#001fff 24.92px 26.99px,#001dff 26.99px 29.07px,#0017ff 29.07px 31.15px,#001cff 31.15px 33.22px,#0026ff 33.22px 35.30px,#000fff 35.30px 37.38px,#001cff 37.38px 39.45px,#0012ff 39.45px 41.53px,#001cff 41.53px 43.60px,#0013ff 43.60px 45.68px,#0019ff 45.68px 47.76px,#000cff 47.76px 49.83px,#001dff 49.83px 51.91px,#000bff 51.91px 53.99px,#002aff 53.99px 56.06px,#0008ff 56.06px 58.14px,#0027ff 58.14px 60.22px,#0016ff 60.22px 64.37px,#000bff 64.37px 66.44px,#0026ff 66.44px 68.52px,#0008ff 68.52px 70.60px,#0021ff 70.60px 72.67px,#0008ff 72.67px 74.75px,#0017ff 74.75px 76.83px,#000eff 76.83px 78.90px,#0021ff 78.90px 80.98px,#0005ff 80.98px 83.06px,#002bff 83.06px 85.13px,#0007ff 85.13px 87.21px,#001eff 87.21px 89.28px,#000fff 89.28px 91.36px,#0023ff 91.36px 93.44px,#0010ff 93.44px 95.51px,#0028ff 95.51px 97.59px,#0000f8 97.59px 99.67px,#001cff 99.67px 101.74px,#0008ff 101.74px 103.82px,#002dff 103.82px 105.90px,#000cff 105.90px 107.97px,#0020ff 107.97px 110.05px,#000aff 110.05px 112.12px,#001bff 112.12px 114.20px,#0011ff 114.20px 116.28px,#002fff 116.28px 118.35px,#000cff 118.35px 120.43px,#002cff 120.43px 122.51px,#000bff 122.51px 124.58px,#001fff 124.58px 126.66px,#0015ff 126.66px 128.74px,#001bff 128.74px 130.81px,#0008ff 130.81px 132.89px,#002aff 132.89px 134.97px,#0001ff 134.97px 137.04px,#0027ff 137.04px 139.12px,#0009ff 139.12px 141.19px,#0022ff 141.19px 143.27px,#0010ff 143.27px 145.35px,#002aff 145.35px 147.42px,#0009ff 147.42px 149.50px)"></div>
<div class="c" style="left:34.97px;width:6.43px;background:linear-gradient(#0027ff 0.00px 2.08px,#001aff 2.08px 4.15px,#002eff 4.15px 6.23px,#0012ff 6.23px 8.31px,#003aff 8.31px 10.38px,#001dff 10.38px 12.46px,#0032ff 12.46px 14.53px,#0020ff 14.53px 16.61px,#003aff 16.61px 18.69px,#0007ff 18.69px 20.76px,#0034ff 20.76px 22.84px,#0017ff 22.84px 24.92px,#0021ff 24.92px 26.99px,#0016ff 26.99px 29.07px,#0037ff 29.07px 31.15px,#0022ff 31.15px 33.22px,#002bff 33.22px 35.30px,#001bff 35.30px 37.38px,#0030ff 37.38px 39.45px,#0018ff 39.45px 41.53px,#002aff 41.53px 43.60px,#001dff 43.60px 45.68px,#0025ff 45.68px 47.76px,#0015ff 47.76px 49.83px,#002eff 49.83px 51.91px,#001fff 51.91px 53.99px,#002eff 53.99px 56.06px,#0019ff 56.06px 58.14px,#0031ff 58.14px 60.22px,#002bff 60.22px 62.29px,#0029ff 62.29px 64.37px,#0011ff 64.37px 66.44px,#002dff 66.44px 68.52px,#0013ff 68.52px 70.60px,#002cff 70.60px 72.67px,#001bff 72.67px 74.75px,#0033ff 74.75px 76.83px,#0020ff 76.83px 78.90px,#002fff 78.90px 80.98px,#001fff 80.98px 83.06px,#002cff 83.06px 85.13px,#0015ff 85.13px 87.21px,#0025ff 87.21px 89.28px,#0019ff 89.28px 91.36px,#0031ff 91.36px 93.44px,#0019ff 93.44px 95.51px,#001fff 95.51px 97.59px,#001cff 97.59px 99.67px,#0038ff 99.67px 101.74px,#0010ff 101.74px 103.82px,#002cff 103.82px 105.90px,#0020ff 105.90px 107.97px,#0030ff 107.97px 110.05px,#000bff 110.05px 112.12px,#002cff 112.12px 114.20px,#001bff 114.20px 116.28px,#002aff 116.28px 118.35px,#0019ff 118.35px 120.43px,#0023ff 120.43px 122.51px,#0022ff 122.51px 124.58px,#0036ff 124.58px 126.66px,#0014ff 126.66px 128.74px,#002dff 128.74px 130.81px,#0016ff 130.81px 132.89px,#0032ff 132.89px 134.97px,#002aff 134.97px 137.04px,#0038ff 137.04px 139.12px,#0016ff 139.12px 141.19px,#0027ff 141.19px 143.27px,#0019ff 143.27px 145.35px,#002fff 145.35px 147.42px,#000fff 147.42px 149.50px)"></div>
<div class="c" style="left:40.79px;width:6.43px;background:linear-gradient(#0039ff 0.00px 2.08px,#0024ff 2.08px 4.15px,#0036ff 4.15px 6.23px,#0026ff 6.23px 8.31px,#003aff 8.31px 10.38px,#001dff 10.38px 12.46px,#0048ff 12.46px 14.53px,#002bff 14.53px 16.61px,#0044ff 16.61px 18.69px,#001dff 18.69px 20.76px,#003aff 20.76px 22.84px,#0021ff 22.84px 24.92px,#0035ff 24.92px 26.99px,#0025ff 26.99px 29.07px,#0048ff 29.07px 31.15px,#0024ff 31.15px 33.22px,#0041ff 33.22px 35.30px,#002bff 35.30px 37.38px,#003fff 37.38px 39.45px,#0026ff 39.45px 41.53px,#002bff 41.53px 43.60px,#002fff 43.60px 45.68px,#003eff 45.68px 47.76px,#0029ff 47.76px 49.83px,#0048ff 49.83px 51.91px,#002dff 51.91px 53.99px,#0048ff 53.99px 56.06px,#002dff 56.06px 58.14px,#0043ff 58.14px 60.22px,#0036ff 60.22px 62.29px,#0031ff 62.29px 64.37px,#0029ff 64.37px 66.44px,#0039ff 66.44px 68.52px,#0023ff 68.52px 70.60px,#004bff 70.60px 72.67px,#0036ff 72.67px 74.75px,#0042ff 74.75px 76.83px,#002dff 76.83px 78.90px,#0048ff 78.90px 80.98px,#003fff 80.98px 83.06px,#004bff 83.06px 85.13px,#0030ff 85.13px 87.21px,#0041ff 87.21px 89.28px,#0032ff 89.28px 91.36px,#0046ff 91.36px 93.44px,#0025ff 93.44px 95.51px,#0040ff 95.51px 97.59px,#0036ff 97.59px 99.67px,#0035ff 99.67px 101.74px,#0036ff 101.74px 103.82px,#0056ff 103.82px 105.90px,#002cff 105.90px 107.97px,#0047ff 107.97px 110.05px,#003eff 110.05px 114.20px,#002eff 114.20px 116.28px,#004bff 116.28px 118.35px,#0034ff 118.35px 120.43px,#0049ff 120.43px 122.51px,#0033ff 122.51px 124.58px,#0042ff 124.58px 126.66px,#0039ff 126.66px 128.74px,#0043ff 128.74px 130.81px,#0026ff 130.81px 132.89px,#0045ff 132.89px 134.97px,#0031ff 134.97px 137.04px,#003eff 137.04px 139.12px,#003cff 139.12px 141.19px,#0046ff 141.19px 143.27px,#0024ff 143.27px 145.35px,#003bff 145.35px 147.42px,#0039ff 147.42px 149.50px)"></div>
<div class="c" style="left:46.62px;width:6.43px;background:linear-gradient(#0052ff 0.00px 2.08px,#003eff 2.08px 4.15px,#004cff 4.15px 6.23px,#0034ff 6.23px 8.31px,#0053ff 8.31px 10.38px,#004dff 10.38px 12.46px,#005aff 12.46px 14.53px,#0048ff 14.53px 16.61px,#005dff 16.61px 18.69px,#004aff 18.69px 20.76px,#0063ff 20.76px 22.84px,#0037ff 22.84px 24.92px,#0051ff 24.92px 26.99px,#0044ff 26.99px 29.07px,#0061ff 29.07px 31.15px,#003cff 31.15px 33.22px,#005aff 33.22px 35.30px,#0049ff 35.30px 37.38px,#004bff 37.38px 39.45px,#0040ff 39.45px 41.53px,#005bff 41.53px 43.60px,#003cff 43.60px 45.68px,#0053ff 45.68px 47.76px,#0048ff 47.76px 49.83px,#0062ff 49.83px 51.91px,#0040ff 51.91px 53.99px,#0061ff 53.99px 56.06px,#003fff 56.06px 58.14px,#0054ff 58.14px 60.22px,#003cff 60.22px 62.29px,#0056ff 62.29px 64.37px,#0044ff 64.37px 66.44px,#004dff 66.44px 68.52px,#003dff 68.52px 70.60px,#005cff 70.60px 72.67px,#004dff 72.67px 74.75px,#005cff 74.75px 76.83px,#0040ff 76.83px 78.90px,#0056ff 78.90px 80.98px,#0047ff 80.98px 83.06px,#0059ff 83.06px 85.13px,#0035ff 85.13px 87.21px,#0051ff 87.21px 89.28px,#0040ff 89.28px 91.36px,#0055ff 91.36px 93.44px,#003dff 93.44px 95.51px,#0056ff 95.51px 97.59px,#0048ff 97.59px 99.67px,#0058ff 99.67px 101.74px,#003eff 101.74px 103.82px,#0060ff 103.82px 105.90px,#003cff 105.90px 107.97px,#0051ff 107.97px 110.05px,#003aff 110.05px 112.12px,#005fff 112.12px 114.20px,#0044ff 114.20px 116.28px,#004dff 116.28px 118.35px,#004cff 118.35px 120.43px,#0056ff 120.43px 122.51px,#0046ff 122.51px 124.58px,#0054ff 124.58px 126.66px,#004aff 126.66px 128.74px,#0055ff 128.74px 130.81px,#0045ff 130.81px 132.89px,#0059ff 132.89px 134.97px,#004eff 134.97px 137.04px,#0063ff 137.04px 139.12px,#004eff 139.12px 141.19px,#005fff 141.19px 143.27px,#0066ff 143.27px 145.35px,#0078ff 145.35px 147.42px,#0059ff 147.42px 149.50px)"></div>
<div class="c" style="left:52.45px;width:6.43px;background:linear-gradient(#0060ff 0.00px 2.08px,#0050ff 2.08px 4.15px,#0065ff 4.15px 6.23px,#0047ff 6.23px 8.31px,#0064ff 8.31px 10.38px,#0046ff 10.38px 12.46px,#0065ff 12.46px 14.53px,#0055ff 14.53px 16.61px,#0057ff 16.61px 18.69px,#0059ff 18.69px 20.76px,#0061ff 20.76px 22.84px,#0045ff 22.84px 24.92px,#005aff 24.92px 26.99px,#0047ff 26.99px 29.07px,#0051ff 29.07px 31.15px,#0044ff 31.15px 33.22px,#0065ff 33.22px 35.30px,#0040ff 35.30px 37.38px,#005eff 37.38px 39.45px,#004fff 39.45px 41.53px,#0056ff 41.53px 43.60px,#0045ff 43.60px 45.68px,#0059ff 45.68px 47.76px,#004bff 47.76px 49.83px,#0054ff 49.83px 51.91px,#0033ff 51.91px 53.99px,#0058ff 53.99px 56.06px,#0049ff 56.06px 58.14px,#005cff 58.14px 60.22px,#0049ff 60.22px 62.29px,#0054ff 62.29px 64.37px,#0045ff 64.37px 66.44px,#004dff 66.44px 68.52px,#0040ff 68.52px 70.60px,#0059ff 70.60px 72.67px,#0044ff 72.67px 74.75px,#005bff 74.75px 76.83px,#003fff 76.83px 78.90px,#006aff 78.90px 80.98px,#0049ff 80.98px 83.06px,#0053ff 83.06px 85.13px,#0043ff 85.13px 87.21px,#005dff 87.21px 89.28px,#004fff 89.28px 91.36px,#0068ff 91.36px 93.44px,#0043ff 93.44px 95.51px,#006eff 95.51px 97.59px,#0041ff 97.59px 99.67px,#0062ff 99.67px 101.74px,#0047ff 101.74px 103.82px,#0057ff 103.82px 105.90px,#0050ff 105.90px 107.97px,#0059ff 107.97px 110.05px,#0048ff 110.05px 112.12px,#0068ff 112.12px 114.20px,#003dff 114.20px 116.28px,#0073ff 116.28px 118.35px,#004dff 118.35px 120.43px,#0061ff 120.43px 122.51px,#0060ff 122.51px 126.66px,#004bff 126.66px 128.74px,#0067ff 128.74px 130.81px,#0052ff 130.81px 132.89px,#0051ff 132.89px 134.97px,#004eff 134.97px 137.04px,#0065ff 137.04px 139.12px,#0045ff 139.12px 141.19px,#0070ff 141.19px 143.27px,#0064ff 143.27px 145.35px,#0089ff 145.35px 147.42px,#006aff 147.42px 149.50px)"></div>
<div class="c" style="left:58.28px;width:6.43px;background:linear-gradient(#0070ff 0.00px 2.08px,#0055ff 2.08px 4.15px,#007bff 4.15px 6.23px,#0058ff 6.23px 8.31px,#006dff 8.31px 10.38px,#004eff 10.38px 12.46px,#0068ff 12.46px 14.53px,#0058ff 14.53px 16.61px,#005cff 16.61px 18.69px,#004aff 18.69px 20.76px,#0077ff 20.76px 22.84px,#0062ff 22.84px 24.92px,#006cff 24.92px 26.99px,#004dff 26.99px 29.07px,#006aff 29.07px 31.15px,#0053ff 31.15px 33.22px,#007aff 33.22px 35.30px,#0057ff 35.30px 37.38px,#006aff 37.38px 39.45px,#0050ff 39.45px 41.53px,#0062ff 41.53px 43.60px,#005fff 43.60px 45.68px,#006aff 45.68px 47.76px,#0059ff 47.76px 49.83px,#006dff 49.83px 51.91px,#005cff 51.91px 53.99px,#006fff 53.99px 56.06px,#004aff 56.06px 58.14px,#006dff 58.14px 60.22px,#004dff 60.22px 62.29px,#0063ff 62.29px 64.37px,#004bff 64.37px 66.44px,#0068ff 66.44px 68.52px,#0053ff 68.52px 70.60px,#0059ff 70.60px 72.67px,#003dff 72.67px 74.75px,#005eff 74.75px 76.83px,#004aff 76.83px 78.90px,#0050ff 78.90px 80.98px,#004bff 80.98px 83.06px,#0058ff 83.06px 85.13px,#0050ff 85.13px 87.21px,#005fff 87.21px 89.28px,#0051ff 89.28px 91.36px,#0059ff 91.36px 93.44px,#0037ff 93.44px 95.51px,#0053ff 95.51px 97.59px,#004eff 97.59px 99.67px,#0054ff 99.67px 101.74px,#0045ff 101.74px 103.82px,#0052ff 103.82px 105.90px,#003eff 105.90px 107.97px,#005bff 107.97px 110.05px,#0043ff 110.05px 112.12px,#0052ff 112.12px 114.20px,#0047ff 114.20px 116.28px,#004eff 116.28px 118.35px,#003fff 118.35px 120.43px,#0052ff 120.43px 122.51px,#004cff 122.51px 124.58px,#0052ff 124.58px 126.66px,#0041ff 126.66px 128.74px,#005aff 128.74px 130.81px,#0038ff 130.81px 132.89px,#0055ff 132.89px 134.97px,#0048ff 134.97px 137.04px,#004dff 137.04px 139.12px,#0043ff 139.12px 141.19px,#0065ff 141.19px 143.27px,#0077ff 143.27px 145.35px,#0080ff 145.35px 147.42px,#0068ff 147.42px 149.50px)"></div>
<div class="c" style="left:64.10px;width:6.43px;background:linear-gradient(#0091ff 0.00px 2.08px,#008cff 2.08px 4.15px,#009aff 4.15px 6.23px,#007dff 6.23px 8.31px,#009fff 8.31px 10.38px,#008aff 10.38px 12.46px,#00a2ff 12.46px 14.53px,#008cff 14.53px 16.61px,#0099ff 16.61px 18.69px,#007cff 18.69px 20.76px,#0091ff 20.76px 22.84px,#008dff 22.84px 24.92px,#00a1ff 24.92px 26.99px,#0081ff 26.99px 29.07px,#00a4ff 29.07px 31.15px,#008cff 31.15px 33.22px,#009bff 33.22px 35.30px,#0086ff 35.30px 37.38px,#00a0ff 37.38px 39.45px,#007dff 39.45px 41.53px,#0092ff 41.53px 43.60px,#0080ff 43.60px 45.68px,#00a9ff 45.68px 47.76px,#0085ff 47.76px 49.83px,#0098ff 49.83px 51.91px,#0087ff 51.91px 53.99px,#0096ff 53.99px 56.06px,#0079ff 56.06px 58.14px,#008fff 58.14px 60.22px,#007eff 60.22px 62.29px,#008cff 62.29px 64.37px,#0076ff 64.37px 66.44px,#0079ff 66.44px 68.52px,#0076ff 68.52px 70.60px,#008dff 70.60px 72.67px,#0066ff 72.67px 74.75px,#009eff 74.75px 76.83px,#00a6ff 76.83px 78.90px,#00b9ff 78.90px 80.98px,#0094ff 80.98px 83.06px,#0080ff 83.06px 85.13px,#007bff 85.13px 87.21px,#0074ff 87.21px 89.28px,#006aff 89.28px 91.36px,#007eff 91.36px 93.44px,#0059ff 93.44px 95.51px,#006fff 95.51px 97.59px,#0070ff 97.59px 99.67px,#0080ff 99.67px 101.74px,#0071ff 101.74px 103.82px,#0077ff 103.82px 105.90px,#006eff 105.90px 107.97px,#006fff 107.97px 110.05px,#006dff 110.05px 112.12px,#0076ff 112.12px 114.20px,#006fff 114.20px 116.28px,#0082ff 116.28px 118.35px,#006cff 118.35px 120.43px,#0078ff 120.43px 122.51px,#006cff 122.51px 124.58px,#0085ff 124.58px 126.66px,#0063ff 126.66px 128.74px,#007aff 128.74px 130.81px,#006bff 130.81px 132.89px,#0084ff 132.89px 134.97px,#006eff 134.97px 137.04px,#0082ff 137.04px 139.12px,#0073ff 139.12px 141.19px,#0082ff 141.19px 143.27px,#008aff 143.27px 145.35px,#0097ff 145.35px 147.42px,#008eff 147.42px 149.50px)"></div>
<div class="c" style="left:69.93px;width:6.43px;background:linear-gradient(#009aff 0.00px 2.08px,#0089ff 2.08px 4.15px,#0092ff 4.15px 6.23px,#007cff 6.23px 8.31px,#008dff 8.31px 10.38px,#0089ff 10.38px 12.46px,#0099ff 12.46px 14.53px,#007aff 14.53px 16.61px,#008dff 16.61px 18.69px,#0084ff 18.69px 20.76px,#009aff 20.76px 22.84px,#008aff 22.84px 24.92px,#0096ff 24.92px 26.99px,#0082ff 26.99px 29.07px,#0085ff 29.07px 31.15px,#007eff 31.15px 33.22px,#008aff 33.22px 35.30px,#0072ff 35.30px 37.38px,#008dff 37.38px 39.45px,#006eff 39.45px 41.53px,#0086ff 41.53px 43.60px,#007dff 43.60px 45.68px,#0087ff 45.68px 47.76px,#0074ff 47.76px 49.83px,#0090ff 49.83px 51.91px,#0071ff 51.91px 53.99px,#008bff 53.99px 56.06px,#0080ff 56.06px 58.14px,#008fff 58.14px 60.22px,#0066ff 60.22px 62.29px,#008fff 62.29px 64.37px,#0077ff 64.37px 66.44px,#0089ff 66.44px 68.52px,#0069ff 68.52px 70.60px,#0089ff 70.60px 72.67px,#0078ff 72.67px 74.75px,#0099ff 74.75px 76.83px,#00a9ff 76.83px 78.90px,#00adff 78.90px 80.98px,#008bff 80.98px 83.06px,#0089ff 83.06px 85.13px,#007dff 85.13px 87.21px,#007fff 87.21px 89.28px,#0073ff 89.28px 91.36px,#008bff 91.36px 93.44px,#007aff 93.44px 95.51px,#008fff 95.51px 97.59px,#0076ff 97.59px 99.67px,#008eff 99.67px 101.74px,#0070ff 101.74px 103.82px,#0087ff 103.82px 105.90px,#007cff 105.90px 107.97px,#0087ff 107.97px 110.05px,#0077ff 110.05px 112.12px,#009aff 112.12px 114.20px,#006fff 114.20px 116.28px,#0092ff 116.28px 118.35px,#007aff 118.35px 120.43px,#0090ff 120.43px 122.51px,#0065ff 122.51px 124.58px,#0080ff 124.58px 126.66px,#0076ff 126.66px 128.74px,#0084ff 128.74px 130.81px,#007aff 130.81px 132.89px,#0098ff 132.89px 134.97px,#007eff 134.97px 137.04px,#008dff 137.04px 139.12px,#0077ff 139.12px 141.19px,#0088ff 141.19px 143.27px,#0078ff 143.27px 145.35px,#009fff 145.35px 147.42px,#007fff 147.42px 149.50px)"></div>
<div class="c" style="left:75.76px;width:6.43px;background:linear-gradient(#00acff 0.00px 2.08px,#009eff 2.08px 4.15px,#00b6ff 4.15px 6.23px,#0097ff 6.23px 8.31px,#00b6ff 8.31px 10.38px,#009aff 10.38px 12.46px,#00afff 12.46px 14.53px,#00a6ff 14.53px 16.61px,#00b3ff 16.61px 18.69px,#009bff 18.69px 20.76px,#00a8ff 20.76px 22.84px,#009dff 22.84px 24.92px,#00a9ff 24.92px 26.99px,#00a2ff 26.99px 29.07px,#00a7ff 29.07px 31.15px,#009fff 31.15px 33.22px,#00aaff 33.22px 35.30px,#009eff 35.30px 37.38px,#00a6ff 37.38px 39.45px,#008bff 39.45px 41.53px,#00b1ff 41.53px 43.60px,#0093ff 43.60px 45.68px,#00a9ff 45.68px 47.76px,#00a4ff 47.76px 49.83px,#00a5ff 49.83px 51.91px,#0090ff 51.91px 53.99px,#00acff 53.99px 56.06px,#0096ff 56.06px 58.14px,#009aff 58.14px 60.22px,#0096ff 60.22px 62.29px,#00a7ff 62.29px 64.37px,#008fff 64.37px 66.44px,#00aeff 66.44px 68.52px,#009bff 68.52px 70.60px,#0098ff 70.60px 72.67px,#007fff 72.67px 74.75px,#00aeff 74.75px 76.83px,#00a5ff 76.83px 78.90px,#00b1ff 78.90px 80.98px,#00afff 80.98px 83.06px,#0097ff 83.06px 85.13px,#0083ff 85.13px 87.21px,#0098ff 87.21px 89.28px,#0084ff 89.28px 91.36px,#0099ff 91.36px 93.44px,#0079ff 93.44px 95.51px,#0099ff 95.51px 97.59px,#007aff 97.59px 99.67px,#008eff 99.67px 101.74px,#008bff 101.74px 103.82px,#008cff 103.82px 105.90px,#0080ff 105.90px 107.97px,#0092ff 107.97px 110.05px,#0078ff 110.05px 112.12px,#0090ff 112.12px 114.20px,#0085ff 114.20px 116.28px,#0087ff 116.28px 118.35px,#0082ff 118.35px 120.43px,#0091ff 120.43px 122.51px,#007bff 122.51px 124.58px,#008aff 124.58px 126.66px,#0083ff 126.66px 128.74px,#0098ff 128.74px 130.81px,#0071ff 130.81px 132.89px,#0093ff 132.89px 134.97px,#0087ff 134.97px 137.04px,#0098ff 137.04px 139.12px,#008bff 139.12px 141.19px,#0086ff 141.19px 143.27px,#0081ff 143.27px 145.35px,#0094ff 145.35px 147.42px,#007bff 147.42px 149.50px)"></div>
<div class="c" style="left:81.59px;width:6.43px;background:linear-gradient(#00bbff 0.00px 2.08px,#00a7ff 2.08px 4.15px,#00bbff 4.15px 6.23px,#00a2ff 6.23px 8.31px,#00bcff 8.31px 10.38px,#00b2ff 10.38px 12.46px,#00c6ff 12.46px 14.53px,#00a6ff 14.53px 16.61px,#00d2ff 16.61px 18.69px,#00afff 18.69px 20.76px,#00bfff 20.76px 22.84px,#00aaff 22.84px 24.92px,#00bfff 24.92px 26.99px,#00aaff 26.99px 29.07px,#00b7ff 29.07px 31.15px,#00a3ff 31.15px 33.22px,#00b5ff 33.22px 35.30px,#00abff 35.30px 37.38px,#00bdff 37.38px 39.45px,#00abff 39.45px 41.53px,#00b7ff 41.53px 43.60px,#00a8ff 43.60px 45.68px,#00caff 45.68px 47.76px,#00b6ff 47.76px 49.83px,#00c0ff 49.83px 51.91px,#00a9ff 51.91px 53.99px,#00c4ff 53.99px 56.06px,#00a7ff 56.06px 58.14px,#00b6ff 58.14px 60.22px,#009dff 60.22px 62.29px,#00b9ff 62.29px 64.37px,#00a3ff 64.37px 66.44px,#00b2ff 66.44px 68.52px,#00a1ff 68.52px 70.60px,#00a2ff 70.60px 72.67px,#00a1ff 72.67px 74.75px,#00baff 74.75px 76.83px,#00b5ff 76.83px 78.90px,#00bfff 78.90px 80.98px,#00a3ff 80.98px 83.06px,#00b2ff 83.06px 85.13px,#0098ff 85.13px 87.21px,#00b1ff 87.21px 89.28px,#0098ff 89.28px 91.36px,#008fff 91.36px 93.44px,#008cff 93.44px 95.51px,#00a3ff 95.51px 97.59px,#0089ff 97.59px 99.67px,#0096ff 99.67px 101.74px,#0083ff 101.74px 103.82px,#009bff 103.82px 105.90px,#0091ff 105.90px 107.97px,#00a5ff 107.97px 110.05px,#0080ff 110.05px 112.12px,#00a4ff 112.12px 114.20px,#007cff 114.20px 116.28px,#009eff 116.28px 118.35px,#0090ff 118.35px 120.43px,#00a8ff 120.43px 122.51px,#0091ff 122.51px 124.58px,#009eff 124.58px 126.66px,#008cff 126.66px 128.74px,#0099ff 128.74px 130.81px,#007cff 130.81px 132.89px,#0092ff 132.89px 134.97px,#0085ff 134.97px 137.04px,#009aff 137.04px 139.12px,#008bff 139.12px 141.19px,#009bff 141.19px 143.27px,#0082ff 143.27px 145.35px,#00a7ff 145.35px 147.42px,#0090ff 147.42px 149.50px)"></div>
<div class="c" style="left:87.41px;width:6.43px;background:linear-gradient(#00b9ff 0.00px 2.08px,#00a2ff 2.08px 4.15px,#00b0ff 4.15px 6.23px,#00adff 6.23px 8.31px,#00b9ff 8.31px 10.38px,#00b0ff 10.38px 12.46px,#00baff 12.46px 14.53px,#00b9ff 14.53px 16.61px,#00afff 16.61px 18.69px,#00a0ff 18.69px 20.76px,#00b1ff 20.76px 22.84px,#009fff 22.84px 24.92px,#00c4ff 24.92px 26.99px,#00a3ff 26.99px 29.07px,#00adff 29.07px 31.15px,#00a3ff 31.15px 33.22px,#00b2ff 33.22px 35.30px,#00a9ff 35.30px 37.38px,#00c9ff 37.38px 39.45px,#009eff 39.45px 41.53px,#00b1ff 41.53px 43.60px,#00a4ff 43.60px 45.68px,#00b6ff 45.68px 47.76px,#0098ff 47.76px 49.83px,#00b3ff 49.83px 51.91px,#00a8ff 51.91px 53.99px,#00afff 53.99px 56.06px,#0096ff 56.06px 58.14px,#00b6ff 58.14px 60.22px,#009bff 60.22px 62.29px,#00b8ff 62.29px 64.37px,#00a6ff 64.37px 66.44px,#00b6ff 66.44px 68.52px,#009aff 68.52px 70.60px,#00c1ff 70.60px 72.67px,#0093ff 72.67px 74.75px,#00adff 74.75px 76.83px,#00a4ff 76.83px 78.90px,#00b2ff 78.90px 80.98px,#00a5ff 80.98px 83.06px,#00baff 83.06px 85.13px,#00a6ff 85.13px 87.21px,#00bfff 87.21px 89.28px,#00a7ff 89.28px 91.36px,#00b6ff 91.36px 93.44px,#00b3ff 93.44px 95.51px,#00bdff 95.51px 97.59px,#00a9ff 97.59px 99.67px,#00bbff 99.67px 101.74px,#0097ff 101.74px 103.82px,#00c3ff 103.82px 105.90px,#00b1ff 105.90px 107.97px,#00b7ff 107.97px 110.05px,#00adff 110.05px 112.12px,#00b8ff 112.12px 114.20px,#00a1ff 114.20px 116.28px,#00c1ff 116.28px 118.35px,#00a9ff 118.35px 120.43px,#00c0ff 120.43px 122.51px,#009fff 122.51px 124.58px,#00bdff 124.58px 126.66px,#00c9ff 126.66px 128.74px,#00beff 128.74px 130.81px,#0099ff 130.81px 132.89px,#00c7ff 132.89px 134.97px,#0099ff 134.97px 137.04px,#00b6ff 137.04px 139.12px,#00adff 139.12px 141.19px,#00baff 141.19px 143.27px,#00b1ff 143.27px 145.35px,#00aeff 145.35px 147.42px,#00b3ff 147.42px 149.50px)"></div>
<div class="c" style="left:93.24px;width:6.43px;background:linear-gradient(#03fffc 0.00px 2.08px,#00e6ff 2.08px 4.15px,#05fffa 4.15px 6.23px,#00e7ff 6.23px 8.31px,#00fbff 8.31px 10.38px,#00edff 10.38px 12.46px,#03fffc 12.46px 14.53px,#00f0ff 14.53px 16.61px,#00ffff 16.61px 18.69px,#00f0ff 18.69px 20.76px,#04fffb 20.76px 22.84px,#00ecff 22.84px 24.92px,#09fff6 24.92px 26.99px,#00ebff 26.99px 29.07px,#0bfff4 29.07px 31.15px,#00efff 31.15px 33.22px,#01fffe 33.22px 35.30px,#00f5ff 35.30px 37.38px,#01fffe 37.38px 39.45px,#00f0ff 39.45px 41.53px,#08fff7 41.53px 43.60px,#00f2ff 43.60px 45.68px,#05fffa 45.68px 47.76px,#00eeff 47.76px 49.83px,#03fffc 49.83px 51.91px,#00e8ff 51.91px 53.99px,#00f5ff 53.99px 56.06px,#00e1ff 56.06px 58.14px,#00ffff 58.14px 60.22px,#00feff 60.22px 62.29px,#05fffa 62.29px 64.37px,#00e8ff 64.37px 66.44px,#00f4ff 66.44px 68.52px,#00e7ff 68.52px 70.60px,#00efff 70.60px 72.67px,#00eeff 72.67px 74.75px,#00f8ff 74.75px 76.83px,#00f3ff 76.83px 78.90px,#00fdff 78.90px 80.98px,#00ebff 80.98px 83.06px,#07fff8 83.06px 85.13px,#00e9ff 85.13px 87.21px,#00edff 87.21px 89.28px,#00deff 89.28px 91.36px,#00eeff 91.36px 93.44px,#00d6ff 93.44px 95.51px,#00f1ff 95.51px 97.59px,#00d8ff 97.59px 99.67px,#00ebff 99.67px 101.74px,#00d4ff 101.74px 103.82px,#00e4ff 103.82px 105.90px,#00e3ff 105.90px 107.97px,#00f5ff 107.97px 110.05px,#00d1ff 110.05px 112.12px,#00f8ff 112.12px 114.20px,#00e5ff 114.20px 116.28px,#00f0ff 116.28px 118.35px,#00deff 118.35px 120.43px,#00f5ff 120.43px 122.51px,#00d3ff 122.51px 124.58px,#00feff 124.58px 126.66px,#00d6ff 126.66px 128.74px,#00ebff 128.74px 130.81px,#00e6ff 130.81px 132.89px,#00ecff 132.89px 134.97px,#00d0ff 134.97px 137.04px,#00e9ff 137.04px 139.12px,#00e2ff 139.12px 141.19px,#00edff 141.19px 143.27px,#00ddff 143.27px 145.35px,#00f5ff 145.35px 147.42px,#00d7ff 147.42px 149.50px)"></div>
<div class="c" style="left:99.07px;width:6.43px;background:linear-gradient(#00d3ff 0.00px 2.08px,#00bdff 2.08px 4.15px,#00c6ff 4.15px 6.23px,#00c1ff 6.23px 8.31px,#00daff 8.31px 10.38px,#00bbff 10.38px 12.46px,#00d3ff 12.46px 14.53px,#00bfff 14.53px 16.61px,#00e5ff 16.61px 18.69px,#00baff 18.69px 20.76px,#00dbff 20.76px 22.84px,#00d3ff 22.84px 24.92px,#00dcff 24.92px 29.07px,#00e5ff 29.07px 31.15px,#00ccff 31.15px 33.22px,#00efff 33.22px 35.30px,#00d4ff 35.30px 37.38px,#00ebff 37.38px 39.45px,#00d3ff 39.45px 41.53px,#00e4ff 41.53px 43.60px,#00d1ff 43.60px 45.68px,#00efff 45.68px 47.76px,#00dfff 47.76px 49.83px,#00ffff 49.83px 51.91px,#00d2ff 51.91px 53.99px,#00f0ff 53.99px 56.06px,#00e6ff 56.06px 58.14px,#00ecff 58.14px 60.22px,#00d6ff 60.22px 62.29px,#00eaff 62.29px 64.37px,#00daff 64.37px 66.44px,#00d0ff 66.44px 68.52px,#00ceff 68.52px 70.60px,#00e2ff 70.60px 72.67px,#00beff 72.67px 74.75px,#00e0ff 74.75px 76.83px,#00bcff 76.83px 78.90px,#00cfff 78.90px 80.98px,#00acff 80.98px 83.06px,#00c4ff 83.06px 85.13px,#00b4ff 85.13px 87.21px,#00cdff 87.21px 89.28px,#00a0ff 89.28px 91.36px,#00c0ff 91.36px 93.44px,#00a6ff 93.44px 95.51px,#00b5ff 95.51px 97.59px,#00a9ff 97.59px 99.67px,#00c4ff 99.67px 101.74px,#00b9ff 101.74px 103.82px,#00c6ff 103.82px 105.90px,#00b5ff 105.90px 107.97px,#00bbff 107.97px 110.05px,#00bfff 110.05px 112.12px,#00cfff 112.12px 114.20px,#00b4ff 114.20px 116.28px,#00d5ff 116.28px 118.35px,#00baff 118.35px 120.43px,#00caff 120.43px 122.51px,#00c1ff 122.51px 124.58px,#00caff 124.58px 126.66px,#00b3ff 126.66px 128.74px,#00d3ff 128.74px 130.81px,#00b9ff 130.81px 132.89px,#00d6ff 132.89px 134.97px,#00bcff 134.97px 137.04px,#00d9ff 137.04px 139.12px,#00b5ff 139.12px 141.19px,#00d3ff 141.19px 143.27px,#00bdff 143.27px 145.35px,#00c4ff 145.35px 147.42px,#00bcff 147.42px 149.50px)"></div>
<div class="c" style="left:104.90px;width:6.43px;background:linear-gradient(#46ffb9 0.00px 2.08px,#32ffcd 2.08px 4.15px,#4bffb4 4.15px 6.23px,#39ffc6 6.23px 8.31px,#45ffba 8.31px 10.38px,#3cffc3 10.38px 12.46px,#44ffbb 12.46px 16.61px,#53ffac 16.61px 18.69px,#30ffcf 18.69px 20.76px,#47ffb8 20.76px 22.84px,#37ffc8 22.84px 24.92px,#4cffb3 24.92px 26.99px,#3effc1 26.99px 29.07px,#53ffac 29.07px 31.15px,#4bffb4 31.15px 33.22px,#58ffa7 33.22px 35.30px,#41ffbe 35.30px 37.38px,#5cffa3 37.38px 39.45px,#44ffbb 39.45px 41.53px,#50ffaf 41.53px 43.60px,#45ffba 43.60px 45.68px,#62ff9d 45.68px 47.76px,#54ffab 47.76px 49.83px,#56ffa9 49.83px 51.91px,#4bffb4 51.91px 53.99px,#66ff99 53.99px 56.06px,#53ffac 56.06px 58.14px,#5affa5 58.14px 60.22px,#34ffcb 60.22px 62.29px,#4effb1 62.29px 64.37px,#25ffda 64.37px 66.44px,#49ffb6 66.44px 68.52px,#4fffb0 68.52px 70.60px,#9aff65 70.60px 72.67px,#b0ff4f 72.67px 74.75px,#ebff14 74.75px 76.83px,#d2ff2d 76.83px 78.90px,#6dff92 78.90px 80.98px,#08fff7 80.98px 83.06px,#07fff8 83.06px 85.13px,#00e9ff 85.13px 87.21px,#00eeff 87.21px 89.28px,#00d2ff 89.28px 91.36px,#00e1ff 91.36px 93.44px,#00ceff 93.44px 95.51px,#00ddff 95.51px 97.59px,#00c1ff 97.59px 99.67px,#00e1ff 99.67px 101.74px,#00bcff 101.74px 103.82px,#00d4ff 103.82px 105.90px,#00bfff 105.90px 107.97px,#00deff 107.97px 110.05px,#00ceff 110.05px 112.12px,#00d8ff 112.12px 114.20px,#00bbff 114.20px 116.28px,#00d0ff 116.28px 118.35px,#00bcff 118.35px 120.43px,#00ceff 120.43px 122.51px,#00b6ff 122.51px 124.58px,#00ceff 124.58px 126.66px,#00cbff 126.66px 128.74px,#00d7ff 128.74px 130.81px,#00bdff 130.81px 132.89px,#00ccff 132.89px 134.97px,#00b6ff 134.97px 137.04px,#00c1ff 137.04px 139.12px,#00b8ff 139.12px 141.19px,#00c2ff 141.19px 143.27px,#00bdff 143.27px 145.35px,#00d1ff 145.35px 147.42px,#00b8ff 147.42px 149.50px)"></div>
<div class="c" style="left:110.72px;width:6.43px;background:linear-gradient(#00deff 0.00px 2.08px,#00c5ff 2.08px 4.15px,#00d4ff 4.15px 6.23px,#00c3ff 6.23px 8.31px,#00d3ff 8.31px 10.38px,#00d1ff 10.38px 12.46px,#00deff 12.46px 14.53px,#00c0ff 14.53px 16.61px,#00e3ff 16.61px 18.69px,#00c5ff 18.69px 20.76px,#00dfff 20.76px 22.84px,#00caff 22.84px 24.92px,#00daff 24.92px 26.99px,#00d4ff 26.99px 29.07px,#00efff 29.07px 31.15px,#00c6ff 31.15px 33.22px,#00efff 33.22px 35.30px,#00d5ff 35.30px 37.38px,#00dcff 37.38px 39.45px,#00d0ff 39.45px 41.53px,#00e6ff 41.53px 43.60px,#00d5ff 43.60px 45.68px,#00e6ff 45.68px 47.76px,#00d3ff 47.76px 49.83px,#00f7ff 49.83px 51.91px,#00d0ff 51.91px 53.99px,#00e6ff 53.99px 56.06px,#00dcff 56.06px 58.14px,#00ebff 58.14px 60.22px,#00d1ff 60.22px 62.29px,#00ecff 62.29px 64.37px,#00d0ff 64.37px 66.44px,#00eaff 66.44px 68.52px,#00d5ff 68.52px 70.60px,#00e7ff 70.60px 72.67px,#00cfff 72.67px 74.75px,#00eaff 74.75px 76.83px,#00ccff 76.83px 78.90px,#00ddff 78.90px 80.98px,#00c7ff 80.98px 83.06px,#00dfff 83.06px 85.13px,#00d6ff 85.13px 87.21px,#00d9ff 87.21px 89.28px,#00bfff 89.28px 91.36px,#00ddff 91.36px 93.44px,#00c5ff 93.44px 95.51px,#00e2ff 95.51px 97.59px,#00bcff 97.59px 99.67px,#00e4ff 99.67px 101.74px,#00c5ff 101.74px 103.82px,#00ecff 103.82px 105.90px,#00c3ff 105.90px 107.97px,#00e0ff 107.97px 110.05px,#00e1ff 110.05px 112.12px,#00ecff 112.12px 114.20px,#00d9ff 114.20px 116.28px,#00eeff 116.28px 118.35px,#00d4ff 118.35px 120.43px,#00efff 120.43px 122.51px,#00cfff 122.51px 124.58px,#00e8ff 124.58px 126.66px,#00d9ff 126.66px 128.74px,#00edff 128.74px 130.81px,#00dcff 130.81px 132.89px,#00daff 132.89px 134.97px,#00deff 134.97px 137.04px,#00ebff 137.04px 139.12px,#00d7ff 139.12px 141.19px,#00f7ff 141.19px 143.27px,#00d7ff 143.27px 145.35px,#00e4ff 145.35px 147.42px,#00dcff 147.42px 149.50px)"></div>
<div class="c" style="left:116.55px;width:6.43px;background:linear-gradient(#09fff6 0.00px 2.08px,#00fcff 2.08px 4.15px,#0dfff2 4.15px 6.23px,#00fbff 6.23px 8.31px,#18ffe7 8.31px 10.38px,#00efff 10.38px 12.46px,#13ffec 12.46px 14.53px,#00ecff 14.53px 16.61px,#10ffef 16.61px 18.69px,#00f2ff 18.69px 20.76px,#17ffe8 20.76px 22.84px,#00fbff 22.84px 24.92px,#04fffb 24.92px 26.99px,#00faff 26.99px 29.07px,#0efff1 29.07px 31.15px,#0bfff4 31.15px 33.22px,#06fff9 33.22px 35.30px,#11ffee 35.30px 37.38px,#09fff6 37.38px 39.45px,#00f8ff 39.45px 41.53px,#09fff6 41.53px 43.60px,#00faff 43.60px 45.68px,#15ffea 45.68px 47.76px,#00feff 47.76px 49.83px,#0cfff3 49.83px 51.91px,#00f5ff 51.91px 53.99px,#0cfff3 53.99px 56.06px,#00ffff 56.06px 58.14px,#22ffdd 58.14px 60.22px,#07fff8 60.22px 62.29px,#14ffeb 62.29px 64.37px,#00feff 64.37px 66.44px,#21ffde 66.44px 68.52px,#01fffe 68.52px 70.60px,#25ffda 70.60px 72.67px,#10ffef 72.67px 74.75px,#2cffd3 74.75px 76.83px,#10ffef 76.83px 78.90px,#23ffdc 78.90px 80.98px,#18ffe7 80.98px 83.06px,#35ffca 83.06px 85.13px,#27ffd8 85.13px 87.21px,#2effd1 87.21px 89.28px,#22ffdd 89.28px 91.36px,#2dffd2 91.36px 93.44px,#25ffda 93.44px 95.51px,#39ffc6 95.51px 97.59px,#1bffe4 97.59px 99.67px,#29ffd6 99.67px 101.74px,#1dffe2 101.74px 103.82px,#34ffcb 103.82px 105.90px,#0efff1 105.90px 107.97px,#32ffcd 107.97px 110.05px,#1effe1 110.05px 112.12px,#42ffbd 112.12px 114.20px,#25ffda 114.20px 116.28px,#4cffb3 116.28px 118.35px,#1effe1 118.35px 120.43px,#3cffc3 120.43px 122.51px,#2dffd2 122.51px 124.58px,#34ffcb 124.58px 126.66px,#23ffdc 126.66px 128.74px,#38ffc7 128.74px 130.81px,#32ffcd 130.81px 132.89px,#3affc5 132.89px 134.97px,#25ffda 134.97px 137.04px,#2fffd0 137.04px 139.12px,#2effd1 139.12px 141.19px,#30ffcf 141.19px 143.27px,#29ffd6 143.27px 145.35px,#36ffc9 145.35px 147.42px,#1effe1 147.42px 149.50px)"></div>
<div class="c" style="left:122.38px;width:6.43px;background:linear-gradient(#09fff6 0.00px 2.08px,#00fbff 2.08px 4.15px,#00faff 4.15px 6.23px,#00ecff 6.23px 8.31px,#09fff6 8.31px 10.38px,#00fdff 10.38px 12.46px,#06fff9 12.46px 14.53px,#00fcff 14.53px 16.61px,#05fffa 16.61px 18.69px,#00f7ff 18.69px 20.76px,#07fff8 20.76px 22.84px,#00f2ff 22.84px 24.92px,#07fff8 24.92px 26.99px,#00efff 26.99px 29.07px,#0cfff3 29.07px 31.15px,#00ffff 31.15px 33.22px,#0cfff3 33.22px 35.30px,#00f8ff 35.30px 37.38px,#01fffe 37.38px 39.45px,#00edff 39.45px 41.53px,#04fffb 41.53px 43.60px,#00fbff 43.60px 45.68px,#07fff8 45.68px 47.76px,#00f1ff 47.76px 49.83px,#09fff6 49.83px 51.91px,#00fbff 51.91px 53.99px,#0efff1 53.99px 56.06px,#00ffff 56.06px 58.14px,#0efff1 58.14px 60.22px,#00e8ff 60.22px 62.29px,#06fff9 62.29px 64.37px,#00f0ff 64.37px 66.44px,#07fff8 66.44px 68.52px,#00f7ff 68.52px 70.60px,#02fffd 70.60px 72.67px,#00f8ff 72.67px 74.75px,#00feff 74.75px 76.83px,#01fffe 76.83px 78.90px,#00fdff 78.90px 80.98px,#00f8ff 80.98px 83.06px,#00ffff 83.06px 85.13px,#00eaff 85.13px 87.21px,#0dfff2 87.21px 89.28px,#00ddff 89.28px 91.36px,#00e7ff 91.36px 93.44px,#00e0ff 93.44px 95.51px,#00f3ff 95.51px 97.59px,#00deff 97.59px 99.67px,#00f9ff 99.67px 101.74px,#00e6ff 101.74px 103.82px,#00e8ff 103.82px 105.90px,#00e5ff 105.90px 107.97px,#00ffff 107.97px 110.05px,#00e9ff 110.05px 112.12px,#00f0ff 112.12px 114.20px,#00e9ff 114.20px 116.28px,#00f7ff 116.28px 118.35px,#00ecff 118.35px 120.43px,#00ffff 120.43px 122.51px,#01fffe 122.51px 124.58px,#00f1ff 124.58px 126.66px,#00e5ff 126.66px 128.74px,#00ffff 128.74px 130.81px,#00f0ff 130.81px 132.89px,#00ffff 132.89px 134.97px,#00f5ff 134.97px 137.04px,#03fffc 137.04px 139.12px,#00f7ff 139.12px 141.19px,#19ffe6 141.19px 143.27px,#00f7ff 143.27px 145.35px,#0bfff4 145.35px 147.42px,#00f3ff 147.42px 149.50px)"></div>
<div class="c" style="left:128.21px;width:6.43px;background:linear-gradient(#4effb1 0.00px 2.08px,#38ffc7 2.08px 4.15px,#43ffbc 4.15px 6.23px,#30ffcf 6.23px 8.31px,#47ffb8 8.31px 10.38px,#3bffc4 10.38px 12.46px,#52ffad 12.46px 14.53px,#2cffd3 14.53px 16.61px,#5bffa4 16.61px 18.69px,#3effc1 18.69px 20.76px,#4effb1 20.76px 22.84px,#29ffd6 22.84px 24.92px,#3cffc3 24.92px 26.99px,#48ffb7 26.99px 29.07px,#47ffb8 29.07px 31.15px,#3dffc2 31.15px 33.22px,#52ffad 33.22px 35.30px,#42ffbd 35.30px 37.38px,#48ffb7 37.38px 39.45px,#39ffc6 39.45px 41.53px,#3fffc0 41.53px 43.60px,#47ffb8 43.60px 45.68px,#42ffbd 45.68px 47.76px,#34ffcb 47.76px 49.83px,#54ffab 49.83px 51.91px,#3cffc3 51.91px 53.99px,#50ffaf 53.99px 56.06px,#30ffcf 56.06px 58.14px,#47ffb8 58.14px 60.22px,#27ffd8 60.22px 62.29px,#43ffbc 62.29px 64.37px,#44ffbb 64.37px 66.44px,#42ffbd 66.44px 68.52px,#23ffdc 68.52px 70.60px,#37ffc8 70.60px 72.67px,#26ffd9 72.67px 74.75px,#48ffb7 74.75px 76.83px,#22ffdd 76.83px 78.90px,#3bffc4 78.90px 80.98px,#17ffe8 80.98px 83.06px,#30ffcf 83.06px 85.13px,#11ffee 85.13px 87.21px,#2fffd0 87.21px 89.28px,#07fff8 89.28px 91.36px,#22ffdd 91.36px 93.44px,#0afff5 93.44px 95.51px,#1fffe0 95.51px 97.59px,#19ffe6 97.59px 99.67px,#25ffda 99.67px 101.74px,#17ffe8 101.74px 103.82px,#29ffd6 103.82px 105.90px,#22ffdd 105.90px 107.97px,#2cffd3 107.97px 110.05px,#17ffe8 110.05px 112.12px,#24ffdb 112.12px 114.20px,#16ffe9 114.20px 116.28px,#29ffd6 116.28px 118.35px,#1dffe2 118.35px 120.43px,#25ffda 120.43px 122.51px,#11ffee 122.51px 124.58px,#2cffd3 124.58px 126.66px,#13ffec 126.66px 128.74px,#2effd1 128.74px 130.81px,#26ffd9 130.81px 132.89px,#2fffd0 132.89px 134.97px,#1effe1 134.97px 137.04px,#31ffce 137.04px 139.12px,#13ffec 139.12px 141.19px,#33ffcc 141.19px 143.27px,#18ffe7 143.27px 145.35px,#29ffd6 145.35px 147.42px,#1fffe0 147.42px 149.50px)"></div>
<div class="c" style="left:134.03px;width:6.43px;background:linear-gradient(#ffe000 0.00px 2.08px,#b4ff4b 2.08px 4.15px,#62ff9d 4.15px 6.23px,#2cffd3 6.23px 8.31px,#49ffb6 8.31px 10.38px,#3affc5 10.38px 12.46px,#41ffbe 12.46px 14.53px,#43ffbc 14.53px 16.61px,#53ffac 16.61px 18.69px,#2affd5 18.69px 20.76px,#4effb1 20.76px 22.84px,#38ffc7 22.84px 24.92px,#43ffbc 24.92px 26.99px,#3fffc0 26.99px 29.07px,#47ffb8 29.07px 31.15px,#36ffc9 31.15px 33.22px,#50ffaf 33.22px 35.30px,#42ffbd 35.30px 37.38px,#58ffa7 37.38px 39.45px,#4dffb2 39.45px 41.53px,#54ffab 41.53px 43.60px,#3fffc0 43.60px 45.68px,#51ffae 45.68px 47.76px,#49ffb6 47.76px 53.99px,#5affa5 53.99px 56.06px,#45ffba 56.06px 58.14px,#58ffa7 58.14px 60.22px,#4affb5 60.22px 62.29px,#6aff95 62.29px 64.37px,#47ffb8 64.37px 66.44px,#6fff90 66.44px 68.52px,#98ff67 68.52px 70.60px,#ffd900 70.60px 72.67px,#ffb700 72.67px 74.75px,#ffbc00 74.75px 76.83px,#ffe600 76.83px 78.90px,#d6ff29 78.90px 80.98px,#78ff87 80.98px 83.06px,#6aff95 83.06px 85.13px,#53ffac 85.13px 87.21px,#65ff9a 87.21px 89.28px,#59ffa6 89.28px 91.36px,#6cff93 91.36px 93.44px,#56ffa9 93.44px 95.51px,#6dff92 95.51px 97.59px,#53ffac 97.59px 99.67px,#74ff8b 99.67px 101.74px,#59ffa6 101.74px 103.82px,#6bff94 103.82px 105.90px,#5affa5 105.90px 107.97px,#67ff98 107.97px 110.05px,#5affa5 110.05px 112.12px,#62ff9d 112.12px 114.20px,#5dffa2 114.20px 116.28px,#68ff97 116.28px 118.35px,#49ffb6 118.35px 120.43px,#6bff94 120.43px 122.51px,#53ffac 122.51px 124.58px,#69ff96 124.58px 126.66px,#50ffaf 126.66px 128.74px,#72ff8d 128.74px 130.81px,#62ff9d 130.81px 134.97px,#5cffa3 134.97px 137.04px,#6cff93 137.04px 139.12px,#62ff9d 139.12px 141.19px,#76ff89 141.19px 143.27px,#97ff68 143.27px 145.35px,#ffe500 145.35px 147.42px,#ffab00 147.42px 149.50px)"></div>
<div class="c" style="left:139.86px;width:6.43px;background:linear-gradient(#17ffe8 0.00px 2.08px,#00ffff 2.08px 4.15px,#20ffdf 4.15px 6.23px,#01fffe 6.23px 8.31px,#0ffff0 8.31px 10.38px,#0afff5 10.38px 12.46px,#2affd5 12.46px 14.53px,#03fffc 14.53px 16.61px,#0dfff2 16.61px 18.69px,#14ffeb 18.69px 20.76px,#1fffe0 20.76px 22.84px,#0afff5 22.84px 24.92px,#1cffe3 24.92px 26.99px,#0ffff0 26.99px 29.07px,#17ffe8 29.07px 31.15px,#0afff5 31.15px 33.22px,#16ffe9 33.22px 35.30px,#08fff7 35.30px 37.38px,#20ffdf 37.38px 39.45px,#10ffef 39.45px 41.53px,#2fffd0 41.53px 43.60px,#15ffea 43.60px 45.68px,#27ffd8 45.68px 47.76px,#0bfff4 47.76px 49.83px,#1bffe4 49.83px 51.91px,#14ffeb 51.91px 53.99px,#27ffd8 53.99px 56.06px,#17ffe8 56.06px 58.14px,#35ffca 58.14px 60.22px,#26ffd9 60.22px 62.29px,#40ffbf 62.29px 64.37px,#38ffc7 64.37px 66.44px,#57ffa8 66.44px 68.52px,#50ffaf 68.52px 70.60px,#6aff95 70.60px 72.67px,#56ffa9 72.67px 74.75px,#71ff8e 74.75px 76.83px,#6dff92 76.83px 78.90px,#86ff79 78.90px 80.98px,#7dff82 80.98px 83.06px,#91ff6e 83.06px 85.13px,#82ff7d 85.13px 87.21px,#a0ff5f 87.21px 89.28px,#9aff65 89.28px 91.36px,#b7ff48 91.36px 93.44px,#a9ff56 93.44px 95.51px,#b9ff46 95.51px 97.59px,#adff52 97.59px 99.67px,#bdff42 99.67px 101.74px,#b4ff4b 101.74px 103.82px,#c4ff3b 103.82px 105.90px,#aeff51 105.90px 107.97px,#c0ff3f 107.97px 110.05px,#a8ff57 110.05px 112.12px,#ccff33 112.12px 114.20px,#bdff42 114.20px 116.28px,#c0ff3f 116.28px 118.35px,#c5ff3a 118.35px 120.43px,#d4ff2b 120.43px 122.51px,#beff41 122.51px 124.58px,#ccff33 124.58px 126.66px,#c4ff3b 126.66px 128.74px,#cfff30 128.74px 130.81px,#d3ff2c 130.81px 132.89px,#d4ff2b 132.89px 134.97px,#bdff42 134.97px 137.04px,#c3ff3c 137.04px 139.12px,#bcff43 139.12px 141.19px,#c9ff36 141.19px 143.27px,#d1ff2e 143.27px 145.35px,#fffa00 145.35px 147.42px,#fdff02 147.42px 149.50px)"></div>
<div class="c" style="left:145.69px;width:6.43px;background:linear-gradient(#ffab00 0.00px 2.08px,#a8ff57 2.08px 4.15px,#ff8c00 4.15px 6.23px,#94ff6b 6.23px 8.31px,#ffbc00 8.31px 10.38px,#b0ff4f 10.38px 12.46px,#ffb700 12.46px 14.53px,#9dff62 14.53px 16.61px,#ffb900 16.61px 18.69px,#8dff72 18.69px 20.76px,#ffac00 20.76px 22.84px,#a9ff56 22.84px 24.92px,#ffa300 24.92px 26.99px,#8dff72 26.99px 29.07px,#ff9b00 29.07px 31.15px,#98ff67 31.15px 33.22px,#ffaf00 33.22px 35.30px,#9cff63 35.30px 37.38px,#ffd100 37.38px 39.45px,#8aff75 39.45px 41.53px,#ffa500 41.53px 43.60px,#85ff7a 43.60px 45.68px,#ffbb00 45.68px 47.76px,#98ff67 47.76px 49.83px,#ffb500 49.83px 51.91px,#a4ff5b 51.91px 53.99px,#ff9c00 53.99px 56.06px,#8cff73 56.06px 58.14px,#ffb500 58.14px 60.22px,#9bff64 60.22px 62.29px,#ffc500 62.29px 64.37px,#84ff7b 64.37px 66.44px,#ffac00 66.44px 68.52px,#bdff42 68.52px 70.60px,#ff7c00 70.60px 72.67px,#fbff04 72.67px 74.75px,#ff6200 74.75px 76.83px,#dfff20 76.83px 78.90px,#ff7f00 78.90px 80.98px,#9dff62 80.98px 83.06px,#ffce00 83.06px 85.13px,#8eff71 85.13px 87.21px,#ffb200 87.21px 89.28px,#63ff9c 89.28px 91.36px,#ffde00 91.36px 93.44px,#64ff9b 93.44px 95.51px,#ffd700 95.51px 97.59px,#7cff83 97.59px 99.67px,#ffe800 99.67px 101.74px,#92ff6d 101.74px 103.82px,#ffcb00 103.82px 105.90px,#7cff83 105.90px 107.97px,#ffd300 107.97px 110.05px,#7eff81 110.05px 112.12px,#ffe800 112.12px 114.20px,#70ff8f 114.20px 116.28px,#ffbe00 116.28px 118.35px,#58ffa7 118.35px 120.43px,#ffe000 120.43px 122.51px,#7eff81 122.51px 124.58px,#ffb500 124.58px 126.66px,#62ff9d 126.66px 128.74px,#ffca00 128.74px 130.81px,#69ff96 130.81px 132.89px,#ffc900 132.89px 134.97px,#82ff7d 134.97px 137.04px,#ffec00 137.04px 139.12px,#8aff75 139.12px 141.19px,#ffe600 141.19px 143.27px,#87ff78 143.27px 145.35px,#ffbd00 145.35px 147.42px,#93ff6c 147.42px 149.50px)"></div>
<div class="c" style="left:151.52px;width:6.43px;background:linear-gradient(#ffb100 0.00px 2.08px,#ffaa00 2.08px 4.15px,#ffa400 4.15px 6.23px,#ffb100 6.23px 8.31px,#ffa200 8.31px 10.38px,#ffb200 10.38px 12.46px,#ffab00 12.46px 14.53px,#ffba00 14.53px 16.61px,#ffae00 16.61px 18.69px,#ffc500 18.69px 20.76px,#ffac00 20.76px 22.84px,#ffcb00 22.84px 24.92px,#ffa900 24.92px 26.99px,#ffc900 26.99px 29.07px,#ffb200 29.07px 31.15px,#ffcf00 31.15px 33.22px,#ffb400 33.22px 35.30px,#ffc300 35.30px 37.38px,#ffaf00 37.38px 39.45px,#ffd700 39.45px 41.53px,#ffbb00 41.53px 43.60px,#ffde00 43.60px 45.68px,#ffc400 45.68px 47.76px,#ffdb00 47.76px 49.83px,#ffce00 49.83px 51.91px,#ffe800 51.91px 53.99px,#ffcd00 53.99px 56.06px,#ffe000 56.06px 58.14px,#ffdb00 58.14px 60.22px,#ffff00 60.22px 62.29px,#fffa00 62.29px 64.37px,#dbff24 64.37px 66.44px,#edff12 66.44px 68.52px,#e5ff1a 68.52px 70.60px,#ffda00 70.60px 72.67px,#ffce00 72.67px 74.75px,#ffb400 74.75px 76.83px,#ffb600 76.83px 78.90px,#fdff02 78.90px 80.98px,#93ff6c 80.98px 83.06px,#7fff80 83.06px 85.13px,#62ff9d 85.13px 87.21px,#61ff9e 87.21px 89.28px,#43ffbc 89.28px 91.36px,#48ffb7 91.36px 93.44px,#3cffc3 93.44px 95.51px,#4affb5 95.51px 97.59px,#2cffd3 97.59px 99.67px,#4dffb2 99.67px 101.74px,#34ffcb 101.74px 103.82px,#44ffbb 103.82px 105.90px,#3dffc2 105.90px 107.97px,#56ffa9 107.97px 110.05px,#34ffcb 110.05px 112.12px,#46ffb9 112.12px 114.20px,#3affc5 114.20px 116.28px,#50ffaf 116.28px 118.35px,#38ffc7 118.35px 120.43px,#4effb1 120.43px 122.51px,#32ffcd 122.51px 124.58px,#50ffaf 124.58px 126.66px,#3bffc4 126.66px 128.74px,#45ffba 128.74px 130.81px,#36ffc9 130.81px 132.89px,#54ffab 132.89px 134.97px,#30ffcf 134.97px 137.04px,#40ffbf 137.04px 139.12px,#3affc5 139.12px 141.19px,#4cffb3 141.19px 143.27px,#46ffb9 143.27px 145.35px,#48ffb7 145.35px 147.42px,#3effc1 147.42px 149.50px)"></div>
<div class="c" style="left:157.34px;width:6.43px;background:linear-gradient(#ffbb00 0.00px 2.08px,#f0ff0f 2.08px 4.15px,#bfff40 4.15px 6.23px,#aaff55 6.23px 8.31px,#c3ff3c 8.31px 10.38px,#abff54 10.38px 12.46px,#b0ff4f 12.46px 14.53px,#9aff65 14.53px 16.61px,#b6ff49 16.61px 18.69px,#afff50 18.69px 20.76px,#c6ff39 20.76px 22.84px,#9fff60 22.84px 24.92px,#b7ff48 24.92px 26.99px,#aeff51 26.99px 29.07px,#b7ff48 29.07px 31.15px,#96ff69 31.15px 33.22px,#baff45 33.22px 35.30px,#a5ff5a 35.30px 37.38px,#a6ff59 37.38px 39.45px,#9cff63 39.45px 41.53px,#b9ff46 41.53px 43.60px,#a6ff59 43.60px 45.68px,#abff54 45.68px 47.76px,#96ff69 47.76px 49.83px,#a9ff56 49.83px 51.91px,#88ff77 51.91px 53.99px,#adff52 53.99px 56.06px,#98ff67 56.06px 58.14px,#a1ff5e 58.14px 60.22px,#89ff76 60.22px 62.29px,#a6ff59 62.29px 64.37px,#78ff87 64.37px 66.44px,#95ff6a 66.44px 68.52px,#78ff87 68.52px 70.60px,#8fff70 70.60px 72.67px,#9dff62 72.67px 74.75px,#fdff02 74.75px 76.83px,#deff21 76.83px 78.90px,#b0ff4f 78.90px 80.98px,#68ff97 80.98px 83.06px,#87ff78 83.06px 85.13px,#6bff94 85.13px 87.21px,#74ff8b 87.21px 89.28px,#5dffa2 89.28px 91.36px,#71ff8e 91.36px 93.44px,#55ffaa 93.44px 95.51px,#6eff91 95.51px 97.59px,#4cffb3 97.59px 99.67px,#68ff97 99.67px 101.74px,#62ff9d 101.74px 103.82px,#6bff94 103.82px 105.90px,#5fffa0 105.90px 107.97px,#7aff85 107.97px 110.05px,#6eff91 110.05px 112.12px,#89ff76 112.12px 114.20px,#69ff96 114.20px 116.28px,#87ff78 116.28px 118.35px,#5fffa0 118.35px 120.43px,#7eff81 120.43px 122.51px,#6fff90 122.51px 124.58px,#87ff78 124.58px 126.66px,#71ff8e 126.66px 128.74px,#90ff6f 128.74px 130.81px,#6bff94 130.81px 132.89px,#8cff73 132.89px 134.97px,#70ff8f 134.97px 137.04px,#86ff79 137.04px 139.12px,#72ff8d 139.12px 141.19px,#88ff77 141.19px 143.27px,#77ff88 143.27px 145.35px,#8cff73 145.35px 147.42px,#71ff8e 147.42px 149.50px)"></div>
<div class="c" style="left:163.17px;width:6.43px;background:linear-gradient(#ffe500 0.00px 2.08px,#f9ff06 2.08px 4.15px,#faff05 4.15px 6.23px,#d7ff28 6.23px 8.31px,#ebff14 8.31px 10.38px,#dfff20 10.38px 12.46px,#eeff11 12.46px 14.53px,#dfff20 14.53px 16.61px,#f7ff08 16.61px 18.69px,#c8ff37 18.69px 20.76px,#eaff15 20.76px 22.84px,#d0ff2f 22.84px 24.92px,#e7ff18 24.92px 26.99px,#d2ff2d 26.99px 29.07px,#e6ff19 29.07px 31.15px,#d1ff2e 31.15px 33.22px,#e5ff1a 33.22px 35.30px,#d3ff2c 35.30px 37.38px,#deff21 37.38px 39.45px,#d5ff2a 39.45px 41.53px,#e1ff1e 41.53px 43.60px,#c6ff39 43.60px 45.68px,#d6ff29 45.68px 47.76px,#b8ff47 47.76px 49.83px,#daff25 49.83px 51.91px,#bfff40 51.91px 53.99px,#d3ff2c 53.99px 56.06px,#c2ff3d 56.06px 58.14px,#c3ff3c 58.14px 60.22px,#acff53 60.22px 62.29px,#c2ff3d 62.29px 64.37px,#abff54 64.37px 66.44px,#caff35 66.44px 68.52px,#bbff44 68.52px 70.60px,#fcff03 70.60px 72.67px,#fdff02 72.67px 74.75px,#f8ff07 74.75px 76.83px,#c3ff3c 76.83px 78.90px,#b6ff49 78.90px 80.98px,#88ff77 80.98px 83.06px,#9aff65 83.06px 85.13px,#80ff7f 85.13px 87.21px,#9dff62 87.21px 89.28px,#81ff7e 89.28px 91.36px,#84ff7b 91.36px 93.44px,#7fff80 93.44px 95.51px,#95ff6a 95.51px 97.59px,#71ff8e 97.59px 99.67px,#7eff81 99.67px 101.74px,#79ff86 101.74px 103.82px,#87ff78 103.82px 105.90px,#84ff7b 105.90px 107.97px,#8cff73 107.97px 110.05px,#7aff85 110.05px 112.12px,#95ff6a 112.12px 114.20px,#8bff74 114.20px 116.28px,#97ff68 116.28px 118.35px,#81ff7e 118.35px 120.43px,#9cff63 120.43px 122.51px,#7bff84 122.51px 124.58px,#90ff6f 124.58px 126.66px,#89ff76 126.66px 128.74px,#9aff65 128.74px 130.81px,#91ff6e 130.81px 132.89px,#97ff68 132.89px 134.97px,#85ff7a 134.97px 137.04px,#a0ff5f 137.04px 139.12px,#7eff81 139.12px 141.19px,#a4ff5b 141.19px 143.27px,#b4ff4b 143.27px 145.35px,#fff100 145.35px 147.42px,#ffdc00 147.42px 149.50px)"></div>
<div class="ov"></div></div>
<div class="p" style="left:330.00px;top:228.25px">
<div class="c" style="left:0.00px;width:6.43px;background:linear-gradient(#beff41 0.00px 2.08px,#9eff61 2.08px 4.15px,#b0ff4f 4.15px 6.23px,#88ff77 6.23px 8.31px,#95ff6a 8.31px 10.38px,#6bff94 10.38px 12.46px,#6dff92 12.46px 14.53px,#40ffbf 14.53px 16.61px,#38ffc7 16.61px 18.69px,#17ffe8 18.69px 20.76px,#19ffe6 20.76px 22.84px,#00f2ff 22.84px 24.92px,#00f6ff 24.92px 26.99px,#00ccff 26.99px 29.07px,#00d9ff 29.07px 31.15px,#00aeff 31.15px 33.22px,#00b6ff 33.22px 35.30px,#00abff 35.30px 37.38px,#00c5ff 37.38px 39.45px,#00a9ff 39.45px 41.53px,#00bbff 41.53px 43.60px,#00acff 43.60px 45.68px,#00beff 45.68px 47.76px,#00a7ff 47.76px 49.83px,#00e0ff 49.83px 51.91px,#00e5ff 51.91px 53.99px,#13ffec 53.99px 56.06px,#25ffda 56.06px 58.14px,#56ffa9 58.14px 62.29px,#8aff75 62.29px 64.37px,#8fff70 64.37px 66.44px,#b3ff4c 66.44px 68.52px,#96ff69 68.52px 70.60px,#91ff6e 70.60px 72.67px,#62ff9d 72.67px 74.75px,#7bff84 74.75px 76.83px,#5fffa0 76.83px 78.90px,#70ff8f 78.90px 80.98px,#43ffbc 80.98px 83.06px,#55ffaa 83.06px 85.13px,#39ffc6 85.13px 87.21px,#54ffab 87.21px 89.28px,#2affd5 89.28px 91.36px,#3affc5 91.36px 93.44px,#32ffcd 93.44px 95.51px,#45ffba 95.51px 97.59px,#33ffcc 97.59px 99.67px,#5fffa0 99.67px 101.74px,#3fffc0 101.74px 103.82px,#4effb1 103.82px 105.90px,#3fffc0 105.90px 107.97px,#4effb1 107.97px 110.05px,#39ffc6 110.05px 112.12px,#67ff98 112.12px 114.20px,#50ffaf 114.20px 116.28px,#4dffb2 116.28px 118.35px,#33ffcc 118.35px 120.43px,#50ffaf 120.43px 122.51px,#36ffc9 122.51px 124.58px,#37ffc8 124.58px 126.66px,#26ffd9 126.66px 128.74px,#36ffc9 128.74px 130.81px,#26ffd9 130.81px 132.89px,#2cffd3 132.89px 134.97px,#37ffc8 134.97px 137.04px,#62ff9d 137.04px 139.12px,#74ff8b 139.12px 141.19px,#b8ff47 141.19px 143.27px,#b7ff48 143.27px 145.35px,#deff21 145.35px 147.42px,#d1ff2e 147.42px 149.50px)"></div>
<div class="c" style="left:5.83px;width:6.43px;background:linear-gradient(#efff10 0.00px 2.08px,#d3ff2c 2.08px 4.15px,#d1ff2e 4.15px 6.23px,#baff45 6.23px 8.31px,#bdff42 8.31px 10.38px,#8cff73 10.38px 12.46px,#6bff94 12.46px 14.53px,#30ffcf 14.53px 16.61px,#08fff7 16.61px 18.69px,#00d7ff 18.69px 20.76px,#00e0ff 20.76px 22.84px,#00c4ff 22.84px 24.92px,#00b9ff 24.92px 26.99px,#009cff 26.99px 29.07px,#0094ff 29.07px 31.15px,#0064ff 31.15px 33.22px,#005aff 33.22px 35.30px,#0043ff 35.30px 37.38px,#0042ff 37.38px 39.45px,#0026ff 39.45px 41.53px,#004fff 41.53px 43.60px,#0048ff 43.60px 45.68px,#0057ff 45.68px 47.76px,#004dff 47.76px 49.83px,#007cff 49.83px 51.91px,#0093ff 51.91px 53.99px,#00a8ff 53.99px 56.06px,#00c4ff 56.06px 58.14px,#1affe5 58.14px 60.22px,#2fffd0 60.22px 62.29px,#7aff85 62.29px 64.37px,#85ff7a 64.37px 66.44px,#abff54 66.44px 68.52px,#9bff64 68.52px 70.60px,#8dff72 70.60px 72.67px,#6aff95 72.67px 74.75px,#76ff89 74.75px 76.83px,#4cffb3 76.83px 78.90px,#4dffb2 78.90px 80.98px,#2effd1 80.98px 83.06px,#3fffc0 83.06px 85.13px,#10ffef 85.13px 87.21px,#1fffe0 87.21px 89.28px,#0bfff4 89.28px 91.36px,#19ffe6 91.36px 93.44px,#00f7ff 93.44px 95.51px,#09fff6 95.51px 97.59px,#00ecff 97.59px 99.67px,#01fffe 99.67px 101.74px,#00e2ff 101.74px 103.82px,#05fffa 103.82px 105.90px,#00f4ff 105.90px 107.97px,#2effd1 107.97px 110.05px,#12ffed 110.05px 112.12px,#27ffd8 112.12px 114.20px,#18ffe7 114.20px 116.28px,#39ffc6 116.28px 118.35px,#26ffd9 118.35px 120.43px,#2bffd4 120.43px 122.51px,#00feff 122.51px 124.58px,#11ffee 124.58px 126.66px,#00f8ff 126.66px 128.74px,#04fffb 128.74px 130.81px,#00eaff 130.81px 132.89px,#00ecff 132.89px 134.97px,#00d7ff 134.97px 139.12px,#00bbff 139.12px 141.19px,#00c3ff 141.19px 143.27px,#00a8ff 143.27px 145.35px,#00cbff 145.35px 147.42px,#00bdff 147.42px 149.50px)"></div>
<div class="c" style="left:11.66px;width:6.43px;background:linear-gradient(#eeff11 0.00px 2.08px,#d1ff2e 2.08px 4.15px,#c4ff3b 4.15px 6.23px,#95ff6a 6.23px 8.31px,#89ff76 8.31px 10.38px,#70ff8f 10.38px 12.46px,#54ffab 12.46px 14.53px,#2cffd3 14.53px 16.61px,#16ffe9 16.61px 18.69px,#00e9ff 18.69px 20.76px,#04fffb 20.76px 22.84px,#00efff 22.84px 24.92px,#00e3ff 24.92px 26.99px,#00cfff 26.99px 29.07px,#00daff 29.07px 31.15px,#00bbff 31.15px 33.22px,#00cfff 33.22px 35.30px,#00a8ff 35.30px 37.38px,#00b7ff 37.38px 39.45px,#0099ff 39.45px 41.53px,#00b7ff 41.53px 43.60px,#00a8ff 43.60px 45.68px,#00aaff 45.68px 47.76px,#00a4ff 47.76px 49.83px,#00d2ff 49.83px 51.91px,#00d8ff 51.91px 53.99px,#00f7ff 53.99px 56.06px,#00fcff 56.06px 58.14px,#1effe1 58.14px 60.22px,#1cffe3 60.22px 62.29px,#36ffc9 62.29px 64.37px,#3affc5 64.37px 66.44px,#50ffaf 66.44px 68.52px,#33ffcc 68.52px 70.60px,#1affe5 70.60px 72.67px,#00eeff 72.67px 74.75px,#0ffff0 74.75px 76.83px,#00daff 76.83px 78.90px,#00eeff 78.90px 80.98px,#00b8ff 80.98px 83.06px,#00e6ff 83.06px 85.13px,#00beff 85.13px 87.21px,#00c9ff 87.21px 89.28px,#00b1ff 89.28px 91.36px,#00baff 91.36px 93.44px,#00a2ff 93.44px 95.51px,#00cbff 95.51px 97.59px,#00c0ff 97.59px 99.67px,#00ecff 99.67px 101.74px,#00f2ff 101.74px 103.82px,#1affe5 103.82px 105.90px,#2fffd0 105.90px 107.97px,#5affa5 107.97px 110.05px,#69ff96 110.05px 112.12px,#61ff9e 112.12px 114.20px,#4affb5 114.20px 116.28px,#67ff98 116.28px 118.35px,#4effb1 118.35px 120.43px,#48ffb7 120.43px 122.51px,#2effd1 122.51px 124.58px,#25ffda 124.58px 126.66px,#0ffff0 126.66px 130.81px,#09fff6 130.81px 132.89px,#0ffff0 132.89px 134.97px,#00f6ff 134.97px 137.04px,#14ffeb 137.04px 139.12px,#11ffee 139.12px 141.19px,#2bffd4 141.19px 143.27px,#0ffff0 143.27px 145.35px,#3dffc2 145.35px 147.42px,#2dffd2 147.42px 149.50px)"></div>
<div class="c" style="left:17.48px;width:6.43px;background:linear-gradient(#41ffbe 0.00px 2.08px,#1bffe4 2.08px 4.15px,#28ffd7 4.15px 6.23px,#19ffe6 6.23px 8.31px,#28ffd7 8.31px 10.38px,#02fffd 10.38px 12.46px,#09fff6 12.46px 14.53px,#00e9ff 14.53px 16.61px,#00f4ff 16.61px 18.69px,#00dcff 18.69px 20.76px,#00f5ff 20.76px 22.84px,#00d5ff 22.84px 24.92px,#00f0ff 24.92px 26.99px,#00caff 26.99px 29.07px,#00edff 29.07px 31.15px,#00c8ff 31.15px 33.22px,#00ddff 33.22px 35.30px,#00ccff 35.30px 37.38px,#00e7ff 37.38px 39.45px,#00d1ff 39.45px 41.53px,#00f6ff 41.53px 43.60px,#00ebff 43.60px 45.68px,#06fff9 45.68px 47.76px,#04fffb 47.76px 49.83px,#17ffe8 49.83px 51.91px,#0bfff4 51.91px 53.99px,#29ffd6 53.99px 56.06px,#2affd5 56.06px 58.14px,#4dffb2 58.14px 60.22px,#3affc5 60.22px 62.29px,#4effb1 62.29px 64.37px,#45ffba 64.37px 66.44px,#5bffa4 66.44px 68.52px,#31ffce 68.52px 70.60px,#29ffd6 70.60px 72.67px,#0efff1 72.67px 74.75px,#0ffff0 74.75px 76.83px,#00faff 76.83px 78.90px,#03fffc 78.90px 80.98px,#00edff 80.98px 83.06px,#00f1ff 83.06px 85.13px,#00e2ff 85.13px 87.21px,#00e1ff 87.21px 89.28px,#00e5ff 89.28px 91.36px,#00f6ff 91.36px 93.44px,#00e2ff 93.44px 95.51px,#00f6ff 95.51px 97.59px,#00f3ff 97.59px 99.67px,#0ffff0 99.67px 101.74px,#00f7ff 101.74px 103.82px,#0dfff2 103.82px 105.90px,#02fffd 105.90px 107.97px,#0bfff4 107.97px 110.05px,#02fffd 110.05px 112.12px,#0afff5 112.12px 114.20px,#00e4ff 114.20px 116.28px,#00feff 116.28px 118.35px,#00e3ff 118.35px 120.43px,#00ecff 120.43px 122.51px,#00cfff 122.51px 124.58px,#00d9ff 124.58px 126.66px,#00c9ff 126.66px 128.74px,#00e3ff 128.74px 130.81px,#00e1ff 130.81px 132.89px,#00f4ff 132.89px 134.97px,#00d4ff 134.97px 137.04px,#00efff 137.04px 139.12px,#00dbff 139.12px 141.19px,#00feff 141.19px 143.27px,#00eaff 143.27px 145.35px,#1cffe3 145.35px 147.42px,#00fcff 147.42px 149.50px)"></div>
<div class="c" style="left:23.31px;width:6.43px;background:linear-gradient(#30ffcf 0.00px 2.08px,#08fff7 2.08px 4.15px,#0dfff2 4.15px 6.23px,#00dfff 6.23px 8.31px,#00e5ff 8.31px 10.38px,#00c4ff 10.38px 12.46px,#00c5ff 12.46px 14.53px,#00b2ff 14.53px 16.61px,#00c9ff 16.61px 18.69px,#00b6ff 18.69px 20.76px,#00b4ff 20.76px 22.84px,#009fff 22.84px 24.92px,#00c0ff 24.92px 26.99px,#00a2ff 26.99px 29.07px,#00a6ff 29.07px 31.15px,#007bff 31.15px 33.22px,#008dff 33.22px 35.30px,#007dff 35.30px 37.38px,#0082ff 37.38px 39.45px,#0084ff 39.45px 41.53px,#0089ff 41.53px 43.60px,#0082ff 43.60px 45.68px,#00abff 45.68px 47.76px,#00aaff 47.76px 49.83px,#00c8ff 49.83px 51.91px,#00b7ff 51.91px 53.99px,#00eeff 53.99px 56.06px,#00f2ff 56.06px 58.14px,#00ffff 58.14px 60.22px,#00f1ff 60.22px 62.29px,#26ffd9 62.29px 64.37px,#16ffe9 64.37px 66.44px,#26ffd9 66.44px 68.52px,#09fff6 68.52px 70.60px,#00d8ff 70.60px 72.67px,#00a1ff 72.67px 74.75px,#00b6ff 74.75px 76.83px,#0095ff 76.83px 78.90px,#00bdff 78.90px 80.98px,#0087ff 80.98px 83.06px,#00a8ff 83.06px 85.13px,#0078ff 85.13px 87.21px,#0093ff 87.21px 89.28px,#0076ff 89.28px 91.36px,#0072ff 91.36px 93.44px,#005cff 93.44px 95.51px,#006dff 95.51px 97.59px,#0065ff 97.59px 99.67px,#0085ff 99.67px 101.74px,#0075ff 101.74px 103.82px,#00a8ff 103.82px 105.90px,#008aff 105.90px 107.97px,#00b6ff 107.97px 110.05px,#00a0ff 110.05px 112.12px,#00c4ff 112.12px 114.20px,#00a8ff 114.20px 116.28px,#00b6ff 116.28px 118.35px,#00a7ff 118.35px 120.43px,#00adff 120.43px 122.51px,#009fff 122.51px 124.58px,#00a1ff 124.58px 126.66px,#009bff 126.66px 128.74px,#00b3ff 128.74px 130.81px,#00a4ff 130.81px 132.89px,#00c5ff 132.89px 134.97px,#00b8ff 134.97px 137.04px,#00bdff 137.04px 139.12px,#00bfff 139.12px 141.19px,#00e3ff 141.19px 143.27px,#00d2ff 143.27px 145.35px,#00e0ff 145.35px 147.42px,#00c9ff 147.42px 149.50px)"></div>
<div class="c" style="left:29.14px;width:6.43px;background:linear-gradient(#14ffeb 0.00px 2.08px,#03fffc 2.08px 4.15px,#00ffff 4.15px 6.23px,#00eaff 6.23px 8.31px,#00ffff 8.31px 10.38px,#00ecff 10.38px 12.46px,#00eaff 12.46px 14.53px,#00dbff 14.53px 16.61px,#00e4ff 16.61px 18.69px,#00d6ff 18.69px 20.76px,#00e5ff 20.76px 22.84px,#00ccff 22.84px 24.92px,#00dbff 24.92px 26.99px,#00beff 26.99px 29.07px,#00b9ff 29.07px 31.15px,#00a6ff 31.15px 33.22px,#00a3ff 33.22px 35.30px,#0096ff 35.30px 37.38px,#00baff 37.38px 39.45px,#00afff 39.45px 41.53px,#00bdff 41.53px 43.60px,#00adff 43.60px 45.68px,#00dcff 45.68px 47.76px,#00caff 47.76px 49.83px,#00e9ff 49.83px 51.91px,#00eaff 51.91px 53.99px,#0ffff0 53.99px 56.06px,#04fffb 56.06px 58.14px,#0afff5 58.14px 60.22px,#0bfff4 60.22px 62.29px,#25ffda 62.29px 64.37px,#08fff7 64.37px 66.44px,#23ffdc 66.44px 68.52px,#00efff 68.52px 70.60px,#00ecff 70.60px 72.67px,#00c2ff 72.67px 74.75px,#00c8ff 74.75px 76.83px,#00c1ff 76.83px 78.90px,#00cdff 78.90px 80.98px,#00aaff 80.98px 83.06px,#00b3ff 83.06px 85.13px,#009cff 85.13px 87.21px,#00b7ff 87.21px 89.28px,#00a9ff 89.28px 91.36px,#00bfff 91.36px 93.44px,#00aeff 93.44px 95.51px,#00c1ff 95.51px 97.59px,#00b7ff 97.59px 99.67px,#00d2ff 99.67px 101.74px,#00d7ff 101.74px 103.82px,#00eeff 103.82px 105.90px,#00d8ff 105.90px 107.97px,#00f6ff 107.97px 110.05px,#00f1ff 110.05px 112.12px,#10ffef 112.12px 114.20px,#00fcff 114.20px 116.28px,#27ffd8 116.28px 118.35px,#0afff5 118.35px 120.43px,#0efff1 120.43px 122.51px,#03fffc 122.51px 124.58px,#00fbff 124.58px 126.66px,#00e1ff 126.66px 128.74px,#00eeff 128.74px 130.81px,#00c6ff 130.81px 132.89px,#00d9ff 132.89px 134.97px,#00dfff 134.97px 137.04px,#00e2ff 137.04px 139.12px,#00ccff 139.12px 141.19px,#00f4ff 141.19px 143.27px,#00d6ff 143.27px 145.35px,#00f7ff 145.35px 149.50px)"></div>
<div class="c" style="left:34.97px;width:6.43px;background:linear-gradient(#22ffdd 0.00px 2.08px,#00ebff 2.08px 4.15px,#00fdff 4.15px 6.23px,#00d8ff 6.23px 8.31px,#00dfff 8.31px 10.38px,#00c7ff 10.38px 12.46px,#00c9ff 12.46px 14.53px,#00b7ff 14.53px 16.61px,#00baff 16.61px 18.69px,#00a5ff 18.69px 20.76px,#00a0ff 20.76px 22.84px,#0089ff 22.84px 24.92px,#0084ff 24.92px 26.99px,#006dff 26.99px 29.07px,#007cff 29.07px 31.15px,#0057ff 31.15px 33.22px,#0054ff 33.22px 35.30px,#0042ff 35.30px 37.38px,#005fff 37.38px 39.45px,#0037ff 39.45px 41.53px,#0057ff 41.53px 43.60px,#0059ff 43.60px 45.68px,#005eff 45.68px 47.76px,#0051ff 47.76px 49.83px,#0088ff 49.83px 51.91px,#0077ff 51.91px 53.99px,#009fff 53.99px 56.06px,#009cff 56.06px 58.14px,#00b1ff 58.14px 60.22px,#00b4ff 60.22px 62.29px,#00ddff 62.29px 64.37px,#00c1ff 64.37px 66.44px,#00d8ff 66.44px 68.52px,#00b8ff 68.52px 70.60px,#00b2ff 70.60px 72.67px,#008dff 72.67px 74.75px,#009bff 74.75px 76.83px,#007dff 76.83px 78.90px,#0088ff 78.90px 80.98px,#0071ff 80.98px 83.06px,#008cff 83.06px 85.13px,#0061ff 85.13px 87.21px,#007fff 87.21px 89.28px,#0051ff 89.28px 91.36px,#0067ff 91.36px 93.44px,#0064ff 93.44px 95.51px,#006bff 95.51px 97.59px,#0062ff 97.59px 99.67px,#0077ff 99.67px 101.74px,#0058ff 101.74px 103.82px,#006eff 103.82px 105.90px,#0061ff 105.90px 107.97px,#008cff 107.97px 110.05px,#0076ff 110.05px 112.12px,#008aff 112.12px 114.20px,#006cff 114.20px 116.28px,#008dff 116.28px 118.35px,#006dff 118.35px 120.43px,#007bff 120.43px 122.51px,#005eff 122.51px 124.58px,#006eff 124.58px 126.66px,#0063ff 126.66px 128.74px,#007dff 128.74px 130.81px,#005cff 130.81px 132.89px,#007eff 132.89px 134.97px,#0082ff 134.97px 137.04px,#0093ff 137.04px 139.12px,#0096ff 139.12px 141.19px,#00beff 141.19px 143.27px,#009eff 143.27px 145.35px,#00abff 145.35px 149.50px)"></div>
<div class="c" style="left:40.79px;width:6.43px;background:linear-gradient(#11ffee 0.00px 2.08px,#00eeff 2.08px 4.15px,#0dfff2 4.15px 6.23px,#00f0ff 6.23px 8.31px,#06fff9 8.31px 10.38px,#00ecff 10.38px 12.46px,#00f8ff 12.46px 14.53px,#00e8ff 14.53px 16.61px,#05fffa 16.61px 18.69px,#00d5ff 18.69px 20.76px,#00e7ff 20.76px 22.84px,#00c9ff 22.84px 24.92px,#00d9ff 24.92px 26.99px,#00beff 26.99px 29.07px,#00c5ff 29.07px 31.15px,#00b2ff 31.15px 33.22px,#00baff 33.22px 35.30px,#0094ff 35.30px 37.38px,#00c2ff 37.38px 39.45px,#00b2ff 39.45px 41.53px,#00d0ff 41.53px 43.60px,#00baff 43.60px 45.68px,#00d1ff 45.68px 47.76px,#00d0ff 47.76px 49.83px,#00daff 49.83px 51.91px,#00dfff 51.91px 53.99px,#06fff9 53.99px 56.06px,#00d9ff 56.06px 58.14px,#00f7ff 58.14px 60.22px,#00edff 60.22px 62.29px,#0dfff2 62.29px 64.37px,#00f2ff 64.37px 66.44px,#05fffa 66.44px 68.52px,#00e3ff 68.52px 70.60px,#00d1ff 70.60px 72.67px,#00a9ff 72.67px 74.75px,#00beff 74.75px 76.83px,#0098ff 76.83px 78.90px,#00aeff 78.90px 80.98px,#00a6ff 80.98px 83.06px,#00a8ff 83.06px 85.13px,#008bff 85.13px 87.21px,#009dff 87.21px 89.28px,#007bff 89.28px 91.36px,#0086ff 91.36px 93.44px,#0064ff 93.44px 95.51px,#0093ff 95.51px 97.59px,#006aff 97.59px 99.67px,#0094ff 99.67px 101.74px,#0073ff 101.74px 103.82px,#0094ff 103.82px 105.90px,#008bff 105.90px 107.97px,#0098ff 107.97px 110.05px,#008bff 110.05px 112.12px,#00b0ff 112.12px 114.20px,#00a1ff 114.20px 116.28px,#00b2ff 116.28px 120.43px,#00c4ff 120.43px 122.51px,#00a4ff 122.51px 124.58px,#00b8ff 124.58px 126.66px,#00a0ff 126.66px 128.74px,#00ccff 128.74px 130.81px,#00a7ff 130.81px 132.89px,#00c5ff 132.89px 134.97px,#00acff 134.97px 137.04px,#00c8ff 137.04px 139.12px,#00bcff 139.12px 141.19px,#00e9ff 141.19px 143.27px,#00d3ff 143.27px 145.35px,#00e0ff 145.35px 147.42px,#00cfff 147.42px 149.50px)"></div>
<div class="c" style="left:46.62px;width:6.43px;background:linear-gradient(#00c0ff 0.00px 2.08px,#00b0ff 2.08px 4.15px,#00c2ff 4.15px 6.23px,#00bfff 6.23px 8.31px,#00deff 8.31px 10.38px,#00d1ff 10.38px 12.46px,#00d6ff 12.46px 14.53px,#00baff 14.53px 16.61px,#00c3ff 16.61px 18.69px,#00abff 18.69px 20.76px,#00bdff 20.76px 22.84px,#00a4ff 22.84px 24.92px,#00b5ff 24.92px 26.99px,#00aeff 26.99px 29.07px,#00c1ff 29.07px 31.15px,#00acff 31.15px 33.22px,#00c4ff 33.22px 35.30px,#00abff 35.30px 37.38px,#00b8ff 37.38px 39.45px,#00b9ff 39.45px 43.60px,#00a4ff 43.60px 45.68px,#00beff 45.68px 47.76px,#00a5ff 47.76px 49.83px,#00ccff 49.83px 51.91px,#00e0ff 51.91px 53.99px,#02fffd 53.99px 56.06px,#01fffe 56.06px 58.14px,#00ffff 58.14px 60.22px,#00dcff 60.22px 62.29px,#00ffff 62.29px 64.37px,#00c4ff 64.37px 66.44px,#00c3ff 66.44px 68.52px,#0097ff 68.52px 70.60px,#00a7ff 70.60px 72.67px,#0076ff 72.67px 74.75px,#008cff 74.75px 76.83px,#007bff 76.83px 78.90px,#0092ff 78.90px 80.98px,#0080ff 80.98px 85.13px,#0075ff 85.13px 87.21px,#0083ff 87.21px 89.28px,#0061ff 89.28px 91.36px,#0069ff 91.36px 93.44px,#005cff 93.44px 95.51px,#0085ff 95.51px 97.59px,#008eff 97.59px 99.67px,#00a9ff 99.67px 101.74px,#00a1ff 101.74px 103.82px,#00bbff 103.82px 105.90px,#00a0ff 105.90px 107.97px,#00beff 107.97px 110.05px,#00aaff 110.05px 112.12px,#00b3ff 112.12px 114.20px,#0096ff 114.20px 116.28px,#00aeff 116.28px 118.35px,#008eff 118.35px 120.43px,#0096ff 120.43px 122.51px,#007eff 122.51px 124.58px,#009bff 124.58px 126.66px,#0083ff 126.66px 128.74px,#0097ff 128.74px 130.81px,#0081ff 130.81px 132.89px,#00a2ff 132.89px 134.97px,#008eff 134.97px 137.04px,#0097ff 137.04px 139.12px,#0096ff 139.12px 141.19px,#00a2ff 141.19px 143.27px,#00a5ff 143.27px 145.35px,#00b5ff 145.35px 147.42px,#00a7ff 147.42px 149.50px)"></div>
<div class="c" style="left:52.45px;width:6.43px;background:linear-gradient(#00b3ff 0.00px 2.08px,#00b2ff 2.08px 4.15px,#00b1ff 4.15px 6.23px,#00aeff 6.23px 8.31px,#00b7ff 8.31px 10.38px,#00a9ff 10.38px 12.46px,#009eff 12.46px 14.53px,#006fff 14.53px 16.61px,#0082ff 16.61px 18.69px,#0054ff 18.69px 20.76px,#0059ff 20.76px 22.84px,#0044ff 22.84px 24.92px,#0043ff 24.92px 26.99px,#002fff 26.99px 29.07px,#003dff 29.07px 31.15px,#002eff 31.15px 33.22px,#0036ff 33.22px 35.30px,#0021ff 35.30px 37.38px,#002fff 37.38px 39.45px,#001fff 39.45px 41.53px,#0044ff 41.53px 43.60px,#0031ff 43.60px 45.68px,#004cff 45.68px 47.76px,#003fff 47.76px 49.83px,#006bff 49.83px 51.91px,#0081ff 51.91px 53.99px,#00b3ff 53.99px 56.06px,#00a2ff 56.06px 58.14px,#00d3ff 58.14px 60.22px,#00b9ff 60.22px 62.29px,#00e6ff 62.29px 64.37px,#00bbff 64.37px 66.44px,#00d0ff 66.44px 68.52px,#009bff 68.52px 70.60px,#00a5ff 70.60px 72.67px,#0091ff 72.67px 74.75px,#0098ff 74.75px 76.83px,#0094ff 76.83px 78.90px,#00abff 78.90px 80.98px,#009cff 80.98px 83.06px,#00a3ff 83.06px 85.13px,#0094ff 85.13px 87.21px,#0096ff 87.21px 89.28px,#0071ff 89.28px 91.36px,#0089ff 91.36px 93.44px,#007dff 93.44px 95.51px,#0096ff 95.51px 97.59px,#009cff 97.59px 99.67px,#00d0ff 99.67px 101.74px,#00cfff 101.74px 103.82px,#00e6ff 103.82px 105.90px,#00d8ff 105.90px 107.97px,#00f5ff 107.97px 110.05px,#00cfff 110.05px 112.12px,#00d0ff 112.12px 114.20px,#00b3ff 114.20px 116.28px,#00b8ff 116.28px 118.35px,#0096ff 118.35px 120.43px,#00b1ff 120.43px 122.51px,#0091ff 122.51px 124.58px,#00a5ff 124.58px 126.66px,#009aff 126.66px 128.74px,#00a6ff 128.74px 130.81px,#0095ff 130.81px 132.89px,#00b3ff 132.89px 134.97px,#0099ff 134.97px 137.04px,#009fff 137.04px 139.12px,#0092ff 139.12px 141.19px,#00adff 141.19px 143.27px,#009eff 143.27px 145.35px,#00aaff 145.35px 147.42px,#00b4ff 147.42px 149.50px)"></div>
<div class="c" style="left:58.28px;width:6.43px;background:linear-gradient(#00acff 0.00px 2.08px,#009aff 2.08px 4.15px,#00abff 4.15px 6.23px,#009eff 6.23px 8.31px,#00b4ff 8.31px 10.38px,#009fff 10.38px 12.46px,#0097ff 12.46px 14.53px,#0073ff 14.53px 16.61px,#0078ff 16.61px 18.69px,#0060ff 18.69px 20.76px,#0059ff 20.76px 22.84px,#0037ff 22.84px 24.92px,#0042ff 24.92px 26.99px,#0030ff 26.99px 29.07px,#0049ff 29.07px 31.15px,#002cff 31.15px 33.22px,#003cff 33.22px 37.38px,#004aff 37.38px 39.45px,#0041ff 39.45px 41.53px,#005dff 41.53px 43.60px,#0053ff 43.60px 45.68px,#0057ff 45.68px 47.76px,#0050ff 47.76px 49.83px,#0083ff 49.83px 53.99px,#00b0ff 53.99px 56.06px,#00bcff 56.06px 58.14px,#00d6ff 58.14px 60.22px,#00c8ff 60.22px 62.29px,#00fbff 62.29px 64.37px,#00c4ff 64.37px 66.44px,#00c3ff 66.44px 68.52px,#0094ff 68.52px 70.60px,#00a1ff 70.60px 72.67px,#0071ff 72.67px 74.75px,#0089ff 74.75px 76.83px,#0071ff 76.83px 78.90px,#0070ff 78.90px 80.98px,#005aff 80.98px 83.06px,#0061ff 83.06px 85.13px,#0059ff 85.13px 87.21px,#0062ff 87.21px 89.28px,#0047ff 89.28px 91.36px,#005fff 91.36px 93.44px,#0050ff 93.44px 95.51px,#0060ff 95.51px 97.59px,#0065ff 97.59px 99.67px,#0080ff 99.67px 101.74px,#008bff 101.74px 103.82px,#0092ff 103.82px 105.90px,#008aff 105.90px 107.97px,#00bbff 107.97px 110.05px,#00a4ff 110.05px 112.12px,#00aaff 112.12px 114.20px,#008bff 114.20px 116.28px,#008eff 116.28px 118.35px,#0072ff 118.35px 120.43px,#007aff 120.43px 122.51px,#005fff 122.51px 124.58px,#006bff 124.58px 126.66px,#0057ff 126.66px 128.74px,#0073ff 128.74px 130.81px,#006aff 130.81px 132.89px,#0082ff 132.89px 134.97px,#006eff 134.97px 137.04px,#0086ff 137.04px 139.12px,#0076ff 139.12px 141.19px,#0082ff 141.19px 143.27px,#007bff 143.27px 145.35px,#0099ff 145.35px 147.42px,#0087ff 147.42px 149.50px)"></div>
<div class="c" style="left:64.10px;width:6.43px;background:linear-gradient(#00e2ff 0.00px 2.08px,#00edff 2.08px 4.15px,#00ebff 4.15px 6.23px,#00dcff 6.23px 8.31px,#00f9ff 8.31px 10.38px,#00d4ff 10.38px 12.46px,#00e2ff 12.46px 14.53px,#00b5ff 14.53px 16.61px,#00cbff 16.61px 18.69px,#00a7ff 18.69px 20.76px,#00bcff 20.76px 22.84px,#008aff 22.84px 24.92px,#00acff 24.92px 26.99px,#008eff 26.99px 29.07px,#00a3ff 29.07px 31.15px,#0086ff 31.15px 33.22px,#00acff 33.22px 35.30px,#008aff 35.30px 37.38px,#00acff 37.38px 39.45px,#0096ff 39.45px 41.53px,#00a1ff 41.53px 43.60px,#00a3ff 43.60px 45.68px,#00acff 45.68px 47.76px,#0095ff 47.76px 49.83px,#00c0ff 49.83px 51.91px,#00b2ff 51.91px 53.99px,#00cdff 53.99px 56.06px,#00c6ff 56.06px 58.14px,#00f5ff 58.14px 60.22px,#03fffc 60.22px 62.29px,#08fff7 62.29px 64.37px,#00e4ff 64.37px 66.44px,#00e7ff 66.44px 68.52px,#00c7ff 68.52px 70.60px,#00c4ff 70.60px 72.67px,#00a6ff 72.67px 74.75px,#00baff 74.75px 76.83px,#009eff 76.83px 78.90px,#00b4ff 78.90px 80.98px,#0096ff 80.98px 83.06px,#00abff 83.06px 85.13px,#008cff 85.13px 87.21px,#009bff 87.21px 89.28px,#0081ff 89.28px 91.36px,#008eff 91.36px 93.44px,#007cff 93.44px 95.51px,#0097ff 95.51px 97.59px,#008cff 97.59px 99.67px,#0097ff 99.67px 101.74px,#00a6ff 101.74px 103.82px,#00b9ff 103.82px 105.90px,#00b0ff 105.90px 107.97px,#00d5ff 107.97px 110.05px,#00ccff 110.05px 112.12px,#00d6ff 112.12px 114.20px,#00b6ff 114.20px 116.28px,#00cdff 116.28px 118.35px,#00a2ff 118.35px 120.43px,#00a3ff 120.43px 122.51px,#0088ff 122.51px 124.58px,#008bff 124.58px 126.66px,#0080ff 126.66px 128.74px,#0083ff 128.74px 132.89px,#0098ff 132.89px 134.97px,#007bff 134.97px 137.04px,#008eff 137.04px 139.12px,#0082ff 139.12px 141.19px,#0099ff 141.19px 143.27px,#0089ff 143.27px 145.35px,#00aeff 145.35px 147.42px,#0089ff 147.42px 149.50px)"></div>
<div class="c" style="left:69.93px;width:6.43px;background:linear-gradient(#00c8ff 0.00px 2.08px,#009dff 2.08px 4.15px,#00b0ff 4.15px 6.23px,#00a4ff 6.23px 10.38px,#008fff 10.38px 12.46px,#0098ff 12.46px 14.53px,#0086ff 14.53px 16.61px,#0091ff 16.61px 18.69px,#0076ff 18.69px 20.76px,#0074ff 20.76px 22.84px,#0053ff 22.84px 24.92px,#0059ff 24.92px 26.99px,#004aff 26.99px 29.07px,#0048ff 29.07px 31.15px,#004dff 31.15px 33.22px,#0067ff 33.22px 35.30px,#0048ff 35.30px 37.38px,#0064ff 37.38px 39.45px,#0059ff 39.45px 41.53px,#006dff 41.53px 43.60px,#005cff 43.60px 45.68px,#0069ff 45.68px 47.76px,#0056ff 47.76px 49.83px,#0083ff 49.83px 51.91px,#007cff 51.91px 53.99px,#0097ff 53.99px 56.06px,#008dff 56.06px 58.14px,#00a8ff 58.14px 60.22px,#0094ff 60.22px 62.29px,#00bfff 62.29px 64.37px,#009eff 64.37px 66.44px,#00b3ff 66.44px 68.52px,#009cff 68.52px 70.60px,#0096ff 70.60px 72.67px,#0072ff 72.67px 74.75px,#0080ff 74.75px 76.83px,#0065ff 76.83px 78.90px,#007cff 78.90px 80.98px,#006aff 80.98px 83.06px,#0062ff 83.06px 85.13px,#005bff 85.13px 87.21px,#005eff 87.21px 89.28px,#003eff 89.28px 91.36px,#0059ff 91.36px 93.44px,#0041ff 93.44px 95.51px,#0069ff 95.51px 97.59px,#0047ff 97.59px 99.67px,#006dff 99.67px 101.74px,#005dff 101.74px 103.82px,#008cff 103.82px 107.97px,#00a9ff 107.97px 110.05px,#00a7ff 110.05px 112.12px,#00b0ff 112.12px 114.20px,#0086ff 114.20px 116.28px,#0094ff 116.28px 118.35px,#006fff 118.35px 120.43px,#0079ff 120.43px 122.51px,#0048ff 122.51px 124.58px,#0055ff 124.58px 126.66px,#0043ff 126.66px 128.74px,#0056ff 128.74px 130.81px,#0059ff 130.81px 132.89px,#006eff 132.89px 134.97px,#0059ff 134.97px 137.04px,#006aff 137.04px 139.12px,#0074ff 139.12px 141.19px,#0083ff 141.19px 143.27px,#0079ff 143.27px 145.35px,#0090ff 145.35px 147.42px,#006eff 147.42px 149.50px)"></div>
<div class="c" style="left:75.76px;width:6.43px;background:linear-gradient(#00afff 0.00px 2.08px,#008fff 2.08px 4.15px,#00c1ff 4.15px 6.23px,#009eff 6.23px 8.31px,#00b3ff 8.31px 10.38px,#009dff 10.38px 12.46px,#00bcff 12.46px 14.53px,#0096ff 14.53px 16.61px,#00afff 16.61px 18.69px,#0094ff 18.69px 20.76px,#00a7ff 20.76px 22.84px,#007cff 22.84px 24.92px,#0086ff 24.92px 26.99px,#0073ff 26.99px 29.07px,#0085ff 29.07px 31.15px,#006fff 31.15px 33.22px,#0093ff 33.22px 35.30px,#0076ff 35.30px 37.38px,#0091ff 37.38px 39.45px,#0077ff 39.45px 41.53px,#0092ff 41.53px 43.60px,#0074ff 43.60px 45.68px,#0090ff 45.68px 47.76px,#006cff 47.76px 49.83px,#009cff 49.83px 51.91px,#0081ff 51.91px 53.99px,#00acff 53.99px 56.06px,#00a0ff 56.06px 58.14px,#00b8ff 58.14px 60.22px,#009eff 60.22px 62.29px,#00b6ff 62.29px 64.37px,#00a2ff 64.37px 66.44px,#00b3ff 66.44px 68.52px,#008aff 68.52px 70.60px,#008eff 70.60px 72.67px,#006cff 72.67px 74.75px,#0084ff 74.75px 76.83px,#006eff 76.83px 78.90px,#006cff 78.90px 80.98px,#0057ff 80.98px 83.06px,#005fff 83.06px 85.13px,#004dff 85.13px 87.21px,#0057ff 87.21px 89.28px,#0034ff 89.28px 91.36px,#003fff 91.36px 93.44px,#001cff 93.44px 95.51px,#0033ff 95.51px 97.59px,#0025ff 97.59px 99.67px,#004cff 99.67px 101.74px,#0030ff 101.74px 103.82px,#004dff 103.82px 107.97px,#0072ff 107.97px 110.05px,#0056ff 110.05px 112.12px,#006aff 112.12px 114.20px,#0050ff 114.20px 118.35px,#0048ff 118.35px 120.43px,#0045ff 120.43px 122.51px,#003cff 122.51px 124.58px,#0044ff 124.58px 126.66px,#0032ff 126.66px 128.74px,#0033ff 128.74px 130.81px,#0035ff 130.81px 132.89px,#0055ff 132.89px 134.97px,#004aff 134.97px 137.04px,#0060ff 137.04px 139.12px,#0048ff 139.12px 141.19px,#006dff 141.19px 143.27px,#0057ff 143.27px 145.35px,#0071ff 145.35px 147.42px,#004cff 147.42px 149.50px)"></div>
<div class="c" style="left:81.59px;width:6.43px;background:linear-gradient(#00b8ff 0.00px 2.08px,#00b2ff 2.08px 4.15px,#00ccff 4.15px 6.23px,#00b9ff 6.23px 8.31px,#00d0ff 8.31px 10.38px,#00caff 10.38px 12.46px,#00d6ff 12.46px 14.53px,#00b5ff 14.53px 16.61px,#00bdff 16.61px 18.69px,#009eff 18.69px 20.76px,#00b9ff 20.76px 22.84px,#0088ff 22.84px 24.92px,#0086ff 24.92px 26.99px,#0084ff 26.99px 29.07px,#0082ff 29.07px 31.15px,#0074ff 31.15px 33.22px,#0086ff 33.22px 35.30px,#006eff 35.30px 37.38px,#0085ff 37.38px 39.45px,#007dff 39.45px 41.53px,#0090ff 41.53px 43.60px,#006fff 43.60px 45.68px,#0084ff 45.68px 47.76px,#007bff 47.76px 49.83px,#008fff 49.83px 51.91px,#0087ff 51.91px 53.99px,#0099ff 53.99px 56.06px,#0094ff 56.06px 58.14px,#00a9ff 58.14px 60.22px,#00a1ff 60.22px 62.29px,#00b9ff 62.29px 64.37px,#009aff 64.37px 66.44px,#00a5ff 66.44px 68.52px,#0069ff 68.52px 70.60px,#0082ff 70.60px 72.67px,#0055ff 72.67px 74.75px,#0062ff 74.75px 76.83px,#0045ff 76.83px 78.90px,#005dff 78.90px 80.98px,#003fff 80.98px 83.06px,#004aff 83.06px 85.13px,#003eff 85.13px 87.21px,#0051ff 87.21px 89.28px,#003bff 89.28px 91.36px,#0038ff 91.36px 93.44px,#002dff 93.44px 95.51px,#0047ff 95.51px 97.59px,#0032ff 97.59px 99.67px,#0057ff 99.67px 101.74px,#003fff 101.74px 103.82px,#0062ff 103.82px 105.90px,#0055ff 105.90px 107.97px,#007cff 107.97px 110.05px,#004bff 110.05px 112.12px,#0064ff 112.12px 114.20px,#0052ff 114.20px 116.28px,#005cff 116.28px 118.35px,#0040ff 118.35px 120.43px,#0057ff 120.43px 122.51px,#003fff 122.51px 124.58px,#0047ff 124.58px 126.66px,#003eff 126.66px 128.74px,#0038ff 128.74px 130.81px,#0032ff 130.81px 132.89px,#0053ff 132.89px 134.97px,#0045ff 134.97px 137.04px,#0061ff 137.04px 139.12px,#004bff 139.12px 141.19px,#0065ff 141.19px 143.27px,#0056ff 143.27px 145.35px,#0060ff 145.35px 147.42px,#004aff 147.42px 149.50px)"></div>
<div class="c" style="left:87.41px;width:6.43px;background:linear-gradient(#0069ff 0.00px 2.08px,#004bff 2.08px 4.15px,#007fff 4.15px 6.23px,#0074ff 6.23px 8.31px,#008eff 8.31px 10.38px,#0067ff 10.38px 12.46px,#006aff 12.46px 14.53px,#0044ff 14.53px 16.61px,#0048ff 16.61px 18.69px,#000dff 18.69px 20.76px,#0030ff 20.76px 22.84px,#000cff 22.84px 24.92px,#0019ff 24.92px 26.99px,#0000f6 26.99px 29.07px,#0012ff 29.07px 31.15px,#0000e6 31.15px 33.22px,#0005ff 33.22px 35.30px,#0000ed 35.30px 37.38px,#000bff 37.38px 39.45px,#000aff 39.45px 41.53px,#001dff 41.53px 43.60px,#0019ff 43.60px 45.68px,#0021ff 45.68px 47.76px,#0015ff 47.76px 49.83px,#0037ff 49.83px 51.91px,#0044ff 51.91px 53.99px,#005eff 53.99px 56.06px,#0069ff 56.06px 58.14px,#007dff 58.14px 60.22px,#0088ff 60.22px 62.29px,#00a6ff 62.29px 64.37px,#0082ff 64.37px 66.44px,#008eff 66.44px 68.52px,#006fff 68.52px 70.60px,#009eff 70.60px 72.67px,#0079ff 72.67px 74.75px,#007fff 74.75px 76.83px,#0062ff 76.83px 78.90px,#006dff 78.90px 80.98px,#005aff 80.98px 83.06px,#0068ff 83.06px 85.13px,#0049ff 85.13px 87.21px,#0055ff 87.21px 89.28px,#0036ff 89.28px 91.36px,#0050ff 91.36px 93.44px,#0041ff 93.44px 95.51px,#005bff 95.51px 97.59px,#004fff 97.59px 99.67px,#0077ff 99.67px 101.74px,#0052ff 101.74px 103.82px,#0085ff 103.82px 105.90px,#0076ff 105.90px 107.97px,#007eff 107.97px 110.05px,#005dff 110.05px 112.12px,#0082ff 112.12px 114.20px,#0066ff 114.20px 116.28px,#006cff 116.28px 118.35px,#005dff 118.35px 120.43px,#0064ff 120.43px 122.51px,#0043ff 122.51px 124.58px,#0064ff 124.58px 126.66px,#0040ff 126.66px 128.74px,#0053ff 128.74px 130.81px,#0032ff 130.81px 132.89px,#005aff 132.89px 134.97px,#0046ff 134.97px 137.04px,#0066ff 137.04px 139.12px,#0054ff 139.12px 141.19px,#0066ff 141.19px 143.27px,#0068ff 143.27px 145.35px,#0086ff 145.35px 147.42px,#006eff 147.42px 149.50px)"></div>
<div class="c" style="left:93.24px;width:6.43px;background:linear-gradient(#0080ff 0.00px 2.08px,#0076ff 2.08px 4.15px,#0089ff 4.15px 6.23px,#0082ff 6.23px 8.31px,#00a2ff 8.31px 10.38px,#007cff 10.38px 12.46px,#009eff 12.46px 14.53px,#0070ff 14.53px 16.61px,#008dff 16.61px 18.69px,#0068ff 18.69px 20.76px,#006cff 20.76px 22.84px,#0048ff 22.84px 24.92px,#0061ff 24.92px 26.99px,#003fff 26.99px 29.07px,#005fff 29.07px 31.15px,#0049ff 31.15px 33.22px,#0059ff 33.22px 35.30px,#0038ff 35.30px 37.38px,#006aff 37.38px 39.45px,#004bff 39.45px 41.53px,#0074ff 41.53px 43.60px,#0047ff 43.60px 45.68px,#005eff 45.68px 47.76px,#0052ff 47.76px 49.83px,#007cff 49.83px 51.91px,#0073ff 51.91px 53.99px,#0082ff 53.99px 56.06px,#0081ff 56.06px 58.14px,#009aff 58.14px 60.22px,#007fff 60.22px 62.29px,#00a5ff 62.29px 64.37px,#008fff 64.37px 66.44px,#008eff 66.44px 68.52px,#0085ff 68.52px 70.60px,#008dff 70.60px 72.67px,#006aff 72.67px 74.75px,#007bff 74.75px 76.83px,#005eff 76.83px 78.90px,#0073ff 78.90px 80.98px,#0063ff 80.98px 83.06px,#007cff 83.06px 85.13px,#004eff 85.13px 87.21px,#0075ff 87.21px 89.28px,#0057ff 89.28px 91.36px,#006bff 91.36px 93.44px,#005eff 93.44px 95.51px,#007fff 95.51px 97.59px,#008fff 97.59px 99.67px,#00a7ff 99.67px 101.74px,#00a5ff 101.74px 103.82px,#00b1ff 103.82px 105.90px,#00b6ff 105.90px 107.97px,#00c7ff 107.97px 110.05px,#00c9ff 110.05px 112.12px,#00c2ff 112.12px 114.20px,#009fff 114.20px 116.28px,#00acff 116.28px 118.35px,#0081ff 118.35px 120.43px,#007fff 120.43px 122.51px,#006eff 122.51px 124.58px,#0077ff 124.58px 126.66px,#0060ff 126.66px 128.74px,#0074ff 128.74px 130.81px,#0055ff 130.81px 132.89px,#006cff 132.89px 134.97px,#0061ff 134.97px 137.04px,#006fff 137.04px 139.12px,#0069ff 139.12px 141.19px,#008bff 141.19px 143.27px,#007aff 143.27px 145.35px,#0096ff 145.35px 147.42px,#0071ff 147.42px 149.50px)"></div>
<div class="c" style="left:99.07px;width:6.43px;background:linear-gradient(#00bbff 0.00px 2.08px,#00b9ff 2.08px 4.15px,#00c1ff 4.15px 6.23px,#00bbff 6.23px 8.31px,#00d7ff 8.31px 10.38px,#00c6ff 10.38px 12.46px,#00caff 12.46px 14.53px,#00baff 14.53px 16.61px,#00c1ff 16.61px 18.69px,#00a3ff 18.69px 20.76px,#00b7ff 20.76px 22.84px,#0082ff 22.84px 24.92px,#008fff 24.92px 26.99px,#006bff 26.99px 29.07px,#007aff 29.07px 31.15px,#0076ff 31.15px 33.22px,#0093ff 33.22px 35.30px,#0078ff 35.30px 37.38px,#008eff 37.38px 39.45px,#006cff 39.45px 41.53px,#008eff 41.53px 43.60px,#0073ff 43.60px 45.68px,#0091ff 45.68px 47.76px,#0081ff 47.76px 49.83px,#0091ff 49.83px 51.91px,#0088ff 51.91px 53.99px,#009aff 53.99px 56.06px,#0086ff 56.06px 58.14px,#00a9ff 58.14px 60.22px,#008bff 60.22px 62.29px,#00aeff 62.29px 64.37px,#0095ff 64.37px 66.44px,#00a7ff 66.44px 68.52px,#0086ff 68.52px 70.60px,#0097ff 70.60px 72.67px,#0070ff 72.67px 74.75px,#0080ff 74.75px 76.83px,#0056ff 76.83px 78.90px,#0067ff 78.90px 80.98px,#0041ff 80.98px 83.06px,#0060ff 83.06px 85.13px,#0035ff 85.13px 87.21px,#003bff 87.21px 89.28px,#002eff 89.28px 91.36px,#002cff 91.36px 93.44px,#0010ff 93.44px 95.51px,#001eff 95.51px 97.59px,#0007ff 97.59px 99.67px,#001bff 99.67px 101.74px,#0002ff 101.74px 103.82px,#002aff 103.82px 105.90px,#000eff 105.90px 107.97px,#0022ff 107.97px 110.05px,#0019ff 110.05px 112.12px,#0028ff 112.12px 114.20px,#001dff 114.20px 116.28px,#0038ff 116.28px 118.35px,#0021ff 118.35px 120.43px,#0033ff 120.43px 122.51px,#0027ff 122.51px 124.58px,#0037ff 124.58px 126.66px,#003aff 126.66px 128.74px,#003cff 128.74px 130.81px,#002dff 130.81px 132.89px,#0059ff 132.89px 134.97px,#004eff 134.97px 137.04px,#0060ff 137.04px 139.12px,#003fff 139.12px 141.19px,#006aff 141.19px 143.27px,#005dff 143.27px 145.35px,#0071ff 145.35px 147.42px,#0057ff 147.42px 149.50px)"></div>
<div class="c" style="left:104.90px;width:6.43px;background:linear-gradient(#0083ff 0.00px 2.08px,#008bff 2.08px 4.15px,#009bff 4.15px 6.23px,#00a1ff 6.23px 8.31px,#00d8ff 8.31px 10.38px,#00beff 10.38px 12.46px,#00cdff 12.46px 14.53px,#00a4ff 14.53px 16.61px,#00acff 16.61px 18.69px,#0072ff 18.69px 20.76px,#0086ff 20.76px 22.84px,#0063ff 22.84px 24.92px,#006bff 24.92px 26.99px,#0059ff 26.99px 29.07px,#0068ff 29.07px 31.15px,#0041ff 31.15px 33.22px,#005aff 33.22px 35.30px,#003fff 35.30px 37.38px,#0053ff 37.38px 39.45px,#0041ff 39.45px 41.53px,#0052ff 41.53px 43.60px,#004aff 43.60px 45.68px,#0064ff 45.68px 47.76px,#0057ff 47.76px 49.83px,#007bff 49.83px 51.91px,#006cff 51.91px 53.99px,#0089ff 53.99px 56.06px,#0077ff 56.06px 58.14px,#0086ff 58.14px 60.22px,#0084ff 60.22px 62.29px,#00a7ff 62.29px 64.37px,#0087ff 64.37px 66.44px,#0090ff 66.44px 68.52px,#006cff 68.52px 70.60px,#006fff 70.60px 72.67px,#0058ff 72.67px 74.75px,#0070ff 74.75px 76.83px,#003dff 76.83px 78.90px,#0067ff 78.90px 80.98px,#0042ff 80.98px 83.06px,#0055ff 83.06px 85.13px,#0034ff 85.13px 87.21px,#004fff 87.21px 89.28px,#0023ff 89.28px 91.36px,#0043ff 91.36px 93.44px,#002fff 93.44px 95.51px,#003cff 95.51px 97.59px,#0033ff 97.59px 99.67px,#005aff 99.67px 101.74px,#0048ff 101.74px 103.82px,#006cff 103.82px 105.90px,#005dff 105.90px 107.97px,#0088ff 107.97px 110.05px,#007cff 110.05px 112.12px,#007fff 112.12px 114.20px,#0062ff 114.20px 116.28px,#006bff 116.28px 118.35px,#0050ff 118.35px 120.43px,#005fff 120.43px 122.51px,#0047ff 122.51px 124.58px,#0065ff 124.58px 126.66px,#003aff 126.66px 128.74px,#0056ff 128.74px 130.81px,#0042ff 130.81px 132.89px,#004bff 132.89px 134.97px,#0053ff 134.97px 137.04px,#0056ff 137.04px 139.12px,#0049ff 139.12px 141.19px,#0062ff 141.19px 143.27px,#0058ff 143.27px 145.35px,#0074ff 145.35px 147.42px,#005dff 147.42px 149.50px)"></div>
<div class="c" style="left:110.72px;width:6.43px;background:linear-gradient(#0091ff 0.00px 2.08px,#0071ff 2.08px 4.15px,#008fff 4.15px 6.23px,#0088ff 6.23px 8.31px,#00a7ff 8.31px 10.38px,#0081ff 10.38px 12.46px,#0094ff 12.46px 14.53px,#0073ff 14.53px 16.61px,#0085ff 16.61px 18.69px,#0075ff 18.69px 20.76px,#0086ff 20.76px 22.84px,#0069ff 22.84px 24.92px,#0066ff 24.92px 26.99px,#005eff 26.99px 29.07px,#0064ff 29.07px 31.15px,#0047ff 31.15px 33.22px,#0060ff 33.22px 35.30px,#004aff 35.30px 37.38px,#0059ff 37.38px 39.45px,#0040ff 39.45px 41.53px,#0063ff 41.53px 43.60px,#0046ff 43.60px 45.68px,#0067ff 45.68px 47.76px,#0052ff 47.76px 49.83px,#007eff 49.83px 51.91px,#0073ff 51.91px 53.99px,#0091ff 53.99px 56.06px,#0097ff 56.06px 58.14px,#00abff 58.14px 60.22px,#0091ff 60.22px 62.29px,#00c1ff 62.29px 64.37px,#009dff 64.37px 66.44px,#00a8ff 66.44px 68.52px,#0089ff 68.52px 70.60px,#00a9ff 70.60px 72.67px,#008bff 72.67px 74.75px,#008eff 74.75px 76.83px,#0082ff 76.83px 78.90px,#0091ff 78.90px 80.98px,#0075ff 80.98px 83.06px,#007bff 83.06px 85.13px,#0068ff 85.13px 87.21px,#0085ff 87.21px 89.28px,#0059ff 89.28px 91.36px,#0071ff 91.36px 93.44px,#0059ff 93.44px 95.51px,#0074ff 95.51px 97.59px,#0063ff 97.59px 99.67px,#008dff 99.67px 101.74px,#0078ff 101.74px 103.82px,#0084ff 103.82px 105.90px,#0078ff 105.90px 107.97px,#007aff 107.97px 110.05px,#005fff 110.05px 112.12px,#0074ff 112.12px 114.20px,#006bff 114.20px 116.28px,#0076ff 116.28px 118.35px,#0055ff 118.35px 120.43px,#0077ff 120.43px 122.51px,#006dff 122.51px 124.58px,#0089ff 124.58px 126.66px,#007eff 126.66px 128.74px,#00abff 128.74px 130.81px,#0087ff 130.81px 132.89px,#00b4ff 132.89px 134.97px,#00a9ff 134.97px 137.04px,#00c5ff 137.04px 139.12px,#00abff 139.12px 141.19px,#00bfff 141.19px 143.27px,#0099ff 143.27px 145.35px,#00b2ff 145.35px 147.42px,#0080ff 147.42px 149.50px)"></div>
<div class="c" style="left:116.55px;width:6.43px;background:linear-gradient(#009eff 0.00px 2.08px,#00a9ff 2.08px 4.15px,#00beff 4.15px 6.23px,#00a8ff 6.23px 8.31px,#00cbff 8.31px 10.38px,#00baff 10.38px 12.46px,#00aeff 12.46px 14.53px,#009cff 14.53px 16.61px,#0075ff 16.61px 18.69px,#0057ff 18.69px 22.84px,#0030ff 22.84px 24.92px,#0043ff 24.92px 26.99px,#0023ff 26.99px 29.07px,#001fff 29.07px 31.15px,#001cff 31.15px 33.22px,#0037ff 33.22px 35.30px,#0023ff 35.30px 37.38px,#003cff 37.38px 39.45px,#001bff 39.45px 41.53px,#0032ff 41.53px 43.60px,#002dff 43.60px 45.68px,#0055ff 45.68px 47.76px,#0050ff 47.76px 49.83px,#0069ff 49.83px 51.91px,#0054ff 51.91px 53.99px,#008cff 53.99px 56.06px,#0084ff 56.06px 58.14px,#009bff 58.14px 60.22px,#0092ff 60.22px 62.29px,#00c2ff 62.29px 64.37px,#00a8ff 64.37px 66.44px,#00b0ff 66.44px 68.52px,#0092ff 68.52px 70.60px,#006dff 70.60px 72.67px,#004fff 72.67px 74.75px,#006cff 74.75px 76.83px,#0051ff 76.83px 78.90px,#0061ff 78.90px 80.98px,#003bff 80.98px 83.06px,#0056ff 83.06px 85.13px,#0035ff 85.13px 87.21px,#004cff 87.21px 89.28px,#0026ff 89.28px 91.36px,#0043ff 91.36px 93.44px,#002bff 93.44px 95.51px,#003cff 95.51px 97.59px,#0029ff 97.59px 99.67px,#0058ff 99.67px 101.74px,#0048ff 101.74px 103.82px,#0064ff 103.82px 105.90px,#0047ff 105.90px 107.97px,#0068ff 107.97px 110.05px,#0059ff 110.05px 112.12px,#005eff 112.12px 114.20px,#0048ff 114.20px 116.28px,#005aff 116.28px 118.35px,#0038ff 118.35px 120.43px,#0043ff 120.43px 122.51px,#002cff 122.51px 124.58px,#003aff 124.58px 126.66px,#001dff 126.66px 128.74px,#002eff 128.74px 130.81px,#002cff 130.81px 132.89px,#0041ff 132.89px 134.97px,#0027ff 134.97px 137.04px,#0038ff 137.04px 139.12px,#0024ff 139.12px 141.19px,#0054ff 141.19px 143.27px,#003eff 143.27px 145.35px,#0051ff 145.35px 147.42px,#0044ff 147.42px 149.50px)"></div>
<div class="c" style="left:122.38px;width:6.43px;background:linear-gradient(#009fff 0.00px 2.08px,#0094ff 2.08px 4.15px,#00b4ff 4.15px 6.23px,#0091ff 6.23px 8.31px,#00b4ff 8.31px 10.38px,#00a1ff 10.38px 12.46px,#00afff 12.46px 14.53px,#0097ff 14.53px 16.61px,#00a2ff 16.61px 18.69px,#008aff 18.69px 20.76px,#0092ff 20.76px 22.84px,#007eff 22.84px 24.92px,#008aff 24.92px 26.99px,#006fff 26.99px 29.07px,#0081ff 29.07px 31.15px,#006cff 31.15px 33.22px,#0094ff 33.22px 35.30px,#0075ff 35.30px 37.38px,#0096ff 37.38px 39.45px,#007eff 39.45px 43.60px,#0081ff 43.60px 45.68px,#008bff 45.68px 47.76px,#0072ff 47.76px 49.83px,#0089ff 49.83px 51.91px,#0087ff 51.91px 53.99px,#0099ff 53.99px 56.06px,#008fff 56.06px 58.14px,#00aeff 58.14px 60.22px,#00a4ff 60.22px 62.29px,#00b6ff 62.29px 64.37px,#00acff 64.37px 66.44px,#00a2ff 66.44px 68.52px,#0092ff 68.52px 70.60px,#009cff 70.60px 72.67px,#0089ff 72.67px 74.75px,#0099ff 74.75px 76.83px,#0086ff 76.83px 78.90px,#0095ff 78.90px 80.98px,#006aff 80.98px 83.06px,#0088ff 83.06px 85.13px,#0077ff 85.13px 87.21px,#0089ff 87.21px 89.28px,#007fff 89.28px 91.36px,#0087ff 91.36px 93.44px,#007dff 93.44px 95.51px,#0098ff 95.51px 97.59px,#0093ff 97.59px 99.67px,#009bff 99.67px 101.74px,#0096ff 101.74px 103.82px,#00a3ff 103.82px 105.90px,#0095ff 105.90px 107.97px,#00abff 107.97px 110.05px,#0097ff 110.05px 112.12px,#0093ff 112.12px 114.20px,#0082ff 114.20px 116.28px,#0087ff 116.28px 118.35px,#0076ff 118.35px 120.43px,#008cff 120.43px 122.51px,#0073ff 122.51px 124.58px,#008aff 124.58px 126.66px,#0077ff 126.66px 128.74px,#0085ff 128.74px 130.81px,#007bff 130.81px 132.89px,#0090ff 132.89px 134.97px,#006eff 134.97px 137.04px,#0091ff 137.04px 139.12px,#0080ff 139.12px 141.19px,#009eff 141.19px 143.27px,#0098ff 143.27px 145.35px,#009fff 145.35px 147.42px,#009cff 147.42px 149.50px)"></div>
<div class="c" style="left:128.21px;width:6.43px;background:linear-gradient(#0079ff 0.00px 2.08px,#005eff 2.08px 4.15px,#007aff 4.15px 6.23px,#006eff 6.23px 8.31px,#008cff 8.31px 10.38px,#0074ff 10.38px 12.46px,#0070ff 12.46px 14.53px,#0053ff 14.53px 16.61px,#0061ff 16.61px 18.69px,#0042ff 18.69px 20.76px,#0052ff 20.76px 22.84px,#003aff 22.84px 24.92px,#003dff 24.92px 26.99px,#002fff 26.99px 29.07px,#003cff 29.07px 31.15px,#001aff 31.15px 33.22px,#003aff 33.22px 35.30px,#001aff 35.30px 37.38px,#0036ff 37.38px 39.45px,#0020ff 39.45px 41.53px,#004cff 41.53px 43.60px,#002fff 43.60px 45.68px,#0047ff 45.68px 47.76px,#004fff 47.76px 49.83px,#005cff 49.83px 51.91px,#004fff 51.91px 53.99px,#0061ff 53.99px 56.06px,#0055ff 56.06px 58.14px,#0070ff 58.14px 60.22px,#006fff 60.22px 62.29px,#0090ff 62.29px 64.37px,#0077ff 64.37px 66.44px,#0087ff 66.44px 68.52px,#0071ff 68.52px 70.60px,#006dff 70.60px 72.67px,#0057ff 72.67px 74.75px,#0068ff 74.75px 76.83px,#0049ff 76.83px 78.90px,#006fff 78.90px 80.98px,#003fff 80.98px 83.06px,#0055ff 83.06px 85.13px,#0047ff 85.13px 87.21px,#004dff 87.21px 89.28px,#003aff 89.28px 91.36px,#005eff 91.36px 93.44px,#004cff 93.44px 95.51px,#0060ff 95.51px 97.59px,#004bff 97.59px 99.67px,#006bff 99.67px 101.74px,#0060ff 101.74px 103.82px,#0075ff 103.82px 105.90px,#0061ff 105.90px 107.97px,#007dff 107.97px 110.05px,#007bff 110.05px 112.12px,#0078ff 112.12px 114.20px,#004dff 114.20px 116.28px,#0066ff 116.28px 118.35px,#003fff 118.35px 120.43px,#0049ff 120.43px 122.51px,#003eff 122.51px 124.58px,#0044ff 124.58px 126.66px,#001dff 126.66px 128.74px,#003eff 128.74px 130.81px,#0022ff 130.81px 132.89px,#003dff 132.89px 134.97px,#002aff 134.97px 137.04px,#004bff 137.04px 139.12px,#0037ff 139.12px 141.19px,#0059ff 141.19px 143.27px,#0042ff 143.27px 145.35px,#0058ff 145.35px 147.42px,#003cff 147.42px 149.50px)"></div>
<div class="c" style="left:134.03px;width:6.43px;background:linear-gradient(#004cff 0.00px 2.08px,#0040ff 2.08px 4.15px,#0060ff 4.15px 6.23px,#0050ff 6.23px 8.31px,#0060ff 8.31px 10.38px,#0056ff 10.38px 12.46px,#006dff 12.46px 14.53px,#003fff 14.53px 16.61px,#0055ff 16.61px 18.69px,#0040ff 18.69px 20.76px,#004fff 20.76px 22.84px,#0032ff 22.84px 24.92px,#0045ff 24.92px 26.99px,#002dff 26.99px 29.07px,#002eff 29.07px 31.15px,#001eff 31.15px 33.22px,#0024ff 33.22px 35.30px,#0019ff 35.30px 37.38px,#0011ff 37.38px 39.45px,#0001ff 39.45px 41.53px,#0027ff 41.53px 43.60px,#0008ff 43.60px 45.68px,#0038ff 45.68px 47.76px,#002fff 47.76px 49.83px,#0048ff 49.83px 51.91px,#0031ff 51.91px 53.99px,#0046ff 53.99px 56.06px,#0043ff 56.06px 58.14px,#005eff 58.14px 62.29px,#0073ff 62.29px 64.37px,#0042ff 64.37px 66.44px,#0065ff 66.44px 68.52px,#004fff 68.52px 70.60px,#0060ff 70.60px 72.67px,#0031ff 72.67px 74.75px,#004aff 74.75px 76.83px,#004dff 76.83px 78.90px,#0061ff 78.90px 80.98px,#0042ff 80.98px 83.06px,#005dff 83.06px 85.13px,#003bff 85.13px 87.21px,#0048ff 87.21px 89.28px,#0038ff 89.28px 91.36px,#002cff 91.36px 93.44px,#002fff 93.44px 95.51px,#0041ff 95.51px 97.59px,#0046ff 97.59px 99.67px,#004eff 99.67px 101.74px,#004aff 101.74px 103.82px,#005bff 103.82px 105.90px,#0048ff 105.90px 107.97px,#0075ff 107.97px 110.05px,#0057ff 110.05px 112.12px,#005dff 112.12px 114.20px,#0045ff 114.20px 116.28px,#0042ff 116.28px 118.35px,#0027ff 118.35px 120.43px,#0046ff 120.43px 122.51px,#0024ff 122.51px 124.58px,#003bff 124.58px 126.66px,#0023ff 126.66px 128.74px,#003bff 128.74px 130.81px,#0022ff 130.81px 132.89px,#0046ff 132.89px 134.97px,#002fff 134.97px 137.04px,#0047ff 137.04px 139.12px,#0036ff 139.12px 141.19px,#0055ff 141.19px 143.27px,#0046ff 143.27px 145.35px,#005aff 145.35px 147.42px,#004cff 147.42px 149.50px)"></div>
<div class="c" style="left:139.86px;width:6.43px;background:linear-gradient(#0083ff 0.00px 2.08px,#0081ff 2.08px 4.15px,#0088ff 4.15px 8.31px,#00a4ff 8.31px 10.38px,#0095ff 10.38px 12.46px,#00b1ff 12.46px 14.53px,#008dff 14.53px 16.61px,#00a5ff 16.61px 18.69px,#0083ff 18.69px 20.76px,#0098ff 20.76px 22.84px,#006bff 22.84px 24.92px,#008fff 24.92px 26.99px,#0077ff 26.99px 29.07px,#008aff 29.07px 31.15px,#007bff 31.15px 33.22px,#0080ff 33.22px 35.30px,#0077ff 35.30px 37.38px,#0083ff 37.38px 39.45px,#007bff 39.45px 41.53px,#0086ff 41.53px 43.60px,#006dff 43.60px 45.68px,#008fff 45.68px 47.76px,#006bff 47.76px 49.83px,#009dff 49.83px 51.91px,#0093ff 51.91px 53.99px,#00bbff 53.99px 56.06px,#00a9ff 56.06px 58.14px,#00b8ff 58.14px 60.22px,#009eff 60.22px 62.29px,#00b4ff 62.29px 64.37px,#00a1ff 64.37px 66.44px,#00a9ff 66.44px 68.52px,#007cff 68.52px 70.60px,#007aff 70.60px 72.67px,#003eff 72.67px 74.75px,#0047ff 74.75px 76.83px,#002dff 76.83px 78.90px,#0044ff 78.90px 80.98px,#002fff 80.98px 83.06px,#0035ff 83.06px 85.13px,#0019ff 85.13px 87.21px,#0021ff 87.21px 89.28px,#000fff 89.28px 91.36px,#001dff 91.36px 93.44px,#0005ff 93.44px 97.59px,#000bff 97.59px 99.67px,#000aff 99.67px 101.74px,#0000ef 101.74px 103.82px,#0023ff 103.82px 105.90px,#0001ff 105.90px 107.97px,#0012ff 107.97px 110.05px,#0006ff 110.05px 112.12px,#001bff 112.12px 114.20px,#000aff 114.20px 116.28px,#002cff 116.28px 118.35px,#0019ff 118.35px 120.43px,#001dff 120.43px 122.51px,#0012ff 122.51px 124.58px,#0026ff 124.58px 126.66px,#0010ff 126.66px 128.74px,#0029ff 128.74px 130.81px,#0024ff 130.81px 132.89px,#002eff 132.89px 134.97px,#0024ff 134.97px 137.04px,#003aff 137.04px 139.12px,#0027ff 139.12px 141.19px,#0037ff 141.19px 143.27px,#0030ff 143.27px 145.35px,#003fff 145.35px 147.42px,#0034ff 147.42px 149.50px)"></div>
<div class="c" style="left:145.69px;width:6.43px;background:linear-gradient(#007cff 0.00px 2.08px,#0080ff 2.08px 4.15px,#0086ff 4.15px 6.23px,#007bff 6.23px 8.31px,#008dff 8.31px 10.38px,#0073ff 10.38px 12.46px,#0078ff 12.46px 14.53px,#0066ff 14.53px 16.61px,#0074ff 16.61px 18.69px,#0058ff 18.69px 20.76px,#005dff 20.76px 22.84px,#0046ff 22.84px 24.92px,#0052ff 24.92px 26.99px,#0044ff 26.99px 29.07px,#003bff 29.07px 31.15px,#003eff 31.15px 35.30px,#002fff 35.30px 37.38px,#0046ff 37.38px 39.45px,#0025ff 39.45px 41.53px,#004aff 41.53px 43.60px,#0039ff 43.60px 45.68px,#0050ff 45.68px 47.76px,#0040ff 47.76px 49.83px,#005aff 49.83px 51.91px,#005bff 51.91px 53.99px,#0068ff 53.99px 56.06px,#0061ff 56.06px 58.14px,#0083ff 58.14px 60.22px,#0065ff 60.22px 62.29px,#008eff 62.29px 64.37px,#0062ff 64.37px 66.44px,#0086ff 66.44px 68.52px,#0069ff 68.52px 70.60px,#009bff 70.60px 72.67px,#0082ff 72.67px 74.75px,#009bff 74.75px 76.83px,#0089ff 76.83px 78.90px,#00a3ff 78.90px 80.98px,#0074ff 80.98px 83.06px,#008eff 83.06px 85.13px,#007dff 85.13px 87.21px,#0092ff 87.21px 89.28px,#0079ff 89.28px 91.36px,#0087ff 91.36px 93.44px,#0075ff 93.44px 95.51px,#0087ff 95.51px 97.59px,#0086ff 97.59px 99.67px,#00a9ff 99.67px 101.74px,#0090ff 101.74px 103.82px,#009dff 103.82px 105.90px,#00a1ff 105.90px 107.97px,#00a6ff 107.97px 110.05px,#008eff 110.05px 112.12px,#00a4ff 112.12px 114.20px,#0079ff 114.20px 116.28px,#0086ff 116.28px 118.35px,#006fff 118.35px 120.43px,#008eff 120.43px 122.51px,#0095ff 122.51px 124.58px,#00a2ff 124.58px 126.66px,#008fff 126.66px 128.74px,#00b6ff 128.74px 130.81px,#00a6ff 130.81px 132.89px,#00bbff 132.89px 134.97px,#00a5ff 134.97px 137.04px,#00c0ff 137.04px 139.12px,#00abff 139.12px 141.19px,#00c2ff 141.19px 143.27px,#0098ff 143.27px 145.35px,#00b1ff 145.35px 147.42px,#008eff 147.42px 149.50px)"></div>
<div class="c" style="left:151.52px;width:6.43px;background:linear-gradient(#00c0ff 0.00px 2.08px,#00b0ff 2.08px 4.15px,#00cbff 4.15px 6.23px,#00c1ff 6.23px 8.31px,#00cdff 8.31px 10.38px,#00c0ff 10.38px 12.46px,#00bbff 12.46px 14.53px,#0098ff 14.53px 16.61px,#0095ff 16.61px 18.69px,#0062ff 18.69px 20.76px,#006dff 20.76px 22.84px,#0051ff 22.84px 24.92px,#0052ff 24.92px 26.99px,#0035ff 26.99px 29.07px,#0055ff 29.07px 31.15px,#0031ff 31.15px 33.22px,#0034ff 33.22px 35.30px,#0021ff 35.30px 37.38px,#0030ff 37.38px 39.45px,#0012ff 39.45px 41.53px,#0028ff 41.53px 43.60px,#001aff 43.60px 45.68px,#0030ff 45.68px 47.76px,#0023ff 47.76px 49.83px,#0040ff 49.83px 51.91px,#0042ff 51.91px 53.99px,#005fff 53.99px 56.06px,#0050ff 56.06px 58.14px,#0081ff 58.14px 60.22px,#0074ff 60.22px 62.29px,#0084ff 62.29px 64.37px,#0072ff 64.37px 66.44px,#0087ff 66.44px 68.52px,#005bff 68.52px 70.60px,#006cff 70.60px 72.67px,#0049ff 72.67px 74.75px,#0067ff 74.75px 76.83px,#005cff 76.83px 78.90px,#005eff 78.90px 80.98px,#006bff 80.98px 83.06px,#0070ff 83.06px 85.13px,#0066ff 85.13px 87.21px,#0089ff 87.21px 89.28px,#0074ff 89.28px 91.36px,#0084ff 91.36px 93.44px,#0062ff 93.44px 95.51px,#00a1ff 95.51px 97.59px,#00a3ff 97.59px 99.67px,#00c5ff 99.67px 101.74px,#00acff 101.74px 103.82px,#00c1ff 103.82px 105.90px,#00aeff 105.90px 107.97px,#00c6ff 107.97px 110.05px,#00a6ff 110.05px 112.12px,#00a2ff 112.12px 114.20px,#009aff 114.20px 116.28px,#0091ff 116.28px 118.35px,#0070ff 118.35px 120.43px,#0075ff 120.43px 122.51px,#005cff 122.51px 124.58px,#006bff 124.58px 126.66px,#0054ff 126.66px 128.74px,#005fff 128.74px 130.81px,#0052ff 130.81px 132.89px,#0074ff 132.89px 134.97px,#004eff 134.97px 137.04px,#0073ff 137.04px 139.12px,#0069ff 139.12px 141.19px,#007cff 141.19px 143.27px,#006eff 143.27px 145.35px,#0093ff 145.35px 147.42px,#0086ff 147.42px 149.50px)"></div>
<div class="c" style="left:157.34px;width:6.43px;background:linear-gradient(#00bfff 0.00px 2.08px,#00a2ff 2.08px 4.15px,#00d1ff 4.15px 6.23px,#00bcff 6.23px 8.31px,#00daff 8.31px 10.38px,#00c1ff 10.38px 12.46px,#00d2ff 12.46px 14.53px,#00adff 14.53px 16.61px,#00c1ff 16.61px 18.69px,#00a0ff 18.69px 20.76px,#00a9ff 20.76px 22.84px,#009aff 22.84px 24.92px,#00b1ff 24.92px 26.99px,#008cff 26.99px 29.07px,#0094ff 29.07px 31.15px,#0078ff 31.15px 33.22px,#008bff 33.22px 35.30px,#0072ff 35.30px 37.38px,#0093ff 37.38px 39.45px,#0074ff 39.45px 41.53px,#007bff 41.53px 43.60px,#0080ff 43.60px 45.68px,#0085ff 45.68px 47.76px,#0075ff 47.76px 49.83px,#009aff 49.83px 51.91px,#0088ff 51.91px 53.99px,#009bff 53.99px 56.06px,#0083ff 56.06px 58.14px,#00a6ff 58.14px 60.22px,#0099ff 60.22px 62.29px,#00b1ff 62.29px 64.37px,#008cff 64.37px 66.44px,#009eff 66.44px 68.52px,#0081ff 68.52px 70.60px,#0085ff 70.60px 72.67px,#004cff 72.67px 74.75px,#0069ff 74.75px 76.83px,#003cff 76.83px 78.90px,#0062ff 78.90px 80.98px,#0052ff 80.98px 83.06px,#0051ff 83.06px 85.13px,#0046ff 85.13px 87.21px,#0041ff 87.21px 89.28px,#0035ff 89.28px 91.36px,#004bff 91.36px 93.44px,#0032ff 93.44px 95.51px,#003bff 95.51px 97.59px,#0046ff 97.59px 99.67px,#0049ff 99.67px 101.74px,#0045ff 101.74px 103.82px,#0066ff 103.82px 105.90px,#004fff 105.90px 107.97px,#0060ff 107.97px 110.05px,#005bff 110.05px 112.12px,#0061ff 112.12px 114.20px,#0045ff 114.20px 116.28px,#004fff 116.28px 118.35px,#0048ff 118.35px 120.43px,#005aff 120.43px 122.51px,#0043ff 122.51px 124.58px,#0053ff 124.58px 126.66px,#0043ff 126.66px 128.74px,#0056ff 128.74px 130.81px,#003eff 130.81px 132.89px,#005bff 132.89px 134.97px,#004eff 134.97px 137.04px,#0053ff 137.04px 139.12px,#0052ff 139.12px 141.19px,#006eff 141.19px 143.27px,#004eff 143.27px 145.35px,#0075ff 145.35px 147.42px,#004bff 147.42px 149.50px)"></div>
<div class="c" style="left:163.17px;width:6.43px;background:linear-gradient(#00bcff 0.00px 2.08px,#00adff 2.08px 4.15px,#00bbff 4.15px 6.23px,#00a6ff 6.23px 8.31px,#00c2ff 8.31px 10.38px,#00afff 10.38px 12.46px,#00bbff 12.46px 14.53px,#008dff 14.53px 16.61px,#009aff 16.61px 18.69px,#007cff 18.69px 20.76px,#008eff 20.76px 22.84px,#0081ff 22.84px 24.92px,#0091ff 24.92px 26.99px,#0078ff 26.99px 29.07px,#007dff 29.07px 31.15px,#0067ff 31.15px 33.22px,#006dff 33.22px 35.30px,#0058ff 35.30px 37.38px,#0069ff 37.38px 39.45px,#004aff 39.45px 41.53px,#0072ff 41.53px 43.60px,#0055ff 43.60px 45.68px,#006dff 45.68px 47.76px,#0057ff 47.76px 49.83px,#0068ff 49.83px 51.91px,#0079ff 51.91px 53.99px,#0082ff 53.99px 56.06px,#007fff 56.06px 58.14px,#0091ff 58.14px 60.22px,#0078ff 60.22px 62.29px,#0086ff 62.29px 64.37px,#0081ff 64.37px 66.44px,#0084ff 66.44px 68.52px,#005dff 68.52px 70.60px,#005bff 70.60px 72.67px,#0045ff 72.67px 74.75px,#0055ff 74.75px 76.83px,#0042ff 76.83px 78.90px,#004dff 78.90px 80.98px,#002dff 80.98px 83.06px,#003cff 83.06px 85.13px,#001fff 85.13px 87.21px,#001eff 87.21px 89.28px,#0021ff 89.28px 91.36px,#001cff 91.36px 93.44px,#000fff 93.44px 95.51px,#0032ff 95.51px 97.59px,#0010ff 97.59px 99.67px,#002fff 99.67px 101.74px,#0028ff 101.74px 103.82px,#0041ff 103.82px 105.90px,#003aff 105.90px 107.97px,#0058ff 107.97px 110.05px,#0041ff 110.05px 112.12px,#0055ff 112.12px 114.20px,#004cff 114.20px 116.28px,#005cff 116.28px 118.35px,#0041ff 118.35px 120.43px,#005aff 120.43px 122.51px,#0047ff 122.51px 124.58px,#004cff 124.58px 126.66px,#003fff 126.66px 128.74px,#006fff 128.74px 130.81px,#0048ff 130.81px 132.89px,#004eff 132.89px 134.97px,#004bff 134.97px 137.04px,#0057ff 137.04px 139.12px,#0043ff 139.12px 141.19px,#0057ff 141.19px 143.27px,#0027ff 143.27px 145.35px,#0060ff 145.35px 147.42px,#004cff 147.42px 149.50px)"></div>
<div class="ov"></div></div>
<div class="cb" style="left:222.00px;top:20.75px;background:linear-gradient(#870000 0.000% 1.562%,#970000 1.562% 3.125%,#a70000 3.125% 4.688%,#b70000 4.688% 6.250%,#c70000 6.250% 7.812%,#d70000 7.812% 9.375%,#e70000 9.375% 10.938%,#f70000 10.938% 12.500%,#ff0800 12.500% 14.062%,#ff1800 14.062% 15.625%,#ff2800 15.625% 17.188%,#ff3800 17.188% 18.750%,#ff4800 18.750% 20.312%,#ff5800 20.312% 21.875%,#ff6800 21.875% 23.438%,#ff7800 23.438% 25.000%,#ff8700 25.000% 26.562%,#ff9700 26.562% 28.125%,#ffa700 28.125% 29.688%,#ffb700 29.688% 31.250%,#ffc700 31.250% 32.812%,#ffd700 32.812% 34.375%,#ffe700 34.375% 35.938%,#fff700 35.938% 37.500%,#f7ff08 37.500% 39.062%,#e7ff18 39.062% 40.625%,#d7ff28 40.625% 42.188%,#c7ff38 42.188% 43.750%,#b7ff48 43.750% 45.312%,#a7ff58 45.312% 46.875%,#97ff68 46.875% 48.438%,#87ff78 48.438% 50.000%,#78ff87 50.000% 51.562%,#68ff97 51.562% 53.125%,#58ffa7 53.125% 54.688%,#48ffb7 54.688% 56.250%,#38ffc7 56.250% 57.812%,#28ffd7 57.812% 59.375%,#18ffe7 59.375% 60.938%,#08fff7 60.938% 62.500%,#00f7ff 62.500% 64.062%,#00e7ff 64.062% 65.625%,#00d7ff 65.625% 67.188%,#00c7ff 67.188% 68.750%,#00b7ff 68.750% 70.312%,#00a7ff 70.312% 71.875%,#0097ff 71.875% 73.438%,#0087ff 73.438% 75.000%,#0078ff 75.000% 76.562%,#0068ff 76.562% 78.125%,#0058ff 78.125% 79.688%,#0048ff 79.688% 81.250%,#0038ff 81.250% 82.812%,#0028ff 82.812% 84.375%,#0018ff 84.375% 85.938%,#0008ff 85.938% 87.500%,#0000f7 87.500% 89.062%,#0000e7 89.062% 90.625%,#0000d7 90.625% 92.188%,#0000c7 92.188% 93.750%,#0000b7 93.750% 95.312%,#0000a7 95.312% 96.875%,#000097 96.875% 98.438%,#000087 98.438% 100.000%)"></div>
<div class="cb" style="left:514.00px;top:20.75px;background:linear-gradient(#870000 0.000% 1.562%,#970000 1.562% 3.125%,#a70000 3.125% 4.688%,#b70000 4.688% 6.250%,#c70000 6.250% 7.812%,#d70000 7.812% 9.375%,#e70000 9.375% 10.938%,#f70000 10.938% 12.500%,#ff0800 12.500% 14.062%,#ff1800 14.062% 15.625%,#ff2800 15.625% 17.188%,#ff3800 17.188% 18.750%,#ff4800 18.750% 20.312%,#ff5800 20.312% 21.875%,#ff6800 21.875% 23.438%,#ff7800 23.438% 25.000%,#ff8700 25.000% 26.562%,#ff9700 26.562% 28.125%,#ffa700 28.125% 29.688%,#ffb700 29.688% 31.250%,#ffc700 31.250% 32.812%,#ffd700 32.812% 34.375%,#ffe700 34.375% 35.938%,#fff700 35.938% 37.500%,#f7ff08 37.500% 39.062%,#e7ff18 39.062% 40.625%,#d7ff28 40.625% 42.188%,#c7ff38 42.188% 43.750%,#b7ff48 43.750% 45.312%,#a7ff58 45.312% 46.875%,#97ff68 46.875% 48.438%,#87ff78 48.438% 50.000%,#78ff87 50.000% 51.562%,#68ff97 51.562% 53.125%,#58ffa7 53.125% 54.688%,#48ffb7 54.688% 56.250%,#38ffc7 56.250% 57.812%,#28ffd7 57.812% 59.375%,#18ffe7 59.375% 60.938%,#08fff7 60.938% 62.500%,#00f7ff 62.500% 64.062%,#00e7ff 64.062% 65.625%,#00d7ff 65.625% 67.188%,#00c7ff 67.188% 68.750%,#00b7ff 68.750% 70.312%,#00a7ff 70.312% 71.875%,#0097ff 71.875% 73.438%,#0087ff 73.438% 75.000%,#0078ff 75.000% 76.562%,#0068ff 76.562% 78.125%,#0058ff 78.125% 79.688%,#0048ff 79.688% 81.250%,#0038ff 81.250% 82.812%,#0028ff 82.812% 84.375%,#0018ff 84.375% 85.938%,#0008ff 85.938% 87.500%,#0000f7 87.500% 89.062%,#0000e7 89.062% 90.625%,#0000d7 90.625% 92.188%,#0000c7 92.188% 93.750%,#0000b7 93.750% 95.312%,#0000a7 95.312% 96.875%,#000097 96.875% 98.438%,#000087 98.438% 100.000%)"></div>
<div class="cb" style="left:222.00px;top:228.25px;background:linear-gradient(#870000 0.000% 1.562%,#970000 1.562% 3.125%,#a70000 3.125% 4.688%,#b70000 4.688% 6.250%,#c70000 6.250% 7.812%,#d70000 7.812% 9.375%,#e70000 9.375% 10.938%,#f70000 10.938% 12.500%,#ff0800 12.500% 14.062%,#ff1800 14.062% 15.625%,#ff2800 15.625% 17.188%,#ff3800 17.188% 18.750%,#ff4800 18.750% 20.312%,#ff5800 20.312% 21.875%,#ff6800 21.875% 23.438%,#ff7800 23.438% 25.000%,#ff8700 25.000% 26.562%,#ff9700 26.562% 28.125%,#ffa700 28.125% 29.688%,#ffb700 29.688% 31.250%,#ffc700 31.250% 32.812%,#ffd700 32.812% 34.375%,#ffe700 34.375% 35.938%,#fff700 35.938% 37.500%,#f7ff08 37.500% 39.062%,#e7ff18 39.062% 40.625%,#d7ff28 40.625% 42.188%,#c7ff38 42.188% 43.750%,#b7ff48 43.750% 45.312%,#a7ff58 45.312% 46.875%,#97ff68 46.875% 48.438%,#87ff78 48.438% 50.000%,#78ff87 50.000% 51.562%,#68ff97 51.562% 53.125%,#58ffa7 53.125% 54.688%,#48ffb7 54.688% 56.250%,#38ffc7 56.250% 57.812%,#28ffd7 57.812% 59.375%,#18ffe7 59.375% 60.938%,#08fff7 60.938% 62.500%,#00f7ff 62.500% 64.062%,#00e7ff 64.062% 65.625%,#00d7ff 65.625% 67.188%,#00c7ff 67.188% 68.750%,#00b7ff 68.750% 70.312%,#00a7ff 70.312% 71.875%,#0097ff 71.875% 73.438%,#0087ff 73.438% 75.000%,#0078ff 75.000% 76.562%,#0068ff 76.562% 78.125%,#0058ff 78.125% 79.688%,#0048ff 79.688% 81.250%,#0038ff 81.250% 82.812%,#0028ff 82.812% 84.375%,#0018ff 84.375% 85.938%,#0008ff 85.938% 87.500%,#0000f7 87.500% 89.062%,#0000e7 89.062% 90.625%,#0000d7 90.625% 92.188%,#0000c7 92.188% 93.750%,#0000b7 93.750% 95.312%,#0000a7 95.312% 96.875%,#000097 96.875% 98.438%,#000087 98.438% 100.000%)"></div>
<div class="cb" style="left:514.00px;top:228.25px;background:linear-gradient(#870000 0.000% 1.562%,#970000 1.562% 3.125%,#a70000 3.125% 4.688%,#b70000 4.688% 6.250%,#c70000 6.250% 7.812%,#d70000 7.812% 9.375%,#e70000 9.375% 10.938%,#f70000 10.938% 12.500%,#ff0800 12.500% 14.062%,#ff1800 14.062% 15.625%,#ff2800 15.625% 17.188%,#ff3800 17.188% 18.750%,#ff4800 18.750% 20.312%,#ff5800 20.312% 21.875%,#ff6800 21.875% 23.438%,#ff7800 23.438% 25.000%,#ff8700 25.000% 26.562%,#ff9700 26.562% 28.125%,#ffa700 28.125% 29.688%,#ffb700 29.688% 31.250%,#ffc700 31.250% 32.812%,#ffd700 32.812% 34.375%,#ffe700 34.375% 35.938%,#fff700 35.938% 37.500%,#f7ff08 37.500% 39.062%,#e7ff18 39.062% 40.625%,#d7ff28 40.625% 42.188%,#c7ff38 42.188% 43.750%,#b7ff48 43.750% 45.312%,#a7ff58 45.312% 46.875%,#97ff68 46.875% 48.438%,#87ff78 48.438% 50.000%,#78ff87 50.000% 51.562%,#68ff97 51.562% 53.125%,#58ffa7 53.125% 54.688%,#48ffb7 54.688% 56.250%,#38ffc7 56.250% 57.812%,#28ffd7 57.812% 59.375%,#18ffe7 59.375% 60.938%,#08fff7 60.938% 62.500%,#00f7ff 62.500% 64.062%,#00e7ff 64.062% 65.625%,#00d7ff 65.625% 67.188%,#00c7ff 67.188% 68.750%,#00b7ff 68.750% 70.312%,#00a7ff 70.312% 71.875%,#0097ff 71.875% 73.438%,#0087ff 73.438% 75.000%,#0078ff 75.000% 76.562%,#0068ff 76.562% 78.125%,#0058ff 78.125% 79.688%,#0048ff 79.688% 81.250%,#0038ff 81.250% 82.812%,#0028ff 82.812% 84.375%,#0018ff 84.375% 85.938%,#0008ff 85.938% 87.500%,#0000f7 87.500% 89.062%,#0000e7 89.062% 90.625%,#0000d7 90.625% 92.188%,#0000c7 92.188% 93.750%,#0000b7 93.750% 95.312%,#0000a7 95.312% 96.875%,#000097 96.875% 98.438%,#000087 98.438% 100.000%)"></div>
<svg width="550" height="410" viewBox="0 0 550 410">
<text class="h" x="122.50" y="16.05" text-anchor="middle">Average RMS error of wind speed, m/s</text>
<text class="t" x="33.40" y="23.95" text-anchor="end">360</text>
<text class="t" x="33.40" y="42.64" text-anchor="end">315</text>
<text class="t" x="33.40" y="61.33" text-anchor="end">270</text>
<text class="t" x="33.40" y="80.01" text-anchor="end">225</text>
<text class="t" x="33.40" y="98.70" text-anchor="end">180</text>
<text class="t" x="33.40" y="117.39" text-anchor="end">135</text>
<text class="t" x="33.40" y="136.07" text-anchor="end">90</text>
<text class="t" x="33.40" y="154.76" text-anchor="end">45</text>
<text class="t" x="33.40" y="173.45" text-anchor="end">0</text>
<text class="t" x="61.31" y="183.45" text-anchor="middle">5</text>
<text class="t" x="90.45" y="183.45" text-anchor="middle">10</text>
<text class="t" x="119.59" y="183.45" text-anchor="middle">15</text>
<text class="t" x="148.72" y="183.45" text-anchor="middle">20</text>
<text class="t" x="177.86" y="183.45" text-anchor="middle">25</text>
<text class="t" x="207.00" y="183.45" text-anchor="middle">30</text>
<text class="l" x="122.50" y="196.55" text-anchor="middle">Wind speed, m/s</text>
<text class="yl" transform="translate(12.80,95.95) rotate(-90)" text-anchor="middle">Wind direction, deg.</text>
<line x1="238.00" x2="240.00" y1="154.57" y2="154.57" stroke="#262626" stroke-width="0.6"/>
<text class="t" x="243.60" y="157.77">0.02</text>
<line x1="238.00" x2="240.00" y1="135.91" y2="135.91" stroke="#262626" stroke-width="0.6"/>
<text class="t" x="243.60" y="139.11">0.04</text>
<line x1="238.00" x2="240.00" y1="117.24" y2="117.24" stroke="#262626" stroke-width="0.6"/>
<text class="t" x="243.60" y="120.44">0.06</text>
<line x1="238.00" x2="240.00" y1="98.58" y2="98.58" stroke="#262626" stroke-width="0.6"/>
<text class="t" x="243.60" y="101.78">0.08</text>
<line x1="238.00" x2="240.00" y1="79.92" y2="79.92" stroke="#262626" stroke-width="0.6"/>
<text class="t" x="243.60" y="83.12">0.1</text>
<line x1="238.00" x2="240.00" y1="61.25" y2="61.25" stroke="#262626" stroke-width="0.6"/>
<text class="t" x="243.60" y="64.45">0.12</text>
<line x1="238.00" x2="240.00" y1="42.59" y2="42.59" stroke="#262626" stroke-width="0.6"/>
<text class="t" x="243.60" y="45.79">0.14</text>
<line x1="238.00" x2="240.00" y1="23.92" y2="23.92" stroke="#262626" stroke-width="0.6"/>
<text class="t" x="243.60" y="27.12">0.16</text>
<text class="h" x="414.50" y="16.05" text-anchor="middle">Average RMS error of wind direction, deg.</text>
<text class="t" x="325.40" y="23.95" text-anchor="end">360</text>
<text class="t" x="325.40" y="42.64" text-anchor="end">315</text>
<text class="t" x="325.40" y="61.33" text-anchor="end">270</text>
<text class="t" x="325.40" y="80.01" text-anchor="end">225</text>
<text class="t" x="325.40" y="98.70" text-anchor="end">180</text>
<text class="t" x="325.40" y="117.39" text-anchor="end">135</text>
<text class="t" x="325.40" y="136.07" text-anchor="end">90</text>
<text class="t" x="325.40" y="154.76" text-anchor="end">45</text>
<text class="t" x="325.40" y="173.45" text-anchor="end">0</text>
<text class="t" x="353.31" y="183.45" text-anchor="middle">5</text>
<text class="t" x="382.45" y="183.45" text-anchor="middle">10</text>
<text class="t" x="411.59" y="183.45" text-anchor="middle">15</text>
<text class="t" x="440.72" y="183.45" text-anchor="middle">20</text>
<text class="t" x="469.86" y="183.45" text-anchor="middle">25</text>
<text class="t" x="499.00" y="183.45" text-anchor="middle">30</text>
<text class="l" x="414.50" y="196.55" text-anchor="middle">Wind speed, m/s</text>
<text class="yl" transform="translate(304.80,95.95) rotate(-90)" text-anchor="middle">Wind direction, deg.</text>
<line x1="530.00" x2="532.00" y1="158.75" y2="158.75" stroke="#262626" stroke-width="0.6"/>
<text class="t" x="535.60" y="161.95">0.4</text>
<line x1="530.00" x2="532.00" y1="129.04" y2="129.04" stroke="#262626" stroke-width="0.6"/>
<text class="t" x="535.60" y="132.24">0.6</text>
<line x1="530.00" x2="532.00" y1="99.33" y2="99.33" stroke="#262626" stroke-width="0.6"/>
<text class="t" x="535.60" y="102.53">0.8</text>
<line x1="530.00" x2="532.00" y1="69.62" y2="69.62" stroke="#262626" stroke-width="0.6"/>
<text class="t" x="535.60" y="72.82">1</text>
<line x1="530.00" x2="532.00" y1="39.91" y2="39.91" stroke="#262626" stroke-width="0.6"/>
<text class="t" x="535.60" y="43.11">1.2</text>
<text class="h" x="122.50" y="223.55" text-anchor="middle">Maximum error of wind speed, m/s</text>
<text class="t" x="33.40" y="231.45" text-anchor="end">360</text>
<text class="t" x="33.40" y="250.14" text-anchor="end">315</text>
<text class="t" x="33.40" y="268.82" text-anchor="end">270</text>
<text class="t" x="33.40" y="287.51" text-anchor="end">225</text>
<text class="t" x="33.40" y="306.20" text-anchor="end">180</text>
<text class="t" x="33.40" y="324.89" text-anchor="end">135</text>
<text class="t" x="33.40" y="343.57" text-anchor="end">90</text>
<text class="t" x="33.40" y="362.26" text-anchor="end">45</text>
<text class="t" x="33.40" y="380.95" text-anchor="end">0</text>
<text class="t" x="61.31" y="390.95" text-anchor="middle">5</text>
<text class="t" x="90.45" y="390.95" text-anchor="middle">10</text>
<text class="t" x="119.59" y="390.95" text-anchor="middle">15</text>
<text class="t" x="148.72" y="390.95" text-anchor="middle">20</text>
<text class="t" x="177.86" y="390.95" text-anchor="middle">25</text>
<text class="t" x="207.00" y="390.95" text-anchor="middle">30</text>
<text class="l" x="122.50" y="404.05" text-anchor="middle">Wind speed, m/s</text>
<text class="yl" transform="translate(12.80,303.45) rotate(-90)" text-anchor="middle">Wind direction, deg.</text>
<line x1="238.00" x2="240.00" y1="351.84" y2="351.84" stroke="#262626" stroke-width="0.6"/>
<text class="t" x="243.60" y="355.04">0.1</text>
<line x1="238.00" x2="240.00" y1="322.06" y2="322.06" stroke="#262626" stroke-width="0.6"/>
<text class="t" x="243.60" y="325.26">0.2</text>
<line x1="238.00" x2="240.00" y1="292.28" y2="292.28" stroke="#262626" stroke-width="0.6"/>
<text class="t" x="243.60" y="295.48">0.3</text>
<line x1="238.00" x2="240.00" y1="262.50" y2="262.50" stroke="#262626" stroke-width="0.6"/>
<text class="t" x="243.60" y="265.70">0.4</text>
<line x1="238.00" x2="240.00" y1="232.72" y2="232.72" stroke="#262626" stroke-width="0.6"/>
<text class="t" x="243.60" y="235.92">0.5</text>
<text class="h" x="414.50" y="223.55" text-anchor="middle">Maximum error of wind direction, deg.</text>
<text class="t" x="325.40" y="231.45" text-anchor="end">360</text>
<text class="t" x="325.40" y="250.14" text-anchor="end">315</text>
<text class="t" x="325.40" y="268.82" text-anchor="end">270</text>
<text class="t" x="325.40" y="287.51" text-anchor="end">225</text>
<text class="t" x="325.40" y="306.20" text-anchor="end">180</text>
<text class="t" x="325.40" y="324.89" text-anchor="end">135</text>
<text class="t" x="325.40" y="343.57" text-anchor="end">90</text>
<text class="t" x="325.40" y="362.26" text-anchor="end">45</text>
<text class="t" x="325.40" y="380.95" text-anchor="end">0</text>
<text class="t" x="353.31" y="390.95" text-anchor="middle">5</text>
<text class="t" x="382.45" y="390.95" text-anchor="middle">10</text>
<text class="t" x="411.59" y="390.95" text-anchor="middle">15</text>
<text class="t" x="440.72" y="390.95" text-anchor="middle">20</text>
<text class="t" x="469.86" y="390.95" text-anchor="middle">25</text>
<text class="t" x="499.00" y="390.95" text-anchor="middle">30</text>
<text class="l" x="414.50" y="404.05" text-anchor="middle">Wind speed, m/s</text>
<text class="yl" transform="translate(304.80,303.45) rotate(-90)" text-anchor="middle">Wind direction, deg.</text>
<line x1="530.00" x2="532.00" y1="359.58" y2="359.58" stroke="#262626" stroke-width="0.6"/>
<text class="t" x="535.60" y="362.78">1</text>
<line x1="530.00" x2="532.00" y1="337.09" y2="337.09" stroke="#262626" stroke-width="0.6"/>
<text class="t" x="535.60" y="340.29">1.5</text>
<line x1="530.00" x2="532.00" y1="314.60" y2="314.60" stroke="#262626" stroke-width="0.6"/>
<text class="t" x="535.60" y="317.80">2</text>
<line x1="530.00" x2="532.00" y1="292.12" y2="292.12" stroke="#262626" stroke-width="0.6"/>
<text class="t" x="535.60" y="295.32">2.5</text>
<line x1="530.00" x2="532.00" y1="269.63" y2="269.63" stroke="#262626" stroke-width="0.6"/>
<text class="t" x="535.60" y="272.83">3</text>
<line x1="530.00" x2="532.00" y1="247.14" y2="247.14" stroke="#262626" stroke-width="0.6"/>
<text class="t" x="535.60" y="250.34">3.5</text>
</svg>
</body></html>
